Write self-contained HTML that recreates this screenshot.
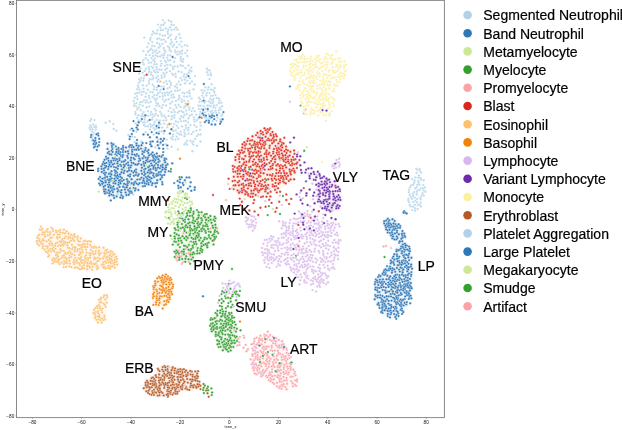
<!DOCTYPE html>
<html lang="en"><head><meta charset="utf-8"><title>t-SNE plot</title>
<style>
html,body{margin:0;padding:0;background:#fff;}
body{width:622px;height:430px;overflow:hidden;position:relative;font-family:"Liberation Sans",sans-serif;}
svg{position:absolute;left:0;top:0;display:block;}
.lab{font-family:"Liberation Sans",sans-serif;font-size:15px;fill:#000;stroke:#000;stroke-width:.22px;}
.leg{font-family:"Liberation Sans",sans-serif;font-size:14.8px;fill:#000;stroke:#000;stroke-width:.2px;}
.tick{font-family:"Liberation Sans",sans-serif;font-size:4.7px;fill:#111;}
</style></head><body>
<svg width="622" height="430" viewBox="0 0 622 430">
<rect x="0" y="0" width="622" height="430" fill="#fff"/>
<rect x="16.5" y="0.4" width="427.9" height="417.2" fill="none" stroke="#858585" stroke-width="0.95"/>
<g stroke="#444" stroke-width="0.4"><line x1="32.4" y1="417.6" x2="32.4" y2="418.8"/><line x1="15.3" y1="415.9" x2="16.5" y2="415.9"/><line x1="81.6" y1="417.6" x2="81.6" y2="418.8"/><line x1="15.3" y1="364.4" x2="16.5" y2="364.4"/><line x1="130.9" y1="417.6" x2="130.9" y2="418.8"/><line x1="15.3" y1="312.8" x2="16.5" y2="312.8"/><line x1="180.1" y1="417.6" x2="180.1" y2="418.8"/><line x1="15.3" y1="261.2" x2="16.5" y2="261.2"/><line x1="229.3" y1="417.6" x2="229.3" y2="418.8"/><line x1="15.3" y1="209.7" x2="16.5" y2="209.7"/><line x1="278.5" y1="417.6" x2="278.5" y2="418.8"/><line x1="15.3" y1="158.1" x2="16.5" y2="158.1"/><line x1="327.7" y1="417.6" x2="327.7" y2="418.8"/><line x1="15.3" y1="106.6" x2="16.5" y2="106.6"/><line x1="377.0" y1="417.6" x2="377.0" y2="418.8"/><line x1="15.3" y1="55.0" x2="16.5" y2="55.0"/><line x1="426.2" y1="417.6" x2="426.2" y2="418.8"/><line x1="15.3" y1="3.5" x2="16.5" y2="3.5"/></g>
<g class="tick"><text x="32.4" y="423.9" text-anchor="middle">−80</text><text x="14.3" y="417.6" text-anchor="end">−80</text><text x="81.6" y="423.9" text-anchor="middle">−60</text><text x="14.3" y="366.1" text-anchor="end">−60</text><text x="130.9" y="423.9" text-anchor="middle">−40</text><text x="14.3" y="314.5" text-anchor="end">−40</text><text x="180.1" y="423.9" text-anchor="middle">−20</text><text x="14.3" y="262.9" text-anchor="end">−20</text><text x="229.3" y="423.9" text-anchor="middle">0</text><text x="14.3" y="211.4" text-anchor="end">0</text><text x="278.5" y="423.9" text-anchor="middle">20</text><text x="14.3" y="159.8" text-anchor="end">20</text><text x="327.7" y="423.9" text-anchor="middle">40</text><text x="14.3" y="108.3" text-anchor="end">40</text><text x="377.0" y="423.9" text-anchor="middle">60</text><text x="14.3" y="56.7" text-anchor="end">60</text><text x="426.2" y="423.9" text-anchor="middle">80</text><text x="14.3" y="5.2" text-anchor="end">80</text><text x="230.5" y="428.4" text-anchor="middle" style="font-size:4px">tsne_x</text><text transform="translate(3.5,209.5) rotate(-90)" text-anchor="middle" style="font-size:4px">tsne_y</text></g>
<defs><filter id="bl" x="-5%" y="-5%" width="110%" height="110%"><feGaussianBlur stdDeviation="1.3"/></filter></defs>
<g filter="url(#bl)">
<polygon points="98.0,168.0 104.0,160.0 107.5,150.0 107.0,141.0 112.0,143.0 120.0,149.0 129.5,144.5 140.0,143.0 150.5,151.5 164.4,155.0 168.0,161.0 167.0,172.5 162.0,180.0 157.4,184.5 143.5,186.5 137.0,191.0 131.9,195.0 122.0,198.0 113.0,198.5 104.0,194.5 98.0,182.0" fill="#2e78b8" fill-opacity="0.08"/>
<polygon points="185.8,205.8 194.0,207.0 201.0,212.0 210.0,215.0 217.0,217.5 219.5,228.8 217.0,238.0 213.0,246.0 204.0,251.0 196.0,256.0 188.4,260.0 178.0,258.5 173.0,250.0 171.5,238.0 174.0,228.0 177.0,220.0 181.0,212.0" fill="#34a030" fill-opacity="0.06"/>
<polygon points="264.5,127.5 270.5,127.9 282.3,139.8 290.2,149.6 298.1,163.5 296.5,171.4 292.2,179.3 282.3,186.0 274.4,190.5 264.5,195.0 254.6,197.0 240.8,196.0 233.9,191.1 231.9,179.3 231.9,169.4 233.9,159.5 239.0,149.0 244.8,139.8 256.6,132.5" fill="#de3224" fill-opacity="0.08"/>
<polygon points="320.0,181.0 328.0,178.0 335.0,181.0 340.0,189.0 341.5,200.0 339.0,208.0 333.0,212.0 326.0,212.0 320.0,207.0 317.5,198.0 317.5,188.0" fill="#6c2cac" fill-opacity="0.07"/>
<polygon points="381.5,221.0 388.0,218.0 394.7,217.6 401.0,226.0 406.0,237.0 399.5,240.5 391.9,239.0 386.0,231.0" fill="#2e78b8" fill-opacity="0.1"/>
<polygon points="400.0,240.0 405.0,241.5 409.0,246.0 412.0,257.4 412.5,271.4 412.6,285.4 410.0,299.3 404.0,313.0 396.0,319.5 388.0,318.0 380.7,311.9 374.5,299.3 373.6,288.0 376.0,278.0 381.7,271.0 388.7,264.0 392.9,257.0 396.0,250.0 398.0,244.0" fill="#2e78b8" fill-opacity="0.08"/>
<polygon points="35.4,234.6 39.6,229.0 47.9,226.7 56.3,227.6 66.1,230.4 75.9,234.0 92.6,242.4 103.8,247.1 112.2,251.3 117.2,256.9 118.3,266.7 113.6,269.5 98.2,270.3 84.2,270.0 75.9,269.5 66.1,268.0 56.3,265.3 47.9,256.9 40.9,249.9 36.8,244.3" fill="#fcc070" fill-opacity="0.09"/>
<polygon points="104.0,293.0 108.0,296.0 106.0,308.0 105.0,320.0 100.0,324.0 94.0,320.0 93.0,310.0 98.0,302.0 101.0,296.0" fill="#fcc070" fill-opacity="0.075"/>
<polygon points="172.8,292.7 172.1,295.2 171.2,297.6 170.1,299.8 168.8,301.8 167.3,303.5 165.8,304.8 164.1,305.9 162.4,306.5 160.7,306.8 159.1,306.6 157.5,306.1 156.1,305.2 154.8,303.9 153.7,302.3 152.8,300.4 152.2,298.2 151.8,295.9 151.7,293.4 151.8,290.9 152.2,288.3 152.9,285.8 153.8,283.4 154.9,281.2 156.2,279.2 157.7,277.5 159.2,276.2 160.9,275.1 162.6,274.5 164.3,274.2 165.9,274.4 167.5,274.9 168.9,275.8 170.2,277.1 171.3,278.7 172.2,280.6 172.8,282.8 173.2,285.1 173.3,287.6 173.2,290.1" fill="#f28208" fill-opacity="0.1"/>
<polygon points="216.0,312.0 231.6,312.0 235.0,322.0 238.0,331.0 237.0,342.0 232.0,350.0 226.8,352.5 219.5,350.0 214.7,338.0 209.0,328.0 209.5,318.0" fill="#34a030" fill-opacity="0.08"/>
<polygon points="257.3,336.0 264.0,334.0 271.8,334.6 283.4,341.8 288.0,352.0 292.0,362.0 297.8,376.6 296.4,386.0 288.0,390.0 280.5,389.6 272.0,384.0 266.0,379.4 254.4,373.7 250.0,362.0 251.5,350.5 253.0,342.0" fill="#faa4aa" fill-opacity="0.09"/>
<polygon points="141.9,386.7 145.1,382.2 152.9,375.7 159.3,366.7 166.0,365.5 172.2,365.8 182.4,368.4 190.0,369.4 196.6,370.6 198.5,378.3 201.0,386.0 196.6,390.0 188.0,390.5 182.4,390.0 177.3,393.7 170.9,395.7 159.3,397.6 150.3,395.0 143.9,389.9" fill="#b65a26" fill-opacity="0.1"/>
</g>
<g class="pts" stroke="#fff" stroke-width="0.3">
<g fill="#b9d7eb"><circle cx="177.4" cy="29.7" r="1.2"/><circle cx="162.5" cy="93.4" r="1.2"/><circle cx="207.9" cy="69.9" r="1.2"/><circle cx="176.8" cy="84.3" r="1.2"/><circle cx="92.5" cy="138.9" r="1.2"/><circle cx="420.0" cy="205.0" r="1.2"/><circle cx="156.5" cy="67.3" r="1.2"/><circle cx="164.3" cy="49.9" r="1.2"/><circle cx="168.6" cy="99.3" r="1.2"/><circle cx="143.0" cy="122.5" r="1.2"/><circle cx="158.6" cy="47.8" r="1.2"/><circle cx="172.6" cy="139.5" r="1.2"/><circle cx="175.7" cy="76.7" r="1.2"/><circle cx="154.8" cy="108.9" r="1.2"/><circle cx="214.4" cy="92.2" r="1.2"/><circle cx="134.0" cy="105.7" r="1.2"/><circle cx="181.0" cy="121.1" r="1.2"/><circle cx="164.0" cy="115.7" r="1.2"/><circle cx="160.3" cy="27.8" r="1.2"/><circle cx="143.7" cy="91.7" r="1.2"/><circle cx="142.5" cy="62.3" r="1.2"/><circle cx="144.0" cy="100.1" r="1.2"/><circle cx="180.3" cy="37.9" r="1.2"/><circle cx="156.9" cy="64.1" r="1.2"/><circle cx="109.7" cy="121.2" r="1.2"/><circle cx="89.5" cy="127.9" r="1.2"/><circle cx="156.7" cy="69.6" r="1.2"/><circle cx="422.5" cy="193.3" r="1.2"/><circle cx="213.4" cy="90.3" r="1.2"/><circle cx="408.8" cy="192.1" r="1.2"/><circle cx="154.2" cy="95.2" r="1.2"/><circle cx="177.5" cy="90.7" r="1.2"/><circle cx="133.2" cy="194.5" r="1.2"/><circle cx="177.3" cy="54.6" r="1.2"/><circle cx="410.1" cy="187.3" r="1.2"/><circle cx="194.5" cy="121.6" r="1.2"/><circle cx="162.2" cy="127.5" r="1.2"/><circle cx="150.2" cy="124.3" r="1.2"/><circle cx="193.5" cy="89.3" r="1.2"/><circle cx="207.7" cy="110.8" r="1.2"/><circle cx="134.7" cy="103.7" r="1.2"/><circle cx="415.2" cy="210.5" r="1.2"/><circle cx="409.7" cy="204.7" r="1.2"/><circle cx="147.6" cy="74.5" r="1.2"/><circle cx="188.5" cy="127.7" r="1.2"/><circle cx="186.1" cy="128.0" r="1.2"/><circle cx="154.8" cy="58.8" r="1.2"/><circle cx="174.2" cy="61.8" r="1.2"/><circle cx="176.6" cy="107.5" r="1.2"/><circle cx="145.7" cy="132.2" r="1.2"/><circle cx="421.2" cy="179.9" r="1.2"/><circle cx="164.6" cy="76.9" r="1.2"/><circle cx="180.7" cy="131.6" r="1.2"/><circle cx="141.2" cy="115.9" r="1.2"/><circle cx="202.2" cy="95.6" r="1.2"/><circle cx="185.4" cy="134.6" r="1.2"/><circle cx="157.0" cy="42.9" r="1.2"/><circle cx="189.8" cy="96.0" r="1.2"/><circle cx="144.3" cy="75.7" r="1.2"/><circle cx="153.9" cy="89.3" r="1.2"/><circle cx="418.2" cy="180.9" r="1.2"/><circle cx="170.9" cy="124.0" r="1.2"/><circle cx="148.6" cy="43.5" r="1.2"/><circle cx="206.3" cy="95.5" r="1.2"/><circle cx="146.1" cy="55.0" r="1.2"/><circle cx="161.4" cy="39.7" r="1.2"/><circle cx="420.6" cy="178.3" r="1.2"/><circle cx="135.2" cy="93.8" r="1.2"/><circle cx="411.2" cy="185.3" r="1.2"/><circle cx="153.7" cy="134.6" r="1.2"/><circle cx="170.3" cy="107.9" r="1.2"/><circle cx="145.7" cy="102.5" r="1.2"/><circle cx="156.3" cy="128.2" r="1.2"/><circle cx="181.7" cy="72.1" r="1.2"/><circle cx="130.4" cy="129.9" r="1.2"/><circle cx="199.6" cy="101.9" r="1.2"/><circle cx="154.4" cy="64.2" r="1.2"/><circle cx="137.0" cy="117.8" r="1.2"/><circle cx="101.8" cy="185.6" r="1.2"/><circle cx="159.8" cy="34.2" r="1.2"/><circle cx="157.8" cy="72.2" r="1.2"/><circle cx="146.0" cy="68.7" r="1.2"/><circle cx="167.2" cy="57.8" r="1.2"/><circle cx="152.7" cy="96.9" r="1.2"/><circle cx="166.6" cy="72.4" r="1.2"/><circle cx="158.0" cy="93.3" r="1.2"/><circle cx="167.0" cy="84.0" r="1.2"/><circle cx="151.0" cy="74.6" r="1.2"/><circle cx="198.4" cy="134.5" r="1.2"/><circle cx="152.9" cy="31.5" r="1.2"/><circle cx="140.7" cy="110.3" r="1.2"/><circle cx="160.7" cy="89.6" r="1.2"/><circle cx="146.2" cy="93.2" r="1.2"/><circle cx="174.7" cy="66.4" r="1.2"/><circle cx="163.4" cy="57.9" r="1.2"/><circle cx="193.0" cy="108.3" r="1.2"/><circle cx="191.9" cy="114.7" r="1.2"/><circle cx="143.5" cy="88.6" r="1.2"/><circle cx="144.9" cy="122.4" r="1.2"/><circle cx="165.6" cy="41.8" r="1.2"/><circle cx="154.5" cy="46.1" r="1.2"/><circle cx="113.3" cy="124.1" r="1.2"/><circle cx="151.1" cy="112.0" r="1.2"/><circle cx="157.0" cy="98.4" r="1.2"/><circle cx="210.4" cy="111.7" r="1.2"/><circle cx="171.9" cy="73.6" r="1.2"/><circle cx="146.6" cy="85.8" r="1.2"/><circle cx="135.5" cy="114.3" r="1.2"/><circle cx="216.8" cy="105.1" r="1.2"/><circle cx="160.0" cy="92.0" r="1.2"/><circle cx="182.8" cy="65.9" r="1.2"/><circle cx="415.4" cy="200.6" r="1.2"/><circle cx="191.6" cy="111.1" r="1.2"/><circle cx="410.7" cy="206.2" r="1.2"/><circle cx="153.2" cy="60.2" r="1.2"/><circle cx="205.2" cy="87.4" r="1.2"/><circle cx="150.9" cy="126.8" r="1.2"/><circle cx="154.7" cy="129.8" r="1.2"/><circle cx="184.4" cy="93.3" r="1.2"/><circle cx="184.8" cy="45.1" r="1.2"/><circle cx="153.6" cy="128.1" r="1.2"/><circle cx="183.1" cy="117.3" r="1.2"/><circle cx="186.6" cy="114.0" r="1.2"/><circle cx="420.7" cy="188.5" r="1.2"/><circle cx="163.4" cy="72.9" r="1.2"/><circle cx="151.2" cy="72.4" r="1.2"/><circle cx="154.1" cy="86.7" r="1.2"/><circle cx="177.8" cy="112.5" r="1.2"/><circle cx="179.1" cy="95.8" r="1.2"/><circle cx="152.7" cy="92.4" r="1.2"/><circle cx="143.2" cy="80.5" r="1.2"/><circle cx="148.0" cy="126.3" r="1.2"/><circle cx="163.8" cy="48.0" r="1.2"/><circle cx="157.5" cy="30.4" r="1.2"/><circle cx="95.9" cy="125.8" r="1.2"/><circle cx="159.0" cy="38.4" r="1.2"/><circle cx="180.4" cy="84.7" r="1.2"/><circle cx="197.0" cy="136.1" r="1.2"/><circle cx="175.3" cy="105.1" r="1.2"/><circle cx="164.1" cy="53.5" r="1.2"/><circle cx="160.9" cy="61.1" r="1.2"/><circle cx="171.6" cy="146.7" r="1.2"/><circle cx="162.9" cy="105.0" r="1.2"/><circle cx="145.6" cy="96.7" r="1.2"/><circle cx="184.3" cy="130.1" r="1.2"/><circle cx="182.1" cy="126.4" r="1.2"/><circle cx="159.4" cy="69.6" r="1.2"/><circle cx="137.4" cy="98.9" r="1.2"/><circle cx="209.7" cy="70.5" r="1.2"/><circle cx="420.0" cy="171.0" r="1.2"/><circle cx="181.3" cy="41.6" r="1.2"/><circle cx="189.8" cy="83.5" r="1.2"/><circle cx="178.5" cy="71.5" r="1.2"/><circle cx="162.9" cy="20.1" r="1.2"/><circle cx="174.4" cy="115.3" r="1.2"/><circle cx="169.6" cy="36.1" r="1.2"/><circle cx="204.4" cy="117.3" r="1.2"/><circle cx="208.3" cy="119.0" r="1.2"/><circle cx="152.7" cy="117.4" r="1.2"/><circle cx="136.4" cy="131.7" r="1.2"/><circle cx="194.8" cy="84.5" r="1.2"/><circle cx="213.5" cy="99.0" r="1.2"/><circle cx="201.7" cy="90.3" r="1.2"/><circle cx="221.2" cy="102.7" r="1.2"/><circle cx="157.9" cy="115.7" r="1.2"/><circle cx="201.4" cy="109.0" r="1.2"/><circle cx="144.7" cy="119.5" r="1.2"/><circle cx="152.7" cy="114.4" r="1.2"/><circle cx="145.0" cy="117.4" r="1.2"/><circle cx="154.9" cy="61.8" r="1.2"/><circle cx="171.6" cy="97.4" r="1.2"/><circle cx="156.7" cy="33.5" r="1.2"/><circle cx="166.9" cy="68.3" r="1.2"/><circle cx="189.4" cy="90.8" r="1.2"/><circle cx="161.6" cy="75.8" r="1.2"/><circle cx="163.9" cy="82.6" r="1.2"/><circle cx="158.4" cy="79.5" r="1.2"/><circle cx="419.4" cy="190.1" r="1.2"/><circle cx="188.6" cy="133.7" r="1.2"/><circle cx="185.3" cy="106.3" r="1.2"/><circle cx="139.1" cy="92.8" r="1.2"/><circle cx="215.3" cy="107.6" r="1.2"/><circle cx="92.0" cy="131.5" r="1.2"/><circle cx="154.2" cy="33.3" r="1.2"/><circle cx="170.3" cy="64.9" r="1.2"/><circle cx="161.3" cy="86.4" r="1.2"/><circle cx="214.8" cy="87.9" r="1.2"/><circle cx="153.4" cy="78.2" r="1.2"/><circle cx="149.2" cy="106.6" r="1.2"/><circle cx="182.5" cy="92.6" r="1.2"/><circle cx="137.3" cy="109.3" r="1.2"/><circle cx="413.0" cy="206.7" r="1.2"/><circle cx="142.7" cy="72.6" r="1.2"/><circle cx="174.0" cy="124.0" r="1.2"/><circle cx="425.4" cy="191.7" r="1.2"/><circle cx="149.6" cy="50.3" r="1.2"/><circle cx="154.5" cy="98.7" r="1.2"/><circle cx="415.2" cy="188.3" r="1.2"/><circle cx="164.0" cy="55.5" r="1.2"/><circle cx="151.9" cy="79.5" r="1.2"/><circle cx="148.9" cy="71.7" r="1.2"/><circle cx="151.8" cy="66.5" r="1.2"/><circle cx="213.5" cy="107.3" r="1.2"/><circle cx="183.1" cy="59.3" r="1.2"/><circle cx="197.0" cy="145.7" r="1.2"/><circle cx="177.9" cy="51.6" r="1.2"/><circle cx="212.6" cy="121.0" r="1.2"/><circle cx="204.5" cy="90.6" r="1.2"/><circle cx="169.5" cy="80.9" r="1.2"/><circle cx="170.9" cy="51.3" r="1.2"/><circle cx="414.5" cy="180.5" r="1.2"/><circle cx="187.0" cy="144.5" r="1.2"/><circle cx="182.0" cy="80.1" r="1.2"/><circle cx="191.7" cy="133.9" r="1.2"/><circle cx="187.0" cy="96.6" r="1.2"/><circle cx="147.8" cy="89.7" r="1.2"/><circle cx="209.1" cy="105.7" r="1.2"/><circle cx="117.3" cy="194.2" r="1.2"/><circle cx="162.7" cy="96.2" r="1.2"/><circle cx="422.9" cy="188.2" r="1.2"/><circle cx="170.3" cy="103.5" r="1.2"/><circle cx="144.3" cy="37.6" r="1.2"/><circle cx="213.1" cy="101.5" r="1.2"/><circle cx="128.4" cy="134.9" r="1.2"/><circle cx="187.8" cy="105.2" r="1.2"/><circle cx="150.6" cy="38.0" r="1.2"/><circle cx="189.2" cy="109.6" r="1.2"/><circle cx="191.4" cy="71.2" r="1.2"/><circle cx="193.4" cy="141.1" r="1.2"/><circle cx="196.3" cy="130.6" r="1.2"/><circle cx="167.8" cy="33.7" r="1.2"/><circle cx="167.9" cy="46.5" r="1.2"/><circle cx="210.6" cy="73.5" r="1.2"/><circle cx="145.7" cy="58.3" r="1.2"/><circle cx="161.7" cy="78.0" r="1.2"/><circle cx="417.7" cy="189.9" r="1.2"/><circle cx="172.7" cy="46.5" r="1.2"/><circle cx="213.6" cy="112.8" r="1.2"/><circle cx="416.9" cy="186.9" r="1.2"/><circle cx="176.3" cy="36.9" r="1.2"/><circle cx="208.9" cy="101.5" r="1.2"/><circle cx="156.3" cy="77.8" r="1.2"/><circle cx="210.1" cy="118.5" r="1.2"/><circle cx="168.4" cy="29.6" r="1.2"/><circle cx="156.0" cy="110.6" r="1.2"/><circle cx="175.5" cy="38.9" r="1.2"/><circle cx="181.7" cy="46.6" r="1.2"/><circle cx="191.2" cy="67.7" r="1.2"/><circle cx="157.6" cy="56.4" r="1.2"/><circle cx="413.3" cy="184.8" r="1.2"/><circle cx="183.6" cy="76.5" r="1.2"/><circle cx="136.5" cy="103.1" r="1.2"/><circle cx="163.4" cy="120.6" r="1.2"/><circle cx="209.5" cy="93.1" r="1.2"/><circle cx="186.0" cy="120.7" r="1.2"/><circle cx="91.4" cy="126.9" r="1.2"/><circle cx="135.0" cy="136.9" r="1.2"/><circle cx="417.2" cy="184.6" r="1.2"/><circle cx="418.9" cy="182.8" r="1.2"/><circle cx="419.6" cy="168.9" r="1.2"/><circle cx="169.3" cy="47.8" r="1.2"/><circle cx="138.5" cy="115.3" r="1.2"/><circle cx="179.2" cy="54.1" r="1.2"/><circle cx="184.3" cy="100.6" r="1.2"/><circle cx="142.4" cy="101.9" r="1.2"/><circle cx="167.5" cy="88.4" r="1.2"/><circle cx="154.7" cy="121.8" r="1.2"/><circle cx="146.6" cy="107.2" r="1.2"/><circle cx="166.0" cy="62.3" r="1.2"/><circle cx="191.9" cy="81.5" r="1.2"/><circle cx="416.2" cy="168.7" r="1.2"/><circle cx="178.2" cy="127.9" r="1.2"/><circle cx="174.0" cy="44.7" r="1.2"/><circle cx="133.8" cy="100.9" r="1.2"/><circle cx="160.1" cy="56.5" r="1.2"/><circle cx="160.9" cy="30.1" r="1.2"/><circle cx="174.9" cy="86.5" r="1.2"/><circle cx="170.9" cy="34.6" r="1.2"/><circle cx="182.0" cy="53.6" r="1.2"/><circle cx="152.8" cy="50.2" r="1.2"/><circle cx="149.1" cy="83.6" r="1.2"/><circle cx="148.8" cy="67.2" r="1.2"/><circle cx="186.1" cy="110.6" r="1.2"/><circle cx="165.7" cy="28.4" r="1.2"/><circle cx="216.8" cy="98.0" r="1.2"/><circle cx="143.8" cy="78.4" r="1.2"/><circle cx="171.2" cy="91.5" r="1.2"/><circle cx="198.5" cy="105.8" r="1.2"/><circle cx="94.5" cy="120.1" r="1.2"/><circle cx="143.8" cy="64.2" r="1.2"/><circle cx="147.7" cy="121.3" r="1.2"/><circle cx="417.6" cy="209.0" r="1.2"/><circle cx="152.6" cy="125.5" r="1.2"/><circle cx="217.4" cy="117.5" r="1.2"/><circle cx="164.8" cy="22.7" r="1.2"/><circle cx="180.5" cy="77.9" r="1.2"/><circle cx="138.7" cy="120.3" r="1.2"/><circle cx="424.8" cy="187.5" r="1.2"/><circle cx="175.4" cy="73.7" r="1.2"/><circle cx="414.9" cy="208.1" r="1.2"/><circle cx="205.7" cy="108.8" r="1.2"/><circle cx="151.2" cy="62.6" r="1.2"/><circle cx="220.6" cy="109.6" r="1.2"/><circle cx="185.7" cy="77.4" r="1.2"/><circle cx="412.2" cy="210.1" r="1.2"/><circle cx="129.2" cy="149.5" r="1.2"/><circle cx="142.7" cy="105.7" r="1.2"/><circle cx="92.5" cy="136.4" r="1.2"/><circle cx="113.7" cy="128.9" r="1.2"/><circle cx="416.9" cy="191.7" r="1.2"/><circle cx="160.0" cy="120.5" r="1.2"/><circle cx="150.2" cy="39.9" r="1.2"/><circle cx="138.8" cy="107.6" r="1.2"/><circle cx="184.1" cy="96.5" r="1.2"/><circle cx="181.7" cy="99.6" r="1.2"/><circle cx="200.1" cy="99.3" r="1.2"/><circle cx="215.5" cy="110.7" r="1.2"/><circle cx="137.0" cy="96.1" r="1.2"/><circle cx="151.9" cy="34.8" r="1.2"/><circle cx="423.8" cy="180.2" r="1.2"/><circle cx="415.5" cy="177.5" r="1.2"/><circle cx="181.3" cy="134.8" r="1.2"/><circle cx="152.1" cy="45.8" r="1.2"/><circle cx="172.8" cy="67.0" r="1.2"/><circle cx="149.2" cy="98.2" r="1.2"/><circle cx="214.1" cy="105.4" r="1.2"/><circle cx="171.1" cy="39.8" r="1.2"/><circle cx="156.5" cy="105.5" r="1.2"/><circle cx="105.6" cy="122.7" r="1.2"/><circle cx="140.3" cy="81.0" r="1.2"/><circle cx="159.3" cy="43.9" r="1.2"/><circle cx="90.3" cy="120.9" r="1.2"/><circle cx="148.7" cy="174.1" r="1.2"/><circle cx="157.3" cy="81.5" r="1.2"/><circle cx="175.0" cy="50.4" r="1.2"/><circle cx="167.5" cy="148.6" r="1.2"/><circle cx="163.7" cy="133.4" r="1.2"/><circle cx="167.3" cy="65.0" r="1.2"/><circle cx="193.9" cy="117.4" r="1.2"/><circle cx="206.8" cy="92.9" r="1.2"/><circle cx="145.5" cy="126.3" r="1.2"/><circle cx="423.7" cy="190.4" r="1.2"/><circle cx="152.2" cy="42.0" r="1.2"/><circle cx="189.7" cy="93.2" r="1.2"/><circle cx="175.8" cy="130.3" r="1.2"/><circle cx="159.7" cy="144.4" r="1.2"/><circle cx="200.3" cy="122.5" r="1.2"/><circle cx="175.6" cy="52.4" r="1.2"/><circle cx="412.9" cy="193.8" r="1.2"/><circle cx="153.0" cy="67.9" r="1.2"/><circle cx="146.6" cy="100.5" r="1.2"/><circle cx="413.2" cy="201.9" r="1.2"/><circle cx="416.9" cy="202.2" r="1.2"/><circle cx="137.1" cy="93.0" r="1.2"/><circle cx="421.6" cy="195.6" r="1.2"/><circle cx="139.4" cy="89.6" r="1.2"/><circle cx="159.4" cy="131.6" r="1.2"/><circle cx="410.8" cy="197.0" r="1.2"/><circle cx="212.0" cy="110.7" r="1.2"/><circle cx="414.1" cy="192.1" r="1.2"/><circle cx="184.7" cy="79.6" r="1.2"/><circle cx="176.8" cy="47.3" r="1.2"/><circle cx="156.3" cy="102.8" r="1.2"/><circle cx="187.1" cy="80.6" r="1.2"/><circle cx="151.5" cy="58.0" r="1.2"/><circle cx="171.6" cy="24.8" r="1.2"/><circle cx="161.5" cy="131.3" r="1.2"/><circle cx="213.1" cy="95.6" r="1.2"/><circle cx="161.7" cy="55.2" r="1.2"/><circle cx="189.7" cy="78.0" r="1.2"/><circle cx="414.8" cy="197.6" r="1.2"/><circle cx="218.9" cy="102.9" r="1.2"/><circle cx="161.7" cy="107.8" r="1.2"/><circle cx="196.7" cy="120.5" r="1.2"/><circle cx="179.4" cy="134.2" r="1.2"/><circle cx="218.9" cy="98.4" r="1.2"/><circle cx="174.7" cy="111.9" r="1.2"/><circle cx="155.2" cy="147.5" r="1.2"/><circle cx="165.4" cy="51.5" r="1.2"/><circle cx="154.8" cy="51.5" r="1.2"/><circle cx="195.2" cy="138.8" r="1.2"/><circle cx="191.6" cy="98.6" r="1.2"/><circle cx="175.6" cy="139.6" r="1.2"/><circle cx="141.6" cy="91.7" r="1.2"/><circle cx="155.5" cy="72.2" r="1.2"/><circle cx="172.2" cy="101.6" r="1.2"/><circle cx="94.3" cy="126.8" r="1.2"/><circle cx="206.1" cy="117.7" r="1.2"/><circle cx="167.9" cy="55.1" r="1.2"/><circle cx="168.5" cy="111.0" r="1.2"/><circle cx="130.6" cy="184.7" r="1.2"/><circle cx="144.8" cy="71.0" r="1.2"/><circle cx="209.5" cy="78.9" r="1.2"/><circle cx="157.9" cy="24.6" r="1.2"/><circle cx="194.7" cy="111.3" r="1.2"/><circle cx="211.1" cy="89.5" r="1.2"/><circle cx="200.4" cy="105.8" r="1.2"/><circle cx="416.5" cy="172.9" r="1.2"/><circle cx="412.0" cy="198.7" r="1.2"/><circle cx="143.1" cy="116.3" r="1.2"/><circle cx="168.9" cy="20.5" r="1.2"/><circle cx="216.6" cy="120.8" r="1.2"/><circle cx="185.4" cy="68.0" r="1.2"/><circle cx="176.6" cy="41.9" r="1.2"/><circle cx="173.1" cy="134.4" r="1.2"/><circle cx="169.6" cy="49.8" r="1.2"/><circle cx="152.0" cy="119.5" r="1.2"/><circle cx="149.0" cy="95.7" r="1.2"/><circle cx="156.9" cy="95.1" r="1.2"/><circle cx="189.6" cy="70.2" r="1.2"/><circle cx="204.5" cy="102.8" r="1.2"/><circle cx="155.8" cy="100.3" r="1.2"/><circle cx="161.8" cy="116.1" r="1.2"/><circle cx="203.7" cy="97.6" r="1.2"/><circle cx="211.7" cy="84.3" r="1.2"/><circle cx="178.5" cy="138.9" r="1.2"/><circle cx="173.2" cy="75.1" r="1.2"/><circle cx="173.1" cy="127.1" r="1.2"/><circle cx="149.0" cy="62.7" r="1.2"/><circle cx="205.6" cy="101.1" r="1.2"/><circle cx="167.2" cy="127.4" r="1.2"/><circle cx="184.4" cy="115.1" r="1.2"/><circle cx="185.8" cy="125.3" r="1.2"/><circle cx="179.8" cy="90.0" r="1.2"/><circle cx="139.8" cy="104.6" r="1.2"/><circle cx="180.6" cy="65.3" r="1.2"/><circle cx="154.1" cy="124.2" r="1.2"/><circle cx="165.1" cy="69.8" r="1.2"/><circle cx="178.1" cy="121.9" r="1.2"/><circle cx="169.9" cy="71.1" r="1.2"/><circle cx="420.7" cy="199.3" r="1.2"/><circle cx="142.9" cy="85.2" r="1.2"/><circle cx="168.7" cy="115.9" r="1.2"/><circle cx="184.4" cy="132.8" r="1.2"/><circle cx="182.8" cy="61.7" r="1.2"/><circle cx="203.1" cy="111.7" r="1.2"/><circle cx="188.1" cy="122.4" r="1.2"/><circle cx="171.5" cy="94.9" r="1.2"/><circle cx="167.5" cy="125.1" r="1.2"/><circle cx="216.3" cy="113.0" r="1.2"/><circle cx="134.8" cy="97.8" r="1.2"/><circle cx="198.0" cy="118.8" r="1.2"/><circle cx="189.3" cy="107.4" r="1.2"/><circle cx="141.2" cy="78.0" r="1.2"/><circle cx="164.2" cy="123.6" r="1.2"/><circle cx="417.1" cy="198.9" r="1.2"/><circle cx="163.7" cy="39.6" r="1.2"/><circle cx="184.4" cy="144.5" r="1.2"/><circle cx="211.1" cy="75.3" r="1.2"/><circle cx="167.8" cy="31.7" r="1.2"/><circle cx="164.6" cy="74.5" r="1.2"/><circle cx="152.7" cy="75.9" r="1.2"/><circle cx="166.2" cy="120.2" r="1.2"/><circle cx="175.8" cy="121.3" r="1.2"/><circle cx="211.8" cy="113.3" r="1.2"/><circle cx="187.2" cy="50.5" r="1.2"/><circle cx="159.4" cy="106.0" r="1.2"/><circle cx="169.8" cy="87.3" r="1.2"/><circle cx="174.3" cy="117.7" r="1.2"/><circle cx="134.7" cy="142.0" r="1.2"/><circle cx="179.4" cy="97.8" r="1.2"/><circle cx="124.3" cy="155.1" r="1.2"/><circle cx="93.7" cy="132.4" r="1.2"/><circle cx="202.9" cy="92.9" r="1.2"/><circle cx="196.1" cy="114.6" r="1.2"/><circle cx="207.3" cy="105.5" r="1.2"/><circle cx="192.3" cy="142.8" r="1.2"/><circle cx="210.9" cy="106.1" r="1.2"/><circle cx="150.2" cy="91.9" r="1.2"/><circle cx="167.3" cy="92.4" r="1.2"/><circle cx="171.0" cy="84.9" r="1.2"/><circle cx="185.1" cy="83.3" r="1.2"/><circle cx="185.6" cy="103.5" r="1.2"/><circle cx="200.3" cy="111.7" r="1.2"/><circle cx="165.0" cy="93.0" r="1.2"/><circle cx="408.4" cy="200.5" r="1.2"/><circle cx="417.5" cy="170.0" r="1.2"/><circle cx="158.0" cy="76.1" r="1.2"/><circle cx="219.8" cy="107.7" r="1.2"/><circle cx="157.0" cy="87.4" r="1.2"/><circle cx="188.7" cy="72.8" r="1.2"/><circle cx="181.6" cy="111.3" r="1.2"/><circle cx="135.3" cy="112.0" r="1.2"/><circle cx="171.5" cy="30.0" r="1.2"/><circle cx="176.7" cy="136.8" r="1.2"/><circle cx="150.6" cy="114.8" r="1.2"/><circle cx="142.5" cy="113.9" r="1.2"/><circle cx="158.1" cy="139.5" r="1.2"/><circle cx="162.9" cy="99.1" r="1.2"/><circle cx="141.1" cy="141.4" r="1.2"/><circle cx="91.2" cy="119.0" r="1.2"/><circle cx="208.1" cy="74.9" r="1.2"/><circle cx="143.7" cy="112.0" r="1.2"/><circle cx="177.0" cy="87.7" r="1.2"/><circle cx="93.2" cy="124.4" r="1.2"/><circle cx="169.4" cy="92.8" r="1.2"/><circle cx="164.9" cy="35.6" r="1.2"/><circle cx="123.4" cy="185.1" r="1.2"/><circle cx="193.2" cy="131.9" r="1.2"/><circle cx="177.7" cy="66.5" r="1.2"/><circle cx="161.3" cy="25.0" r="1.2"/><circle cx="90.2" cy="125.5" r="1.2"/><circle cx="148.7" cy="102.6" r="1.2"/><circle cx="170.1" cy="27.3" r="1.2"/><circle cx="184.2" cy="74.1" r="1.2"/><circle cx="178.5" cy="99.5" r="1.2"/><circle cx="185.3" cy="53.1" r="1.2"/><circle cx="211.1" cy="95.9" r="1.2"/><circle cx="148.0" cy="111.1" r="1.2"/><circle cx="202.0" cy="101.4" r="1.2"/><circle cx="418.0" cy="205.0" r="1.2"/><circle cx="218.8" cy="110.4" r="1.2"/><circle cx="210.2" cy="98.9" r="1.2"/><circle cx="416.7" cy="194.3" r="1.2"/><circle cx="141.1" cy="121.0" r="1.2"/><circle cx="181.2" cy="115.9" r="1.2"/><circle cx="159.4" cy="51.7" r="1.2"/><circle cx="207.1" cy="72.2" r="1.2"/><circle cx="149.3" cy="69.2" r="1.2"/><circle cx="95.7" cy="129.8" r="1.2"/><circle cx="152.8" cy="84.8" r="1.2"/><circle cx="211.8" cy="100.1" r="1.2"/><circle cx="418.4" cy="177.8" r="1.2"/><circle cx="171.2" cy="21.7" r="1.2"/><circle cx="166.2" cy="81.1" r="1.2"/><circle cx="222.4" cy="114.4" r="1.2"/><circle cx="179.2" cy="111.1" r="1.2"/><circle cx="194.2" cy="119.6" r="1.2"/><circle cx="409.0" cy="189.8" r="1.2"/><circle cx="165.9" cy="105.5" r="1.2"/><circle cx="143.3" cy="51.1" r="1.2"/><circle cx="156.9" cy="120.0" r="1.2"/><circle cx="161.5" cy="69.8" r="1.2"/><circle cx="187.3" cy="56.0" r="1.2"/><circle cx="154.7" cy="115.5" r="1.2"/><circle cx="138.0" cy="85.5" r="1.2"/><circle cx="135.7" cy="123.4" r="1.2"/><circle cx="423.8" cy="195.5" r="1.2"/><circle cx="147.9" cy="60.1" r="1.2"/><circle cx="148.2" cy="116.1" r="1.2"/><circle cx="171.9" cy="116.3" r="1.2"/><circle cx="163.8" cy="86.8" r="1.2"/><circle cx="170.8" cy="83.0" r="1.2"/><circle cx="160.1" cy="111.8" r="1.2"/><circle cx="206.8" cy="68.5" r="1.2"/><circle cx="180.1" cy="118.7" r="1.2"/><circle cx="151.0" cy="48.7" r="1.2"/><circle cx="196.4" cy="126.9" r="1.2"/><circle cx="190.5" cy="125.1" r="1.2"/><circle cx="180.2" cy="51.9" r="1.2"/><circle cx="420.6" cy="202.8" r="1.2"/><circle cx="212.3" cy="103.2" r="1.2"/><circle cx="179.3" cy="44.6" r="1.2"/><circle cx="188.5" cy="65.5" r="1.2"/><circle cx="208.8" cy="114.2" r="1.2"/><circle cx="171.8" cy="42.2" r="1.2"/><circle cx="171.6" cy="112.3" r="1.2"/><circle cx="156.2" cy="50.1" r="1.2"/><circle cx="149.7" cy="78.9" r="1.2"/><circle cx="171.0" cy="137.9" r="1.2"/><circle cx="181.9" cy="101.9" r="1.2"/><circle cx="154.0" cy="70.8" r="1.2"/><circle cx="91.8" cy="140.4" r="1.2"/><circle cx="137.1" cy="89.1" r="1.2"/><circle cx="200.0" cy="129.7" r="1.2"/><circle cx="391.0" cy="248.0" r="1.2"/><circle cx="414.7" cy="204.8" r="1.2"/><circle cx="139.2" cy="79.3" r="1.2"/><circle cx="412.0" cy="179.0" r="1.2"/><circle cx="162.4" cy="43.9" r="1.2"/><circle cx="171.6" cy="119.3" r="1.2"/><circle cx="93.0" cy="134.4" r="1.2"/><circle cx="210.4" cy="102.8" r="1.2"/><circle cx="170.5" cy="44.0" r="1.2"/><circle cx="419.0" cy="175.5" r="1.2"/><circle cx="421.0" cy="206.5" r="1.2"/><circle cx="150.0" cy="129.4" r="1.2"/><circle cx="184.1" cy="107.8" r="1.2"/><circle cx="164.9" cy="65.8" r="1.2"/><circle cx="155.6" cy="55.5" r="1.2"/><circle cx="205.2" cy="112.4" r="1.2"/><circle cx="158.1" cy="103.8" r="1.2"/><circle cx="165.0" cy="95.4" r="1.2"/><circle cx="156.8" cy="90.0" r="1.2"/><circle cx="166.5" cy="139.6" r="1.2"/><circle cx="219.5" cy="100.5" r="1.2"/><circle cx="173.8" cy="25.1" r="1.2"/><circle cx="420.2" cy="197.6" r="1.2"/><circle cx="188.8" cy="103.6" r="1.2"/><circle cx="409.7" cy="194.8" r="1.2"/><circle cx="174.4" cy="29.6" r="1.2"/><circle cx="189.8" cy="115.7" r="1.2"/><circle cx="177.4" cy="133.0" r="1.2"/><circle cx="166.0" cy="100.0" r="1.2"/><circle cx="203.8" cy="106.2" r="1.2"/><circle cx="144.0" cy="124.9" r="1.2"/><circle cx="200.6" cy="134.4" r="1.2"/><circle cx="159.7" cy="96.6" r="1.2"/><circle cx="147.1" cy="47.1" r="1.2"/><circle cx="138.3" cy="87.5" r="1.2"/><circle cx="175.0" cy="58.1" r="1.2"/><circle cx="161.4" cy="113.8" r="1.2"/><circle cx="182.1" cy="50.7" r="1.2"/><circle cx="178.6" cy="105.0" r="1.2"/><circle cx="170.3" cy="55.4" r="1.2"/><circle cx="176.7" cy="125.6" r="1.2"/><circle cx="194.3" cy="125.1" r="1.2"/><circle cx="158.8" cy="124.9" r="1.2"/><circle cx="188.1" cy="130.3" r="1.2"/><circle cx="219.2" cy="113.1" r="1.2"/><circle cx="168.2" cy="60.3" r="1.2"/><circle cx="198.8" cy="108.9" r="1.2"/><circle cx="95.9" cy="127.4" r="1.2"/><circle cx="419.5" cy="184.9" r="1.2"/><circle cx="157.2" cy="39.0" r="1.2"/><circle cx="157.1" cy="53.3" r="1.2"/><circle cx="139.0" cy="82.7" r="1.2"/><circle cx="168.2" cy="37.9" r="1.2"/><circle cx="141.6" cy="94.8" r="1.2"/><circle cx="183.3" cy="112.3" r="1.2"/><circle cx="140.3" cy="102.1" r="1.2"/><circle cx="140.7" cy="68.5" r="1.2"/><circle cx="193.3" cy="144.6" r="1.2"/><circle cx="186.8" cy="74.8" r="1.2"/><circle cx="200.5" cy="141.5" r="1.2"/><circle cx="132.3" cy="136.6" r="1.2"/><circle cx="421.3" cy="172.6" r="1.2"/><circle cx="176.0" cy="100.9" r="1.2"/><circle cx="178.8" cy="81.8" r="1.2"/><circle cx="170.2" cy="60.2" r="1.2"/><circle cx="165.6" cy="144.2" r="1.2"/><circle cx="208.0" cy="89.7" r="1.2"/><circle cx="160.1" cy="46.3" r="1.2"/><circle cx="143.6" cy="149.2" r="1.2"/><circle cx="172.8" cy="136.6" r="1.2"/><circle cx="409.1" cy="202.1" r="1.2"/><circle cx="155.8" cy="113.6" r="1.2"/><circle cx="168.1" cy="94.8" r="1.2"/><circle cx="165.6" cy="117.5" r="1.2"/><circle cx="143.4" cy="60.1" r="1.2"/><circle cx="195.0" cy="76.1" r="1.2"/><circle cx="160.7" cy="124.1" r="1.2"/><circle cx="162.7" cy="35.6" r="1.2"/><circle cx="190.4" cy="140.7" r="1.2"/><circle cx="183.9" cy="120.9" r="1.2"/><circle cx="160.7" cy="65.8" r="1.2"/><circle cx="116.2" cy="130.7" r="1.2"/><circle cx="200.6" cy="125.6" r="1.2"/><circle cx="187.4" cy="92.4" r="1.2"/><circle cx="165.1" cy="60.7" r="1.2"/><circle cx="180.5" cy="58.8" r="1.2"/><circle cx="173.4" cy="94.6" r="1.2"/><circle cx="139.9" cy="70.5" r="1.2"/><circle cx="198.9" cy="97.7" r="1.2"/><circle cx="192.4" cy="151.3" r="1.2"/><circle cx="149.0" cy="81.3" r="1.2"/><circle cx="188.1" cy="101.1" r="1.2"/><circle cx="149.7" cy="55.1" r="1.2"/><circle cx="181.0" cy="60.7" r="1.2"/><circle cx="188.5" cy="118.2" r="1.2"/><circle cx="221.3" cy="115.8" r="1.2"/><circle cx="147.9" cy="51.7" r="1.2"/><circle cx="185.5" cy="143.0" r="1.2"/><circle cx="413.0" cy="195.7" r="1.2"/><circle cx="180.9" cy="56.7" r="1.2"/><circle cx="173.1" cy="68.9" r="1.2"/><circle cx="184.5" cy="136.3" r="1.2"/><circle cx="220.1" cy="119.6" r="1.2"/><circle cx="163.4" cy="24.8" r="1.2"/><circle cx="423.3" cy="184.9" r="1.2"/><circle cx="186.9" cy="141.0" r="1.2"/><circle cx="174.0" cy="97.3" r="1.2"/><circle cx="152.7" cy="53.1" r="1.2"/><circle cx="90.4" cy="129.5" r="1.2"/><circle cx="173.5" cy="109.6" r="1.2"/><circle cx="92.4" cy="129.3" r="1.2"/><circle cx="173.4" cy="130.9" r="1.2"/><circle cx="408.3" cy="198.8" r="1.2"/><circle cx="153.0" cy="56.0" r="1.2"/><circle cx="179.2" cy="34.3" r="1.2"/><circle cx="150.8" cy="101.8" r="1.2"/><circle cx="199.8" cy="114.8" r="1.2"/><circle cx="164.5" cy="101.5" r="1.2"/><circle cx="187.3" cy="45.7" r="1.2"/><circle cx="163.0" cy="29.9" r="1.2"/><circle cx="180.7" cy="106.9" r="1.2"/><circle cx="175.1" cy="90.8" r="1.2"/><circle cx="139.3" cy="73.5" r="1.2"/><circle cx="414.2" cy="182.8" r="1.2"/><circle cx="215.5" cy="95.1" r="1.2"/><circle cx="161.7" cy="63.6" r="1.2"/><circle cx="208.6" cy="87.3" r="1.2"/><circle cx="222.0" cy="106.3" r="1.2"/></g>
<g fill="#f28208"><circle cx="154.1" cy="292.4" r="1.2"/><circle cx="166.8" cy="301.8" r="1.2"/><circle cx="165.9" cy="274.4" r="1.2"/><circle cx="171.2" cy="279.5" r="1.2"/><circle cx="153.7" cy="289.0" r="1.2"/><circle cx="169.4" cy="295.8" r="1.2"/><circle cx="157.4" cy="293.8" r="1.2"/><circle cx="166.2" cy="284.4" r="1.2"/><circle cx="164.7" cy="291.0" r="1.2"/><circle cx="156.4" cy="289.6" r="1.2"/><circle cx="169.3" cy="124.0" r="1.2"/><circle cx="163.7" cy="280.9" r="1.2"/><circle cx="168.5" cy="286.9" r="1.2"/><circle cx="166.4" cy="295.9" r="1.2"/><circle cx="161.8" cy="296.4" r="1.2"/><circle cx="170.4" cy="277.7" r="1.2"/><circle cx="158.0" cy="281.6" r="1.2"/><circle cx="160.4" cy="285.6" r="1.2"/><circle cx="156.0" cy="304.4" r="1.2"/><circle cx="168.5" cy="302.0" r="1.2"/><circle cx="155.4" cy="283.5" r="1.2"/><circle cx="172.2" cy="288.3" r="1.2"/><circle cx="165.8" cy="292.8" r="1.2"/><circle cx="169.0" cy="278.6" r="1.2"/><circle cx="169.5" cy="299.2" r="1.2"/><circle cx="162.0" cy="282.2" r="1.2"/><circle cx="169.8" cy="280.2" r="1.2"/><circle cx="162.5" cy="279.3" r="1.2"/><circle cx="169.2" cy="293.2" r="1.2"/><circle cx="162.7" cy="308.5" r="1.2"/><circle cx="162.7" cy="275.4" r="1.2"/><circle cx="162.1" cy="292.8" r="1.2"/><circle cx="152.9" cy="298.0" r="1.2"/><circle cx="164.8" cy="289.0" r="1.2"/><circle cx="157.3" cy="278.3" r="1.2"/><circle cx="167.3" cy="279.5" r="1.2"/><circle cx="170.2" cy="289.7" r="1.2"/><circle cx="159.9" cy="296.1" r="1.2"/><circle cx="201.7" cy="117.8" r="1.2"/><circle cx="156.9" cy="291.1" r="1.2"/><circle cx="158.7" cy="305.1" r="1.2"/><circle cx="168.0" cy="294.1" r="1.2"/><circle cx="163.0" cy="287.5" r="1.2"/><circle cx="153.3" cy="286.1" r="1.2"/><circle cx="168.6" cy="289.7" r="1.2"/><circle cx="159.7" cy="289.0" r="1.2"/><circle cx="153.3" cy="304.9" r="1.2"/><circle cx="169.6" cy="284.6" r="1.2"/><circle cx="156.6" cy="296.2" r="1.2"/><circle cx="155.2" cy="285.5" r="1.2"/><circle cx="187.4" cy="104.2" r="1.2"/><circle cx="161.9" cy="277.5" r="1.2"/><circle cx="240.0" cy="321.5" r="1.2"/><circle cx="156.0" cy="302.5" r="1.2"/><circle cx="159.3" cy="292.9" r="1.2"/><circle cx="164.1" cy="305.0" r="1.2"/><circle cx="159.6" cy="302.8" r="1.2"/><circle cx="161.5" cy="280.6" r="1.2"/><circle cx="165.8" cy="281.4" r="1.2"/><circle cx="172.9" cy="284.6" r="1.2"/><circle cx="166.8" cy="291.0" r="1.2"/><circle cx="153.9" cy="287.5" r="1.2"/><circle cx="153.1" cy="294.2" r="1.2"/><circle cx="161.9" cy="286.3" r="1.2"/><circle cx="168.0" cy="276.1" r="1.2"/><circle cx="159.1" cy="299.9" r="1.2"/><circle cx="153.7" cy="296.3" r="1.2"/><circle cx="163.3" cy="284.0" r="1.2"/><circle cx="164.2" cy="301.1" r="1.2"/><circle cx="164.8" cy="278.8" r="1.2"/><circle cx="167.9" cy="297.6" r="1.2"/><circle cx="172.9" cy="286.7" r="1.2"/><circle cx="156.9" cy="300.6" r="1.2"/><circle cx="169.2" cy="291.5" r="1.2"/><circle cx="168.9" cy="282.6" r="1.2"/><circle cx="166.7" cy="278.1" r="1.2"/><circle cx="165.0" cy="276.8" r="1.2"/><circle cx="163.9" cy="282.4" r="1.2"/><circle cx="159.4" cy="298.2" r="1.2"/><circle cx="166.3" cy="288.0" r="1.2"/><circle cx="163.2" cy="289.3" r="1.2"/><circle cx="155.1" cy="281.2" r="1.2"/><circle cx="159.0" cy="276.8" r="1.2"/><circle cx="180.0" cy="158.8" r="1.2"/><circle cx="161.2" cy="290.0" r="1.2"/><circle cx="167.0" cy="300.2" r="1.2"/><circle cx="171.5" cy="282.8" r="1.2"/><circle cx="164.4" cy="295.8" r="1.2"/><circle cx="169.6" cy="297.4" r="1.2"/><circle cx="171.4" cy="292.0" r="1.2"/><circle cx="160.1" cy="278.0" r="1.2"/><circle cx="172.0" cy="294.3" r="1.2"/><circle cx="156.8" cy="298.4" r="1.2"/><circle cx="166.0" cy="304.3" r="1.2"/><circle cx="163.0" cy="290.8" r="1.2"/></g>
<g fill="#de3224"><circle cx="275.4" cy="211.7" r="1.2"/><circle cx="235.4" cy="160.0" r="1.2"/><circle cx="253.3" cy="177.2" r="1.2"/><circle cx="244.2" cy="151.8" r="1.2"/><circle cx="280.8" cy="176.0" r="1.2"/><circle cx="276.3" cy="169.8" r="1.2"/><circle cx="261.8" cy="184.4" r="1.2"/><circle cx="289.6" cy="169.5" r="1.2"/><circle cx="251.4" cy="193.4" r="1.2"/><circle cx="282.1" cy="142.9" r="1.2"/><circle cx="281.1" cy="173.1" r="1.2"/><circle cx="294.5" cy="153.7" r="1.2"/><circle cx="267.1" cy="140.1" r="1.2"/><circle cx="263.9" cy="160.0" r="1.2"/><circle cx="278.9" cy="152.1" r="1.2"/><circle cx="280.8" cy="165.1" r="1.2"/><circle cx="260.9" cy="148.7" r="1.2"/><circle cx="283.5" cy="179.6" r="1.2"/><circle cx="265.2" cy="178.9" r="1.2"/><circle cx="240.9" cy="168.1" r="1.2"/><circle cx="238.7" cy="169.3" r="1.2"/><circle cx="279.1" cy="156.9" r="1.2"/><circle cx="257.8" cy="164.3" r="1.2"/><circle cx="288.2" cy="159.8" r="1.2"/><circle cx="245.3" cy="194.2" r="1.2"/><circle cx="239.2" cy="154.4" r="1.2"/><circle cx="291.2" cy="198.9" r="1.2"/><circle cx="272.8" cy="184.8" r="1.2"/><circle cx="258.4" cy="192.1" r="1.2"/><circle cx="287.8" cy="150.5" r="1.2"/><circle cx="278.7" cy="179.1" r="1.2"/><circle cx="265.4" cy="144.1" r="1.2"/><circle cx="257.8" cy="144.7" r="1.2"/><circle cx="240.0" cy="191.3" r="1.2"/><circle cx="257.7" cy="147.0" r="1.2"/><circle cx="282.0" cy="153.4" r="1.2"/><circle cx="272.7" cy="174.1" r="1.2"/><circle cx="249.5" cy="156.4" r="1.2"/><circle cx="247.6" cy="174.6" r="1.2"/><circle cx="283.3" cy="177.9" r="1.2"/><circle cx="253.1" cy="173.4" r="1.2"/><circle cx="262.9" cy="196.5" r="1.2"/><circle cx="273.1" cy="163.9" r="1.2"/><circle cx="258.6" cy="176.9" r="1.2"/><circle cx="280.2" cy="168.3" r="1.2"/><circle cx="276.7" cy="148.2" r="1.2"/><circle cx="263.9" cy="142.7" r="1.2"/><circle cx="250.8" cy="151.6" r="1.2"/><circle cx="293.4" cy="168.6" r="1.2"/><circle cx="266.1" cy="152.3" r="1.2"/><circle cx="283.0" cy="181.5" r="1.2"/><circle cx="244.0" cy="208.6" r="1.2"/><circle cx="272.0" cy="175.8" r="1.2"/><circle cx="282.6" cy="168.4" r="1.2"/><circle cx="243.6" cy="187.6" r="1.2"/><circle cx="248.0" cy="172.3" r="1.2"/><circle cx="318.8" cy="211.2" r="1.2"/><circle cx="245.6" cy="171.1" r="1.2"/><circle cx="253.5" cy="144.9" r="1.2"/><circle cx="272.5" cy="158.7" r="1.2"/><circle cx="240.3" cy="152.7" r="1.2"/><circle cx="255.2" cy="184.6" r="1.2"/><circle cx="245.3" cy="148.4" r="1.2"/><circle cx="256.0" cy="135.1" r="1.2"/><circle cx="237.8" cy="176.7" r="1.2"/><circle cx="255.5" cy="146.1" r="1.2"/><circle cx="252.5" cy="136.2" r="1.2"/><circle cx="265.1" cy="141.7" r="1.2"/><circle cx="267.9" cy="193.2" r="1.2"/><circle cx="239.0" cy="192.8" r="1.2"/><circle cx="267.1" cy="159.5" r="1.2"/><circle cx="286.1" cy="177.1" r="1.2"/><circle cx="275.5" cy="182.9" r="1.2"/><circle cx="268.2" cy="185.0" r="1.2"/><circle cx="256.7" cy="188.8" r="1.2"/><circle cx="246.4" cy="161.8" r="1.2"/><circle cx="254.9" cy="186.5" r="1.2"/><circle cx="275.8" cy="134.3" r="1.2"/><circle cx="237.7" cy="170.7" r="1.2"/><circle cx="262.7" cy="132.1" r="1.2"/><circle cx="264.7" cy="153.9" r="1.2"/><circle cx="247.1" cy="178.9" r="1.2"/><circle cx="269.2" cy="199.7" r="1.2"/><circle cx="244.4" cy="162.4" r="1.2"/><circle cx="239.6" cy="173.6" r="1.2"/><circle cx="278.6" cy="172.7" r="1.2"/><circle cx="253.9" cy="190.2" r="1.2"/><circle cx="248.1" cy="148.9" r="1.2"/><circle cx="242.1" cy="192.2" r="1.2"/><circle cx="258.2" cy="215.0" r="1.2"/><circle cx="251.2" cy="185.9" r="1.2"/><circle cx="263.3" cy="167.6" r="1.2"/><circle cx="275.2" cy="159.3" r="1.2"/><circle cx="254.7" cy="152.1" r="1.2"/><circle cx="299.4" cy="160.0" r="1.2"/><circle cx="262.7" cy="169.1" r="1.2"/><circle cx="248.8" cy="183.6" r="1.2"/><circle cx="262.6" cy="164.6" r="1.2"/><circle cx="259.7" cy="183.4" r="1.2"/><circle cx="168.0" cy="200.0" r="1.2"/><circle cx="257.7" cy="190.5" r="1.2"/><circle cx="274.2" cy="140.2" r="1.2"/><circle cx="260.6" cy="130.9" r="1.2"/><circle cx="286.5" cy="178.9" r="1.2"/><circle cx="254.1" cy="159.4" r="1.2"/><circle cx="146.6" cy="74.7" r="1.2"/><circle cx="243.5" cy="176.5" r="1.2"/><circle cx="252.9" cy="152.7" r="1.2"/><circle cx="243.3" cy="164.2" r="1.2"/><circle cx="242.8" cy="178.9" r="1.2"/><circle cx="248.9" cy="185.5" r="1.2"/><circle cx="286.5" cy="152.9" r="1.2"/><circle cx="250.4" cy="196.7" r="1.2"/><circle cx="291.9" cy="165.3" r="1.2"/><circle cx="294.1" cy="150.5" r="1.2"/><circle cx="248.0" cy="138.6" r="1.2"/><circle cx="272.5" cy="132.0" r="1.2"/><circle cx="246.4" cy="173.5" r="1.2"/><circle cx="279.6" cy="149.0" r="1.2"/><circle cx="283.2" cy="159.4" r="1.2"/><circle cx="278.0" cy="188.3" r="1.2"/><circle cx="271.2" cy="140.2" r="1.2"/><circle cx="258.7" cy="171.0" r="1.2"/><circle cx="260.1" cy="151.9" r="1.2"/><circle cx="288.0" cy="156.7" r="1.2"/><circle cx="280.1" cy="141.3" r="1.2"/><circle cx="213.0" cy="195.0" r="1.2"/><circle cx="289.6" cy="155.5" r="1.2"/><circle cx="265.6" cy="206.8" r="1.2"/><circle cx="282.9" cy="156.9" r="1.2"/><circle cx="271.6" cy="202.9" r="1.2"/><circle cx="250.1" cy="148.4" r="1.2"/><circle cx="252.2" cy="169.8" r="1.2"/><circle cx="265.6" cy="136.8" r="1.2"/><circle cx="255.2" cy="149.5" r="1.2"/><circle cx="261.1" cy="170.8" r="1.2"/><circle cx="258.4" cy="152.9" r="1.2"/><circle cx="264.5" cy="163.1" r="1.2"/><circle cx="310.6" cy="217.8" r="1.2"/><circle cx="270.6" cy="191.8" r="1.2"/><circle cx="265.8" cy="130.2" r="1.2"/><circle cx="246.8" cy="192.3" r="1.2"/><circle cx="295.4" cy="159.2" r="1.2"/><circle cx="263.7" cy="186.3" r="1.2"/><circle cx="280.6" cy="146.1" r="1.2"/><circle cx="243.6" cy="171.0" r="1.2"/><circle cx="275.2" cy="156.0" r="1.2"/><circle cx="266.4" cy="187.2" r="1.2"/><circle cx="276.1" cy="179.7" r="1.2"/><circle cx="270.2" cy="128.2" r="1.2"/><circle cx="228.6" cy="178.7" r="1.2"/><circle cx="269.3" cy="152.8" r="1.2"/><circle cx="281.2" cy="158.3" r="1.2"/><circle cx="250.4" cy="183.2" r="1.2"/><circle cx="268.7" cy="169.4" r="1.2"/><circle cx="271.0" cy="155.7" r="1.2"/><circle cx="265.3" cy="191.2" r="1.2"/><circle cx="261.7" cy="161.6" r="1.2"/><circle cx="283.6" cy="143.5" r="1.2"/><circle cx="281.7" cy="144.9" r="1.2"/><circle cx="263.2" cy="134.6" r="1.2"/><circle cx="237.4" cy="154.4" r="1.2"/><circle cx="250.1" cy="140.6" r="1.2"/><circle cx="235.3" cy="171.7" r="1.2"/><circle cx="243.8" cy="185.9" r="1.2"/><circle cx="240.5" cy="170.9" r="1.2"/><circle cx="276.4" cy="165.4" r="1.2"/><circle cx="242.2" cy="158.7" r="1.2"/><circle cx="267.8" cy="188.2" r="1.2"/><circle cx="248.0" cy="180.2" r="1.2"/><circle cx="265.5" cy="185.4" r="1.2"/><circle cx="288.9" cy="163.1" r="1.2"/><circle cx="240.9" cy="176.6" r="1.2"/><circle cx="288.8" cy="180.9" r="1.2"/><circle cx="239.2" cy="181.0" r="1.2"/><circle cx="263.7" cy="158.0" r="1.2"/><circle cx="243.9" cy="190.0" r="1.2"/><circle cx="275.0" cy="162.0" r="1.2"/><circle cx="248.2" cy="195.5" r="1.2"/><circle cx="251.3" cy="190.8" r="1.2"/><circle cx="284.3" cy="137.8" r="1.2"/><circle cx="237.3" cy="167.9" r="1.2"/><circle cx="297.3" cy="162.5" r="1.2"/><circle cx="237.5" cy="173.8" r="1.2"/><circle cx="253.2" cy="193.6" r="1.2"/><circle cx="273.2" cy="153.4" r="1.2"/><circle cx="241.9" cy="201.8" r="1.2"/><circle cx="277.9" cy="164.3" r="1.2"/><circle cx="266.6" cy="156.7" r="1.2"/><circle cx="279.8" cy="182.6" r="1.2"/><circle cx="255.8" cy="144.4" r="1.2"/><circle cx="261.6" cy="166.0" r="1.2"/><circle cx="278.4" cy="143.4" r="1.2"/><circle cx="262.4" cy="188.6" r="1.2"/><circle cx="267.5" cy="129.1" r="1.2"/><circle cx="272.8" cy="138.4" r="1.2"/><circle cx="286.3" cy="200.0" r="1.2"/><circle cx="281.2" cy="150.3" r="1.2"/><circle cx="280.3" cy="139.5" r="1.2"/><circle cx="285.9" cy="158.0" r="1.2"/><circle cx="237.6" cy="190.4" r="1.2"/><circle cx="293.0" cy="156.9" r="1.2"/><circle cx="254.8" cy="164.3" r="1.2"/><circle cx="294.3" cy="164.1" r="1.2"/><circle cx="284.4" cy="182.6" r="1.2"/><circle cx="286.0" cy="162.3" r="1.2"/><circle cx="252.1" cy="140.2" r="1.2"/><circle cx="282.8" cy="166.3" r="1.2"/><circle cx="234.5" cy="166.7" r="1.2"/><circle cx="270.0" cy="175.0" r="1.2"/><circle cx="279.9" cy="180.4" r="1.2"/><circle cx="266.6" cy="150.5" r="1.2"/><circle cx="276.1" cy="186.1" r="1.2"/><circle cx="241.9" cy="190.4" r="1.2"/><circle cx="229.7" cy="188.9" r="1.2"/><circle cx="256.8" cy="166.2" r="1.2"/><circle cx="232.8" cy="165.9" r="1.2"/><circle cx="286.1" cy="146.4" r="1.2"/><circle cx="335.4" cy="185.8" r="1.2"/><circle cx="276.7" cy="207.9" r="1.2"/><circle cx="273.9" cy="156.9" r="1.2"/><circle cx="278.6" cy="176.1" r="1.2"/><circle cx="284.8" cy="175.2" r="1.2"/><circle cx="258.9" cy="175.1" r="1.2"/><circle cx="258.5" cy="151.3" r="1.2"/><circle cx="251.3" cy="176.1" r="1.2"/><circle cx="254.6" cy="211.4" r="1.2"/><circle cx="266.5" cy="164.3" r="1.2"/><circle cx="290.9" cy="174.5" r="1.2"/><circle cx="276.3" cy="173.3" r="1.2"/><circle cx="288.0" cy="175.7" r="1.2"/><circle cx="252.8" cy="161.6" r="1.2"/><circle cx="260.3" cy="176.1" r="1.2"/><circle cx="246.1" cy="185.0" r="1.2"/><circle cx="298.3" cy="224.9" r="1.2"/><circle cx="249.2" cy="167.3" r="1.2"/><circle cx="293.9" cy="159.8" r="1.2"/><circle cx="253.1" cy="164.9" r="1.2"/><circle cx="262.8" cy="144.5" r="1.2"/><circle cx="241.7" cy="150.3" r="1.2"/><circle cx="245.3" cy="156.0" r="1.2"/><circle cx="250.7" cy="166.8" r="1.2"/><circle cx="235.4" cy="157.1" r="1.2"/><circle cx="257.4" cy="181.4" r="1.2"/><circle cx="272.3" cy="180.4" r="1.2"/><circle cx="288.1" cy="161.5" r="1.2"/><circle cx="249.5" cy="175.9" r="1.2"/><circle cx="264.2" cy="145.6" r="1.2"/><circle cx="258.0" cy="155.3" r="1.2"/><circle cx="246.1" cy="144.1" r="1.2"/><circle cx="276.8" cy="152.8" r="1.2"/><circle cx="279.7" cy="158.8" r="1.2"/><circle cx="243.0" cy="183.8" r="1.2"/><circle cx="291.4" cy="161.2" r="1.2"/><circle cx="261.2" cy="159.7" r="1.2"/><circle cx="234.9" cy="180.6" r="1.2"/><circle cx="243.0" cy="152.8" r="1.2"/><circle cx="247.3" cy="141.0" r="1.2"/><circle cx="255.0" cy="147.8" r="1.2"/><circle cx="296.3" cy="163.8" r="1.2"/><circle cx="286.1" cy="149.5" r="1.2"/><circle cx="255.0" cy="174.0" r="1.2"/><circle cx="286.2" cy="167.5" r="1.2"/><circle cx="250.3" cy="158.0" r="1.2"/><circle cx="242.5" cy="144.2" r="1.2"/><circle cx="259.4" cy="156.8" r="1.2"/><circle cx="273.3" cy="151.6" r="1.2"/><circle cx="290.3" cy="165.1" r="1.2"/><circle cx="237.8" cy="182.3" r="1.2"/><circle cx="273.5" cy="134.9" r="1.2"/><circle cx="286.3" cy="194.4" r="1.2"/><circle cx="275.3" cy="176.1" r="1.2"/><circle cx="266.5" cy="196.7" r="1.2"/><circle cx="282.4" cy="176.3" r="1.2"/><circle cx="255.7" cy="162.7" r="1.2"/><circle cx="258.3" cy="137.2" r="1.2"/><circle cx="294.7" cy="172.6" r="1.2"/><circle cx="266.7" cy="133.3" r="1.2"/><circle cx="260.8" cy="189.3" r="1.2"/><circle cx="256.8" cy="178.6" r="1.2"/><circle cx="276.1" cy="140.0" r="1.2"/><circle cx="259.6" cy="161.4" r="1.2"/><circle cx="292.3" cy="163.4" r="1.2"/><circle cx="285.7" cy="183.4" r="1.2"/><circle cx="283.8" cy="170.9" r="1.2"/><circle cx="273.8" cy="141.8" r="1.2"/><circle cx="244.3" cy="142.3" r="1.2"/><circle cx="279.4" cy="166.1" r="1.2"/><circle cx="285.3" cy="159.6" r="1.2"/><circle cx="270.4" cy="196.4" r="1.2"/><circle cx="233.7" cy="185.4" r="1.2"/><circle cx="276.8" cy="192.4" r="1.2"/><circle cx="298.3" cy="246.0" r="1.2"/><circle cx="245.0" cy="145.4" r="1.2"/><circle cx="289.1" cy="203.9" r="1.2"/><circle cx="233.4" cy="171.6" r="1.2"/><circle cx="241.6" cy="184.5" r="1.2"/><circle cx="245.6" cy="191.2" r="1.2"/><circle cx="259.4" cy="166.7" r="1.2"/><circle cx="255.7" cy="195.0" r="1.2"/><circle cx="268.4" cy="138.6" r="1.2"/><circle cx="239.5" cy="162.1" r="1.2"/><circle cx="253.2" cy="155.7" r="1.2"/><circle cx="274.6" cy="178.4" r="1.2"/><circle cx="251.7" cy="146.0" r="1.2"/><circle cx="249.8" cy="179.6" r="1.2"/><circle cx="272.2" cy="143.3" r="1.2"/><circle cx="232.6" cy="181.1" r="1.2"/><circle cx="273.8" cy="137.0" r="1.2"/><circle cx="267.8" cy="131.9" r="1.2"/><circle cx="282.9" cy="155.3" r="1.2"/><circle cx="264.9" cy="182.1" r="1.2"/><circle cx="248.1" cy="194.0" r="1.2"/><circle cx="279.7" cy="170.7" r="1.2"/><circle cx="261.6" cy="146.7" r="1.2"/><circle cx="239.7" cy="198.6" r="1.2"/><circle cx="260.6" cy="181.1" r="1.2"/><circle cx="260.6" cy="172.9" r="1.2"/><circle cx="248.3" cy="150.8" r="1.2"/><circle cx="255.6" cy="169.8" r="1.2"/><circle cx="269.5" cy="148.1" r="1.2"/><circle cx="244.5" cy="169.2" r="1.2"/><circle cx="254.5" cy="143.5" r="1.2"/><circle cx="247.9" cy="188.4" r="1.2"/><circle cx="235.4" cy="185.2" r="1.2"/><circle cx="260.6" cy="144.0" r="1.2"/><circle cx="266.7" cy="154.3" r="1.2"/><circle cx="278.4" cy="148.0" r="1.2"/><circle cx="275.1" cy="189.8" r="1.2"/><circle cx="262.7" cy="180.0" r="1.2"/><circle cx="264.5" cy="128.3" r="1.2"/><circle cx="284.2" cy="172.9" r="1.2"/><circle cx="261.1" cy="133.6" r="1.2"/><circle cx="256.3" cy="152.5" r="1.2"/><circle cx="249.1" cy="161.8" r="1.2"/><circle cx="291.5" cy="159.6" r="1.2"/><circle cx="260.7" cy="138.7" r="1.2"/><circle cx="290.4" cy="173.0" r="1.2"/><circle cx="259.9" cy="137.4" r="1.2"/><circle cx="270.8" cy="169.1" r="1.2"/><circle cx="290.3" cy="151.8" r="1.2"/><circle cx="273.9" cy="148.9" r="1.2"/><circle cx="272.8" cy="186.4" r="1.2"/><circle cx="285.0" cy="165.2" r="1.2"/><circle cx="262.5" cy="140.4" r="1.2"/><circle cx="263.6" cy="173.3" r="1.2"/><circle cx="269.7" cy="145.8" r="1.2"/><circle cx="259.2" cy="148.1" r="1.2"/><circle cx="279.2" cy="201.7" r="1.2"/><circle cx="260.4" cy="140.4" r="1.2"/><circle cx="241.5" cy="165.9" r="1.2"/><circle cx="269.4" cy="163.0" r="1.2"/><circle cx="239.0" cy="166.3" r="1.2"/><circle cx="253.4" cy="203.1" r="1.2"/><circle cx="254.2" cy="200.0" r="1.2"/><circle cx="239.4" cy="156.7" r="1.2"/><circle cx="233.8" cy="176.7" r="1.2"/><circle cx="258.3" cy="185.4" r="1.2"/><circle cx="252.7" cy="196.7" r="1.2"/><circle cx="272.4" cy="165.4" r="1.2"/><circle cx="239.0" cy="185.2" r="1.2"/><circle cx="249.8" cy="144.0" r="1.2"/><circle cx="260.5" cy="168.9" r="1.2"/><circle cx="267.3" cy="174.7" r="1.2"/><circle cx="265.6" cy="189.3" r="1.2"/><circle cx="257.0" cy="171.0" r="1.2"/><circle cx="297.0" cy="167.9" r="1.2"/><circle cx="253.8" cy="181.0" r="1.2"/><circle cx="249.4" cy="210.5" r="1.2"/><circle cx="280.1" cy="191.8" r="1.2"/><circle cx="277.2" cy="150.2" r="1.2"/><circle cx="294.1" cy="179.3" r="1.2"/><circle cx="242.4" cy="147.5" r="1.2"/><circle cx="260.4" cy="207.7" r="1.2"/><circle cx="249.5" cy="160.1" r="1.2"/><circle cx="274.4" cy="186.3" r="1.2"/><circle cx="261.0" cy="155.6" r="1.2"/><circle cx="253.9" cy="182.8" r="1.2"/><circle cx="251.4" cy="180.1" r="1.2"/><circle cx="233.0" cy="169.1" r="1.2"/><circle cx="279.4" cy="154.4" r="1.2"/><circle cx="269.3" cy="140.2" r="1.2"/><circle cx="277.7" cy="154.6" r="1.2"/><circle cx="278.5" cy="183.7" r="1.2"/><circle cx="259.5" cy="190.6" r="1.2"/><circle cx="261.2" cy="186.1" r="1.2"/><circle cx="261.0" cy="197.1" r="1.2"/><circle cx="251.7" cy="156.3" r="1.2"/><circle cx="257.3" cy="142.7" r="1.2"/><circle cx="276.7" cy="136.3" r="1.2"/><circle cx="268.4" cy="154.1" r="1.2"/><circle cx="271.6" cy="178.8" r="1.2"/><circle cx="255.1" cy="188.9" r="1.2"/><circle cx="256.3" cy="156.7" r="1.2"/><circle cx="241.6" cy="188.7" r="1.2"/><circle cx="284.4" cy="151.2" r="1.2"/><circle cx="303.8" cy="188.1" r="1.2"/><circle cx="291.8" cy="170.5" r="1.2"/><circle cx="270.5" cy="133.9" r="1.2"/><circle cx="282.3" cy="147.5" r="1.2"/><circle cx="286.7" cy="173.2" r="1.2"/><circle cx="254.6" cy="141.6" r="1.2"/><circle cx="246.0" cy="165.3" r="1.2"/><circle cx="258.8" cy="159.4" r="1.2"/><circle cx="285.4" cy="155.2" r="1.2"/><circle cx="290.6" cy="179.4" r="1.2"/><circle cx="243.4" cy="174.7" r="1.2"/><circle cx="290.0" cy="171.4" r="1.2"/><circle cx="283.8" cy="161.0" r="1.2"/><circle cx="257.5" cy="132.7" r="1.2"/><circle cx="270.8" cy="135.4" r="1.2"/><circle cx="238.9" cy="150.8" r="1.2"/><circle cx="214.0" cy="240.0" r="1.2"/><circle cx="271.1" cy="161.0" r="1.2"/><circle cx="254.2" cy="170.6" r="1.2"/><circle cx="245.2" cy="167.7" r="1.2"/><circle cx="268.2" cy="179.3" r="1.2"/><circle cx="264.8" cy="169.6" r="1.2"/><circle cx="269.1" cy="129.8" r="1.2"/><circle cx="239.0" cy="159.1" r="1.2"/><circle cx="256.7" cy="172.8" r="1.2"/><circle cx="233.7" cy="189.1" r="1.2"/><circle cx="259.4" cy="142.5" r="1.2"/><circle cx="240.3" cy="205.0" r="1.2"/><circle cx="270.5" cy="166.6" r="1.2"/><circle cx="281.1" cy="177.9" r="1.2"/><circle cx="294.3" cy="170.9" r="1.2"/><circle cx="272.4" cy="168.2" r="1.2"/><circle cx="243.7" cy="159.3" r="1.2"/><circle cx="264.2" cy="148.2" r="1.2"/><circle cx="249.5" cy="152.4" r="1.2"/><circle cx="275.6" cy="145.9" r="1.2"/><circle cx="249.3" cy="154.0" r="1.2"/></g>
<g fill="#faa4aa"><circle cx="269.7" cy="372.2" r="1.2"/><circle cx="256.0" cy="352.3" r="1.2"/><circle cx="277.0" cy="382.8" r="1.2"/><circle cx="288.8" cy="372.5" r="1.2"/><circle cx="190.5" cy="256.5" r="1.2"/><circle cx="262.0" cy="338.9" r="1.2"/><circle cx="178.9" cy="243.5" r="1.2"/><circle cx="246.5" cy="351.3" r="1.2"/><circle cx="292.6" cy="376.6" r="1.2"/><circle cx="262.3" cy="340.7" r="1.2"/><circle cx="181.7" cy="263.8" r="1.2"/><circle cx="288.6" cy="353.7" r="1.2"/><circle cx="266.1" cy="375.9" r="1.2"/><circle cx="255.7" cy="358.5" r="1.2"/><circle cx="252.8" cy="355.9" r="1.2"/><circle cx="276.5" cy="358.7" r="1.2"/><circle cx="264.4" cy="334.8" r="1.2"/><circle cx="257.5" cy="355.1" r="1.2"/><circle cx="282.0" cy="381.6" r="1.2"/><circle cx="176.1" cy="258.4" r="1.2"/><circle cx="263.3" cy="369.9" r="1.2"/><circle cx="278.7" cy="377.8" r="1.2"/><circle cx="266.2" cy="335.2" r="1.2"/><circle cx="283.5" cy="344.1" r="1.2"/><circle cx="274.2" cy="383.9" r="1.2"/><circle cx="277.0" cy="386.3" r="1.2"/><circle cx="273.9" cy="340.3" r="1.2"/><circle cx="277.2" cy="376.9" r="1.2"/><circle cx="270.5" cy="358.7" r="1.2"/><circle cx="277.5" cy="366.9" r="1.2"/><circle cx="263.1" cy="358.4" r="1.2"/><circle cx="286.6" cy="389.2" r="1.2"/><circle cx="272.7" cy="336.7" r="1.2"/><circle cx="181.9" cy="253.4" r="1.2"/><circle cx="270.1" cy="335.0" r="1.2"/><circle cx="265.4" cy="346.9" r="1.2"/><circle cx="257.8" cy="359.6" r="1.2"/><circle cx="255.9" cy="356.6" r="1.2"/><circle cx="270.7" cy="350.1" r="1.2"/><circle cx="284.0" cy="367.2" r="1.2"/><circle cx="252.6" cy="348.6" r="1.2"/><circle cx="280.9" cy="370.0" r="1.2"/><circle cx="287.9" cy="368.8" r="1.2"/><circle cx="271.7" cy="379.6" r="1.2"/><circle cx="281.7" cy="384.8" r="1.2"/><circle cx="262.4" cy="371.2" r="1.2"/><circle cx="281.4" cy="347.3" r="1.2"/><circle cx="260.6" cy="357.0" r="1.2"/><circle cx="190.7" cy="252.5" r="1.2"/><circle cx="263.3" cy="352.0" r="1.2"/><circle cx="253.2" cy="350.4" r="1.2"/><circle cx="295.5" cy="375.4" r="1.2"/><circle cx="260.7" cy="339.9" r="1.2"/><circle cx="289.8" cy="363.2" r="1.2"/><circle cx="273.9" cy="379.2" r="1.2"/><circle cx="276.0" cy="362.4" r="1.2"/><circle cx="277.9" cy="369.6" r="1.2"/><circle cx="271.8" cy="345.8" r="1.2"/><circle cx="210.6" cy="228.5" r="1.2"/><circle cx="284.3" cy="346.5" r="1.2"/><circle cx="290.8" cy="376.8" r="1.2"/><circle cx="275.7" cy="341.3" r="1.2"/><circle cx="255.7" cy="363.6" r="1.2"/><circle cx="286.6" cy="352.9" r="1.2"/><circle cx="263.3" cy="362.6" r="1.2"/><circle cx="286.3" cy="371.1" r="1.2"/><circle cx="282.8" cy="386.1" r="1.2"/><circle cx="267.7" cy="331.7" r="1.2"/><circle cx="305.6" cy="109.6" r="1.2"/><circle cx="273.1" cy="343.1" r="1.2"/><circle cx="267.2" cy="355.7" r="1.2"/><circle cx="290.0" cy="366.4" r="1.2"/><circle cx="259.1" cy="365.3" r="1.2"/><circle cx="268.8" cy="357.2" r="1.2"/><circle cx="180.3" cy="252.4" r="1.2"/><circle cx="199.8" cy="217.2" r="1.2"/><circle cx="264.0" cy="349.4" r="1.2"/><circle cx="291.0" cy="364.6" r="1.2"/><circle cx="264.4" cy="354.8" r="1.2"/><circle cx="256.6" cy="365.4" r="1.2"/><circle cx="268.6" cy="380.1" r="1.2"/><circle cx="295.3" cy="380.4" r="1.2"/><circle cx="288.9" cy="355.4" r="1.2"/><circle cx="271.8" cy="340.7" r="1.2"/><circle cx="290.9" cy="368.2" r="1.2"/><circle cx="272.1" cy="369.4" r="1.2"/><circle cx="386.0" cy="246.0" r="1.2"/><circle cx="243.6" cy="347.8" r="1.2"/><circle cx="282.1" cy="341.2" r="1.2"/><circle cx="252.9" cy="362.6" r="1.2"/><circle cx="266.0" cy="348.8" r="1.2"/><circle cx="267.2" cy="354.1" r="1.2"/><circle cx="274.3" cy="359.9" r="1.2"/><circle cx="264.7" cy="337.1" r="1.2"/><circle cx="279.8" cy="381.7" r="1.2"/><circle cx="244.2" cy="337.7" r="1.2"/><circle cx="286.5" cy="378.0" r="1.2"/><circle cx="257.1" cy="368.9" r="1.2"/><circle cx="271.6" cy="347.5" r="1.2"/><circle cx="257.4" cy="370.6" r="1.2"/><circle cx="284.0" cy="359.5" r="1.2"/><circle cx="275.5" cy="343.8" r="1.2"/><circle cx="278.4" cy="365.5" r="1.2"/><circle cx="279.5" cy="347.7" r="1.2"/><circle cx="278.0" cy="354.4" r="1.2"/><circle cx="267.2" cy="368.4" r="1.2"/><circle cx="217.1" cy="228.5" r="1.2"/><circle cx="261.3" cy="376.2" r="1.2"/><circle cx="263.7" cy="346.4" r="1.2"/><circle cx="274.8" cy="350.4" r="1.2"/><circle cx="257.8" cy="367.4" r="1.2"/><circle cx="262.5" cy="347.9" r="1.2"/><circle cx="272.5" cy="350.9" r="1.2"/><circle cx="267.5" cy="361.7" r="1.2"/><circle cx="239.9" cy="336.9" r="1.2"/><circle cx="294.4" cy="373.6" r="1.2"/><circle cx="188.8" cy="261.9" r="1.2"/><circle cx="256.4" cy="374.4" r="1.2"/><circle cx="274.6" cy="367.0" r="1.2"/><circle cx="281.1" cy="378.7" r="1.2"/><circle cx="258.0" cy="357.7" r="1.2"/><circle cx="181.1" cy="256.3" r="1.2"/><circle cx="254.5" cy="338.7" r="1.2"/><circle cx="259.7" cy="359.5" r="1.2"/><circle cx="283.8" cy="356.5" r="1.2"/><circle cx="247.9" cy="349.3" r="1.2"/><circle cx="259.3" cy="368.9" r="1.2"/><circle cx="280.0" cy="353.8" r="1.2"/><circle cx="237.4" cy="345.5" r="1.2"/><circle cx="283.5" cy="376.9" r="1.2"/><circle cx="257.7" cy="343.1" r="1.2"/><circle cx="268.6" cy="346.6" r="1.2"/><circle cx="267.5" cy="377.4" r="1.2"/><circle cx="185.8" cy="249.0" r="1.2"/><circle cx="276.8" cy="355.9" r="1.2"/><circle cx="256.6" cy="337.6" r="1.2"/><circle cx="270.5" cy="381.3" r="1.2"/><circle cx="286.6" cy="380.4" r="1.2"/><circle cx="243.5" cy="335.6" r="1.2"/><circle cx="294.9" cy="371.6" r="1.2"/><circle cx="284.4" cy="364.9" r="1.2"/><circle cx="281.7" cy="363.2" r="1.2"/><circle cx="284.3" cy="373.7" r="1.2"/><circle cx="285.9" cy="356.1" r="1.2"/><circle cx="261.3" cy="366.4" r="1.2"/><circle cx="270.3" cy="378.1" r="1.2"/><circle cx="239.2" cy="342.3" r="1.2"/><circle cx="283.6" cy="384.3" r="1.2"/><circle cx="283.9" cy="369.1" r="1.2"/><circle cx="266.2" cy="360.5" r="1.2"/><circle cx="303.8" cy="113.4" r="1.2"/><circle cx="262.9" cy="375.0" r="1.2"/><circle cx="276.2" cy="338.0" r="1.2"/><circle cx="290.5" cy="370.0" r="1.2"/><circle cx="273.6" cy="356.4" r="1.2"/><circle cx="260.7" cy="350.8" r="1.2"/><circle cx="254.8" cy="346.6" r="1.2"/><circle cx="238.3" cy="338.9" r="1.2"/><circle cx="253.6" cy="343.6" r="1.2"/><circle cx="257.9" cy="344.8" r="1.2"/><circle cx="285.2" cy="387.1" r="1.2"/><circle cx="265.9" cy="353.1" r="1.2"/><circle cx="281.0" cy="373.3" r="1.2"/><circle cx="294.9" cy="384.6" r="1.2"/><circle cx="216.2" cy="317.2" r="1.2"/><circle cx="267.0" cy="358.9" r="1.2"/><circle cx="183.1" cy="262.0" r="1.2"/><circle cx="283.5" cy="371.9" r="1.2"/><circle cx="251.8" cy="364.3" r="1.2"/><circle cx="293.4" cy="369.6" r="1.2"/><circle cx="280.1" cy="375.8" r="1.2"/><circle cx="284.1" cy="380.5" r="1.2"/><circle cx="277.8" cy="346.9" r="1.2"/><circle cx="265.0" cy="342.3" r="1.2"/><circle cx="289.5" cy="358.1" r="1.2"/><circle cx="280.0" cy="386.4" r="1.2"/><circle cx="271.9" cy="372.2" r="1.2"/><circle cx="254.2" cy="364.4" r="1.2"/><circle cx="252.7" cy="367.9" r="1.2"/><circle cx="278.8" cy="339.9" r="1.2"/><circle cx="255.0" cy="353.7" r="1.2"/><circle cx="254.7" cy="373.5" r="1.2"/><circle cx="266.8" cy="339.3" r="1.2"/><circle cx="293.0" cy="386.2" r="1.2"/><circle cx="252.4" cy="354.2" r="1.2"/><circle cx="279.1" cy="371.0" r="1.2"/><circle cx="282.8" cy="354.6" r="1.2"/><circle cx="259.0" cy="340.4" r="1.2"/><circle cx="253.8" cy="370.3" r="1.2"/><circle cx="257.7" cy="352.2" r="1.2"/><circle cx="176.1" cy="255.2" r="1.2"/><circle cx="291.1" cy="381.1" r="1.2"/><circle cx="179.0" cy="255.7" r="1.2"/><circle cx="281.5" cy="357.1" r="1.2"/><circle cx="261.2" cy="363.6" r="1.2"/><circle cx="269.6" cy="373.9" r="1.2"/><circle cx="266.2" cy="370.3" r="1.2"/><circle cx="277.8" cy="359.9" r="1.2"/><circle cx="287.9" cy="374.4" r="1.2"/><circle cx="297.1" cy="381.4" r="1.2"/><circle cx="239.6" cy="345.1" r="1.2"/><circle cx="272.8" cy="382.7" r="1.2"/><circle cx="285.1" cy="358.1" r="1.2"/><circle cx="273.4" cy="365.7" r="1.2"/><circle cx="261.7" cy="352.3" r="1.2"/><circle cx="254.0" cy="360.3" r="1.2"/><circle cx="177.4" cy="260.5" r="1.2"/><circle cx="267.0" cy="346.4" r="1.2"/><circle cx="383.5" cy="246.5" r="1.2"/><circle cx="263.0" cy="353.7" r="1.2"/><circle cx="278.5" cy="352.7" r="1.2"/><circle cx="251.6" cy="344.3" r="1.2"/><circle cx="259.1" cy="342.1" r="1.2"/><circle cx="277.9" cy="350.7" r="1.2"/><circle cx="177.4" cy="256.7" r="1.2"/><circle cx="178.7" cy="250.4" r="1.2"/><circle cx="279.6" cy="379.8" r="1.2"/><circle cx="273.3" cy="364.1" r="1.2"/><circle cx="186.3" cy="253.6" r="1.2"/><circle cx="287.1" cy="383.8" r="1.2"/><circle cx="281.7" cy="344.7" r="1.2"/><circle cx="286.2" cy="373.1" r="1.2"/><circle cx="261.5" cy="344.2" r="1.2"/><circle cx="269.1" cy="363.7" r="1.2"/><circle cx="271.5" cy="366.4" r="1.2"/><circle cx="278.1" cy="375.1" r="1.2"/><circle cx="286.4" cy="348.2" r="1.2"/><circle cx="269.6" cy="361.0" r="1.2"/><circle cx="260.4" cy="335.7" r="1.2"/><circle cx="270.8" cy="375.0" r="1.2"/><circle cx="234.0" cy="330.1" r="1.2"/><circle cx="254.2" cy="341.4" r="1.2"/><circle cx="254.7" cy="367.8" r="1.2"/><circle cx="256.2" cy="347.9" r="1.2"/><circle cx="280.7" cy="365.8" r="1.2"/><circle cx="287.4" cy="359.1" r="1.2"/><circle cx="268.6" cy="337.0" r="1.2"/><circle cx="292.6" cy="383.2" r="1.2"/><circle cx="283.5" cy="349.0" r="1.2"/><circle cx="296.1" cy="385.9" r="1.2"/><circle cx="286.1" cy="361.0" r="1.2"/><circle cx="286.6" cy="363.4" r="1.2"/><circle cx="276.5" cy="345.6" r="1.2"/><circle cx="250.6" cy="359.4" r="1.2"/><circle cx="183.5" cy="233.2" r="1.2"/><circle cx="264.9" cy="371.7" r="1.2"/><circle cx="273.0" cy="362.2" r="1.2"/><circle cx="279.1" cy="388.0" r="1.2"/><circle cx="281.9" cy="359.8" r="1.2"/><circle cx="265.8" cy="365.9" r="1.2"/><circle cx="270.0" cy="339.9" r="1.2"/><circle cx="287.1" cy="366.5" r="1.2"/><circle cx="287.0" cy="350.1" r="1.2"/><circle cx="179.7" cy="221.9" r="1.2"/><circle cx="188.7" cy="253.0" r="1.2"/><circle cx="261.1" cy="373.6" r="1.2"/><circle cx="297.1" cy="379.4" r="1.2"/><circle cx="256.3" cy="344.6" r="1.2"/><circle cx="281.5" cy="388.7" r="1.2"/><circle cx="266.2" cy="364.3" r="1.2"/><circle cx="272.3" cy="376.3" r="1.2"/><circle cx="268.8" cy="366.7" r="1.2"/><circle cx="245.6" cy="344.9" r="1.2"/><circle cx="275.0" cy="375.6" r="1.2"/><circle cx="264.7" cy="363.4" r="1.2"/><circle cx="277.2" cy="372.0" r="1.2"/><circle cx="268.7" cy="375.4" r="1.2"/><circle cx="263.9" cy="373.1" r="1.2"/><circle cx="259.7" cy="372.1" r="1.2"/><circle cx="279.2" cy="345.5" r="1.2"/><circle cx="279.5" cy="367.3" r="1.2"/><circle cx="259.5" cy="338.5" r="1.2"/></g>
<g fill="#b65a26"><circle cx="194.1" cy="385.0" r="1.2"/><circle cx="182.1" cy="373.6" r="1.2"/><circle cx="195.4" cy="379.2" r="1.2"/><circle cx="191.8" cy="371.6" r="1.2"/><circle cx="155.7" cy="375.2" r="1.2"/><circle cx="181.0" cy="388.2" r="1.2"/><circle cx="146.5" cy="387.2" r="1.2"/><circle cx="157.4" cy="389.0" r="1.2"/><circle cx="164.4" cy="376.5" r="1.2"/><circle cx="164.5" cy="385.7" r="1.2"/><circle cx="154.0" cy="389.8" r="1.2"/><circle cx="174.5" cy="379.8" r="1.2"/><circle cx="159.8" cy="383.7" r="1.2"/><circle cx="193.9" cy="380.0" r="1.2"/><circle cx="180.8" cy="380.3" r="1.2"/><circle cx="206.1" cy="390.5" r="1.2"/><circle cx="152.3" cy="383.5" r="1.2"/><circle cx="161.0" cy="384.8" r="1.2"/><circle cx="173.8" cy="393.0" r="1.2"/><circle cx="166.6" cy="394.7" r="1.2"/><circle cx="151.7" cy="387.2" r="1.2"/><circle cx="155.1" cy="385.6" r="1.2"/><circle cx="192.7" cy="374.7" r="1.2"/><circle cx="149.6" cy="389.0" r="1.2"/><circle cx="178.5" cy="381.4" r="1.2"/><circle cx="155.3" cy="380.8" r="1.2"/><circle cx="153.0" cy="385.3" r="1.2"/><circle cx="148.5" cy="383.5" r="1.2"/><circle cx="151.5" cy="378.0" r="1.2"/><circle cx="172.7" cy="367.2" r="1.2"/><circle cx="200.4" cy="385.8" r="1.2"/><circle cx="169.7" cy="381.1" r="1.2"/><circle cx="148.0" cy="386.8" r="1.2"/><circle cx="147.7" cy="385.1" r="1.2"/><circle cx="167.7" cy="373.4" r="1.2"/><circle cx="198.4" cy="386.5" r="1.2"/><circle cx="185.1" cy="371.9" r="1.2"/><circle cx="164.5" cy="378.0" r="1.2"/><circle cx="168.0" cy="366.4" r="1.2"/><circle cx="175.5" cy="391.5" r="1.2"/><circle cx="171.8" cy="379.5" r="1.2"/><circle cx="164.0" cy="380.0" r="1.2"/><circle cx="196.8" cy="375.5" r="1.2"/><circle cx="155.8" cy="387.6" r="1.2"/><circle cx="174.5" cy="370.6" r="1.2"/><circle cx="149.4" cy="387.3" r="1.2"/><circle cx="167.7" cy="385.3" r="1.2"/><circle cx="186.0" cy="370.5" r="1.2"/><circle cx="164.4" cy="366.0" r="1.2"/><circle cx="186.2" cy="374.8" r="1.2"/><circle cx="152.3" cy="391.1" r="1.2"/><circle cx="154.0" cy="394.9" r="1.2"/><circle cx="182.1" cy="377.0" r="1.2"/><circle cx="166.0" cy="375.0" r="1.2"/><circle cx="175.6" cy="393.8" r="1.2"/><circle cx="159.8" cy="390.2" r="1.2"/><circle cx="167.9" cy="396.7" r="1.2"/><circle cx="145.6" cy="382.7" r="1.2"/><circle cx="175.0" cy="368.4" r="1.2"/><circle cx="192.7" cy="376.5" r="1.2"/><circle cx="143.8" cy="388.3" r="1.2"/><circle cx="187.5" cy="389.5" r="1.2"/><circle cx="156.1" cy="384.0" r="1.2"/><circle cx="183.7" cy="380.1" r="1.2"/><circle cx="159.4" cy="395.3" r="1.2"/><circle cx="151.5" cy="394.8" r="1.2"/><circle cx="176.5" cy="386.9" r="1.2"/><circle cx="155.1" cy="383.0" r="1.2"/><circle cx="187.9" cy="372.8" r="1.2"/><circle cx="158.7" cy="387.3" r="1.2"/><circle cx="162.6" cy="375.8" r="1.2"/><circle cx="153.8" cy="381.6" r="1.2"/><circle cx="191.9" cy="381.2" r="1.2"/><circle cx="162.5" cy="392.9" r="1.2"/><circle cx="208.7" cy="396.8" r="1.2"/><circle cx="167.8" cy="389.6" r="1.2"/><circle cx="182.2" cy="369.8" r="1.2"/><circle cx="177.9" cy="379.4" r="1.2"/><circle cx="167.2" cy="391.1" r="1.2"/><circle cx="176.1" cy="388.5" r="1.2"/><circle cx="165.6" cy="382.9" r="1.2"/><circle cx="183.3" cy="383.4" r="1.2"/><circle cx="172.9" cy="387.4" r="1.2"/><circle cx="179.1" cy="374.6" r="1.2"/><circle cx="176.8" cy="371.8" r="1.2"/><circle cx="145.7" cy="385.3" r="1.2"/><circle cx="186.2" cy="387.0" r="1.2"/><circle cx="159.8" cy="388.5" r="1.2"/><circle cx="198.1" cy="371.2" r="1.2"/><circle cx="187.8" cy="382.6" r="1.2"/><circle cx="172.2" cy="369.1" r="1.2"/><circle cx="192.2" cy="379.4" r="1.2"/><circle cx="170.3" cy="393.7" r="1.2"/><circle cx="182.5" cy="372.1" r="1.2"/><circle cx="167.9" cy="371.4" r="1.2"/><circle cx="200.5" cy="389.1" r="1.2"/><circle cx="149.5" cy="394.1" r="1.2"/><circle cx="165.4" cy="367.3" r="1.2"/><circle cx="154.3" cy="384.3" r="1.2"/><circle cx="162.4" cy="382.3" r="1.2"/><circle cx="174.6" cy="373.1" r="1.2"/><circle cx="156.3" cy="377.0" r="1.2"/><circle cx="175.2" cy="389.7" r="1.2"/><circle cx="148.6" cy="390.7" r="1.2"/><circle cx="150.4" cy="383.9" r="1.2"/><circle cx="171.4" cy="370.4" r="1.2"/><circle cx="183.4" cy="375.7" r="1.2"/><circle cx="173.9" cy="384.8" r="1.2"/><circle cx="203.5" cy="383.9" r="1.2"/><circle cx="152.1" cy="380.9" r="1.2"/><circle cx="190.2" cy="379.4" r="1.2"/><circle cx="170.2" cy="377.5" r="1.2"/><circle cx="197.2" cy="373.6" r="1.2"/><circle cx="172.5" cy="394.6" r="1.2"/><circle cx="153.0" cy="377.4" r="1.2"/><circle cx="172.2" cy="381.0" r="1.2"/><circle cx="169.4" cy="388.0" r="1.2"/><circle cx="169.2" cy="382.5" r="1.2"/><circle cx="160.8" cy="377.9" r="1.2"/><circle cx="167.6" cy="383.1" r="1.2"/><circle cx="162.7" cy="367.1" r="1.2"/><circle cx="177.1" cy="373.3" r="1.2"/><circle cx="147.0" cy="380.7" r="1.2"/><circle cx="177.2" cy="393.7" r="1.2"/><circle cx="178.1" cy="387.6" r="1.2"/><circle cx="182.4" cy="386.8" r="1.2"/><circle cx="161.2" cy="391.9" r="1.2"/><circle cx="182.1" cy="389.2" r="1.2"/><circle cx="177.5" cy="385.7" r="1.2"/><circle cx="168.0" cy="387.3" r="1.2"/><circle cx="154.9" cy="392.1" r="1.2"/><circle cx="187.7" cy="375.1" r="1.2"/><circle cx="158.2" cy="390.9" r="1.2"/><circle cx="169.8" cy="374.9" r="1.2"/><circle cx="168.9" cy="378.1" r="1.2"/><circle cx="159.6" cy="385.6" r="1.2"/><circle cx="168.1" cy="395.2" r="1.2"/><circle cx="170.3" cy="392.2" r="1.2"/><circle cx="179.5" cy="382.5" r="1.2"/><circle cx="182.3" cy="385.2" r="1.2"/><circle cx="195.6" cy="380.6" r="1.2"/><circle cx="194.9" cy="376.9" r="1.2"/><circle cx="162.5" cy="379.6" r="1.2"/><circle cx="152.8" cy="392.9" r="1.2"/><circle cx="197.1" cy="378.3" r="1.2"/><circle cx="207.5" cy="393.2" r="1.2"/><circle cx="195.3" cy="371.4" r="1.2"/><circle cx="190.3" cy="370.9" r="1.2"/><circle cx="190.6" cy="374.4" r="1.2"/><circle cx="159.1" cy="382.0" r="1.2"/><circle cx="195.9" cy="386.4" r="1.2"/><circle cx="163.5" cy="383.7" r="1.2"/><circle cx="179.1" cy="390.8" r="1.2"/><circle cx="180.6" cy="386.8" r="1.2"/><circle cx="186.4" cy="376.2" r="1.2"/><circle cx="162.2" cy="369.6" r="1.2"/><circle cx="164.2" cy="388.0" r="1.2"/><circle cx="184.5" cy="381.7" r="1.2"/><circle cx="157.6" cy="395.6" r="1.2"/><circle cx="158.6" cy="370.0" r="1.2"/><circle cx="160.5" cy="379.9" r="1.2"/><circle cx="197.6" cy="381.1" r="1.2"/><circle cx="199.2" cy="384.5" r="1.2"/><circle cx="197.9" cy="376.4" r="1.2"/><circle cx="178.0" cy="369.8" r="1.2"/><circle cx="187.2" cy="379.0" r="1.2"/><circle cx="165.5" cy="384.3" r="1.2"/><circle cx="164.2" cy="373.8" r="1.2"/><circle cx="176.3" cy="384.1" r="1.2"/><circle cx="197.6" cy="384.2" r="1.2"/><circle cx="178.8" cy="377.0" r="1.2"/><circle cx="167.5" cy="369.3" r="1.2"/><circle cx="172.6" cy="377.8" r="1.2"/><circle cx="180.1" cy="371.4" r="1.2"/><circle cx="199.4" cy="381.6" r="1.2"/><circle cx="157.9" cy="368.8" r="1.2"/><circle cx="177.4" cy="391.8" r="1.2"/><circle cx="173.9" cy="376.5" r="1.2"/><circle cx="168.9" cy="391.6" r="1.2"/><circle cx="180.2" cy="369.1" r="1.2"/><circle cx="178.7" cy="384.8" r="1.2"/><circle cx="183.9" cy="369.1" r="1.2"/><circle cx="146.3" cy="391.2" r="1.2"/><circle cx="163.7" cy="395.4" r="1.2"/><circle cx="167.2" cy="376.0" r="1.2"/><circle cx="180.4" cy="377.1" r="1.2"/><circle cx="167.8" cy="393.7" r="1.2"/><circle cx="174.6" cy="387.6" r="1.2"/><circle cx="180.9" cy="374.6" r="1.2"/><circle cx="172.2" cy="388.8" r="1.2"/><circle cx="182.8" cy="379.1" r="1.2"/><circle cx="163.4" cy="371.4" r="1.2"/><circle cx="190.8" cy="383.5" r="1.2"/><circle cx="171.8" cy="375.5" r="1.2"/><circle cx="159.6" cy="371.1" r="1.2"/><circle cx="165.6" cy="370.0" r="1.2"/><circle cx="170.9" cy="390.6" r="1.2"/><circle cx="158.8" cy="377.6" r="1.2"/><circle cx="185.5" cy="388.6" r="1.2"/><circle cx="172.4" cy="384.5" r="1.2"/><circle cx="156.2" cy="392.7" r="1.2"/><circle cx="170.8" cy="385.4" r="1.2"/><circle cx="159.1" cy="374.5" r="1.2"/><circle cx="171.0" cy="373.0" r="1.2"/><circle cx="147.7" cy="382.2" r="1.2"/><circle cx="169.0" cy="372.6" r="1.2"/><circle cx="154.2" cy="378.9" r="1.2"/><circle cx="190.4" cy="387.0" r="1.2"/><circle cx="193.3" cy="387.4" r="1.2"/><circle cx="159.4" cy="392.6" r="1.2"/><circle cx="192.6" cy="385.7" r="1.2"/><circle cx="173.0" cy="382.3" r="1.2"/><circle cx="177.4" cy="377.1" r="1.2"/><circle cx="178.3" cy="372.1" r="1.2"/><circle cx="196.5" cy="387.8" r="1.2"/><circle cx="189.3" cy="389.9" r="1.2"/><circle cx="159.0" cy="380.4" r="1.2"/><circle cx="156.4" cy="386.1" r="1.2"/><circle cx="191.0" cy="385.5" r="1.2"/><circle cx="150.7" cy="380.7" r="1.2"/><circle cx="148.0" cy="392.9" r="1.2"/></g>
<g fill="#2e78b8"><circle cx="156.6" cy="168.9" r="1.2"/><circle cx="403.6" cy="305.4" r="1.2"/><circle cx="142.6" cy="143.0" r="1.2"/><circle cx="130.2" cy="174.5" r="1.2"/><circle cx="379.1" cy="305.2" r="1.2"/><circle cx="127.9" cy="158.0" r="1.2"/><circle cx="117.0" cy="172.8" r="1.2"/><circle cx="131.9" cy="147.3" r="1.2"/><circle cx="130.0" cy="192.7" r="1.2"/><circle cx="184.9" cy="180.2" r="1.2"/><circle cx="107.9" cy="179.4" r="1.2"/><circle cx="158.2" cy="173.7" r="1.2"/><circle cx="154.4" cy="165.4" r="1.2"/><circle cx="118.8" cy="150.1" r="1.2"/><circle cx="153.5" cy="173.5" r="1.2"/><circle cx="98.1" cy="171.0" r="1.2"/><circle cx="211.7" cy="124.4" r="1.2"/><circle cx="114.3" cy="163.6" r="1.2"/><circle cx="392.5" cy="258.1" r="1.2"/><circle cx="153.4" cy="157.2" r="1.2"/><circle cx="384.3" cy="270.3" r="1.2"/><circle cx="104.0" cy="178.2" r="1.2"/><circle cx="182.7" cy="191.5" r="1.2"/><circle cx="107.0" cy="192.8" r="1.2"/><circle cx="157.8" cy="156.5" r="1.2"/><circle cx="111.6" cy="150.7" r="1.2"/><circle cx="389.2" cy="220.3" r="1.2"/><circle cx="151.5" cy="146.3" r="1.2"/><circle cx="411.0" cy="276.1" r="1.2"/><circle cx="115.8" cy="180.5" r="1.2"/><circle cx="393.0" cy="280.7" r="1.2"/><circle cx="116.7" cy="149.5" r="1.2"/><circle cx="109.8" cy="191.4" r="1.2"/><circle cx="401.0" cy="306.3" r="1.2"/><circle cx="409.4" cy="296.7" r="1.2"/><circle cx="131.8" cy="192.7" r="1.2"/><circle cx="404.6" cy="302.7" r="1.2"/><circle cx="400.3" cy="294.9" r="1.2"/><circle cx="128.8" cy="168.0" r="1.2"/><circle cx="129.2" cy="146.7" r="1.2"/><circle cx="403.5" cy="248.8" r="1.2"/><circle cx="128.4" cy="153.6" r="1.2"/><circle cx="108.6" cy="166.7" r="1.2"/><circle cx="394.8" cy="285.3" r="1.2"/><circle cx="158.7" cy="85.9" r="1.2"/><circle cx="144.3" cy="169.7" r="1.2"/><circle cx="393.4" cy="256.6" r="1.2"/><circle cx="165.1" cy="162.2" r="1.2"/><circle cx="394.8" cy="299.9" r="1.2"/><circle cx="396.3" cy="296.2" r="1.2"/><circle cx="101.7" cy="168.9" r="1.2"/><circle cx="375.2" cy="294.9" r="1.2"/><circle cx="109.4" cy="193.3" r="1.2"/><circle cx="395.0" cy="288.1" r="1.2"/><circle cx="396.3" cy="239.4" r="1.2"/><circle cx="153.4" cy="168.7" r="1.2"/><circle cx="105.6" cy="192.0" r="1.2"/><circle cx="399.7" cy="250.0" r="1.2"/><circle cx="395.2" cy="271.8" r="1.2"/><circle cx="119.5" cy="158.5" r="1.2"/><circle cx="405.0" cy="289.0" r="1.2"/><circle cx="405.3" cy="212.7" r="1.2"/><circle cx="203.9" cy="84.0" r="1.2"/><circle cx="137.7" cy="129.4" r="1.2"/><circle cx="137.0" cy="140.0" r="1.2"/><circle cx="118.2" cy="190.1" r="1.2"/><circle cx="111.0" cy="180.5" r="1.2"/><circle cx="404.1" cy="211.2" r="1.2"/><circle cx="125.1" cy="187.6" r="1.2"/><circle cx="100.0" cy="177.0" r="1.2"/><circle cx="150.3" cy="171.5" r="1.2"/><circle cx="402.6" cy="271.1" r="1.2"/><circle cx="387.1" cy="291.8" r="1.2"/><circle cx="399.6" cy="290.4" r="1.2"/><circle cx="112.9" cy="192.1" r="1.2"/><circle cx="115.7" cy="146.5" r="1.2"/><circle cx="111.9" cy="190.2" r="1.2"/><circle cx="212.2" cy="115.3" r="1.2"/><circle cx="156.6" cy="174.2" r="1.2"/><circle cx="203.2" cy="109.7" r="1.2"/><circle cx="411.2" cy="274.6" r="1.2"/><circle cx="384.5" cy="297.4" r="1.2"/><circle cx="392.3" cy="238.3" r="1.2"/><circle cx="396.4" cy="315.0" r="1.2"/><circle cx="387.7" cy="232.5" r="1.2"/><circle cx="396.9" cy="232.4" r="1.2"/><circle cx="125.2" cy="160.3" r="1.2"/><circle cx="284.0" cy="347.0" r="1.2"/><circle cx="143.9" cy="156.1" r="1.2"/><circle cx="390.3" cy="280.5" r="1.2"/><circle cx="382.4" cy="310.5" r="1.2"/><circle cx="398.1" cy="303.5" r="1.2"/><circle cx="406.3" cy="304.4" r="1.2"/><circle cx="148.9" cy="170.2" r="1.2"/><circle cx="159.0" cy="122.8" r="1.2"/><circle cx="160.3" cy="174.7" r="1.2"/><circle cx="401.9" cy="285.9" r="1.2"/><circle cx="387.7" cy="316.1" r="1.2"/><circle cx="221.0" cy="121.8" r="1.2"/><circle cx="389.9" cy="317.4" r="1.2"/><circle cx="160.6" cy="142.5" r="1.2"/><circle cx="136.6" cy="183.5" r="1.2"/><circle cx="390.9" cy="296.5" r="1.2"/><circle cx="388.6" cy="296.4" r="1.2"/><circle cx="385.4" cy="272.4" r="1.2"/><circle cx="136.5" cy="143.5" r="1.2"/><circle cx="402.1" cy="274.7" r="1.2"/><circle cx="379.5" cy="282.0" r="1.2"/><circle cx="138.8" cy="145.9" r="1.2"/><circle cx="111.5" cy="171.2" r="1.2"/><circle cx="405.6" cy="260.8" r="1.2"/><circle cx="128.2" cy="175.5" r="1.2"/><circle cx="125.6" cy="192.4" r="1.2"/><circle cx="162.4" cy="169.8" r="1.2"/><circle cx="117.5" cy="178.3" r="1.2"/><circle cx="391.5" cy="300.6" r="1.2"/><circle cx="389.2" cy="291.4" r="1.2"/><circle cx="94.0" cy="147.6" r="1.2"/><circle cx="384.3" cy="306.3" r="1.2"/><circle cx="409.6" cy="288.0" r="1.2"/><circle cx="111.0" cy="166.4" r="1.2"/><circle cx="155.9" cy="186.7" r="1.2"/><circle cx="144.1" cy="181.7" r="1.2"/><circle cx="142.4" cy="153.9" r="1.2"/><circle cx="402.5" cy="281.7" r="1.2"/><circle cx="144.3" cy="172.1" r="1.2"/><circle cx="134.6" cy="159.3" r="1.2"/><circle cx="110.8" cy="186.1" r="1.2"/><circle cx="408.3" cy="292.5" r="1.2"/><circle cx="133.9" cy="175.7" r="1.2"/><circle cx="115.6" cy="154.2" r="1.2"/><circle cx="135.2" cy="181.8" r="1.2"/><circle cx="123.1" cy="186.7" r="1.2"/><circle cx="398.6" cy="258.0" r="1.2"/><circle cx="394.9" cy="308.8" r="1.2"/><circle cx="404.9" cy="243.6" r="1.2"/><circle cx="141.5" cy="145.2" r="1.2"/><circle cx="105.5" cy="180.8" r="1.2"/><circle cx="135.0" cy="190.4" r="1.2"/><circle cx="110.4" cy="176.5" r="1.2"/><circle cx="163.9" cy="138.7" r="1.2"/><circle cx="137.6" cy="125.3" r="1.2"/><circle cx="411.2" cy="264.5" r="1.2"/><circle cx="153.2" cy="175.4" r="1.2"/><circle cx="136.6" cy="145.4" r="1.2"/><circle cx="138.5" cy="163.7" r="1.2"/><circle cx="106.1" cy="156.8" r="1.2"/><circle cx="408.7" cy="282.5" r="1.2"/><circle cx="399.1" cy="269.6" r="1.2"/><circle cx="129.2" cy="182.0" r="1.2"/><circle cx="127.7" cy="181.3" r="1.2"/><circle cx="396.6" cy="281.1" r="1.2"/><circle cx="375.2" cy="282.0" r="1.2"/><circle cx="382.7" cy="290.0" r="1.2"/><circle cx="399.0" cy="261.0" r="1.2"/><circle cx="394.5" cy="259.5" r="1.2"/><circle cx="150.6" cy="141.7" r="1.2"/><circle cx="129.6" cy="139.1" r="1.2"/><circle cx="133.4" cy="172.6" r="1.2"/><circle cx="379.9" cy="279.6" r="1.2"/><circle cx="159.9" cy="168.1" r="1.2"/><circle cx="386.6" cy="296.2" r="1.2"/><circle cx="120.6" cy="152.1" r="1.2"/><circle cx="163.0" cy="144.9" r="1.2"/><circle cx="103.4" cy="182.7" r="1.2"/><circle cx="99.2" cy="142.1" r="1.2"/><circle cx="132.0" cy="128.6" r="1.2"/><circle cx="189.2" cy="177.5" r="1.2"/><circle cx="409.8" cy="285.2" r="1.2"/><circle cx="118.5" cy="176.4" r="1.2"/><circle cx="390.6" cy="294.1" r="1.2"/><circle cx="389.3" cy="277.6" r="1.2"/><circle cx="396.6" cy="249.6" r="1.2"/><circle cx="394.8" cy="301.4" r="1.2"/><circle cx="399.3" cy="256.6" r="1.2"/><circle cx="411.4" cy="257.8" r="1.2"/><circle cx="120.3" cy="191.1" r="1.2"/><circle cx="150.8" cy="160.6" r="1.2"/><circle cx="400.0" cy="264.5" r="1.2"/><circle cx="206.0" cy="220.0" r="1.2"/><circle cx="115.4" cy="172.8" r="1.2"/><circle cx="396.6" cy="308.1" r="1.2"/><circle cx="145.6" cy="157.6" r="1.2"/><circle cx="389.2" cy="227.5" r="1.2"/><circle cx="149.9" cy="137.2" r="1.2"/><circle cx="407.8" cy="277.7" r="1.2"/><circle cx="157.4" cy="141.7" r="1.2"/><circle cx="118.4" cy="148.0" r="1.2"/><circle cx="150.7" cy="181.8" r="1.2"/><circle cx="112.7" cy="151.9" r="1.2"/><circle cx="395.8" cy="302.6" r="1.2"/><circle cx="178.3" cy="185.7" r="1.2"/><circle cx="132.0" cy="154.2" r="1.2"/><circle cx="120.4" cy="197.5" r="1.2"/><circle cx="104.0" cy="170.6" r="1.2"/><circle cx="397.5" cy="238.0" r="1.2"/><circle cx="131.9" cy="134.0" r="1.2"/><circle cx="132.1" cy="149.9" r="1.2"/><circle cx="381.3" cy="302.1" r="1.2"/><circle cx="405.2" cy="237.0" r="1.2"/><circle cx="121.1" cy="192.6" r="1.2"/><circle cx="111.9" cy="187.9" r="1.2"/><circle cx="211.7" cy="117.2" r="1.2"/><circle cx="399.2" cy="280.1" r="1.2"/><circle cx="400.6" cy="309.9" r="1.2"/><circle cx="306.0" cy="181.2" r="1.2"/><circle cx="388.7" cy="300.9" r="1.2"/><circle cx="123.7" cy="167.5" r="1.2"/><circle cx="398.6" cy="285.8" r="1.2"/><circle cx="399.7" cy="301.1" r="1.2"/><circle cx="404.9" cy="254.8" r="1.2"/><circle cx="400.7" cy="299.5" r="1.2"/><circle cx="164.4" cy="168.7" r="1.2"/><circle cx="105.8" cy="182.3" r="1.2"/><circle cx="146.3" cy="143.1" r="1.2"/><circle cx="397.7" cy="279.8" r="1.2"/><circle cx="105.0" cy="165.5" r="1.2"/><circle cx="390.6" cy="227.2" r="1.2"/><circle cx="385.4" cy="305.2" r="1.2"/><circle cx="141.4" cy="164.7" r="1.2"/><circle cx="121.9" cy="169.4" r="1.2"/><circle cx="144.7" cy="183.3" r="1.2"/><circle cx="114.0" cy="167.1" r="1.2"/><circle cx="129.8" cy="176.5" r="1.2"/><circle cx="388.4" cy="222.3" r="1.2"/><circle cx="395.2" cy="279.0" r="1.2"/><circle cx="396.5" cy="251.4" r="1.2"/><circle cx="381.3" cy="298.5" r="1.2"/><circle cx="388.9" cy="279.1" r="1.2"/><circle cx="142.6" cy="151.4" r="1.2"/><circle cx="114.8" cy="170.3" r="1.2"/><circle cx="117.2" cy="188.5" r="1.2"/><circle cx="114.4" cy="178.8" r="1.2"/><circle cx="407.6" cy="283.5" r="1.2"/><circle cx="392.5" cy="219.2" r="1.2"/><circle cx="156.5" cy="126.0" r="1.2"/><circle cx="145.7" cy="148.0" r="1.2"/><circle cx="401.6" cy="304.8" r="1.2"/><circle cx="107.9" cy="184.6" r="1.2"/><circle cx="113.8" cy="160.3" r="1.2"/><circle cx="407.3" cy="271.3" r="1.2"/><circle cx="163.7" cy="89.1" r="1.2"/><circle cx="385.9" cy="283.9" r="1.2"/><circle cx="387.8" cy="314.0" r="1.2"/><circle cx="120.4" cy="176.8" r="1.2"/><circle cx="397.2" cy="302.0" r="1.2"/><circle cx="146.5" cy="183.8" r="1.2"/><circle cx="127.7" cy="183.3" r="1.2"/><circle cx="401.9" cy="268.0" r="1.2"/><circle cx="397.9" cy="265.3" r="1.2"/><circle cx="107.5" cy="148.9" r="1.2"/><circle cx="117.4" cy="163.6" r="1.2"/><circle cx="391.4" cy="282.5" r="1.2"/><circle cx="133.6" cy="147.1" r="1.2"/><circle cx="110.3" cy="173.4" r="1.2"/><circle cx="220.1" cy="123.8" r="1.2"/><circle cx="154.0" cy="159.0" r="1.2"/><circle cx="135.9" cy="175.1" r="1.2"/><circle cx="111.4" cy="154.5" r="1.2"/><circle cx="407.0" cy="245.6" r="1.2"/><circle cx="131.1" cy="165.5" r="1.2"/><circle cx="109.1" cy="182.6" r="1.2"/><circle cx="396.0" cy="277.4" r="1.2"/><circle cx="404.6" cy="281.4" r="1.2"/><circle cx="143.0" cy="186.3" r="1.2"/><circle cx="98.8" cy="145.2" r="1.2"/><circle cx="378.1" cy="277.0" r="1.2"/><circle cx="403.1" cy="263.8" r="1.2"/><circle cx="400.5" cy="285.2" r="1.2"/><circle cx="95.3" cy="144.3" r="1.2"/><circle cx="109.6" cy="154.2" r="1.2"/><circle cx="408.5" cy="250.4" r="1.2"/><circle cx="394.4" cy="239.4" r="1.2"/><circle cx="131.9" cy="145.3" r="1.2"/><circle cx="126.4" cy="195.0" r="1.2"/><circle cx="148.3" cy="153.0" r="1.2"/><circle cx="165.9" cy="167.5" r="1.2"/><circle cx="138.3" cy="190.0" r="1.2"/><circle cx="150.3" cy="144.2" r="1.2"/><circle cx="130.8" cy="160.3" r="1.2"/><circle cx="388.9" cy="268.8" r="1.2"/><circle cx="174.2" cy="183.1" r="1.2"/><circle cx="180.8" cy="187.3" r="1.2"/><circle cx="407.3" cy="266.6" r="1.2"/><circle cx="126.9" cy="179.3" r="1.2"/><circle cx="217.0" cy="115.1" r="1.2"/><circle cx="156.1" cy="163.5" r="1.2"/><circle cx="163.2" cy="148.8" r="1.2"/><circle cx="131.6" cy="179.2" r="1.2"/><circle cx="162.2" cy="175.5" r="1.2"/><circle cx="389.6" cy="304.9" r="1.2"/><circle cx="154.2" cy="154.9" r="1.2"/><circle cx="146.0" cy="177.0" r="1.2"/><circle cx="160.9" cy="171.8" r="1.2"/><circle cx="105.3" cy="177.2" r="1.2"/><circle cx="97.5" cy="146.6" r="1.2"/><circle cx="142.0" cy="167.7" r="1.2"/><circle cx="111.7" cy="178.5" r="1.2"/><circle cx="109.1" cy="180.7" r="1.2"/><circle cx="130.1" cy="145.3" r="1.2"/><circle cx="160.9" cy="165.7" r="1.2"/><circle cx="406.6" cy="291.2" r="1.2"/><circle cx="145.3" cy="115.3" r="1.2"/><circle cx="401.7" cy="279.6" r="1.2"/><circle cx="123.8" cy="173.0" r="1.2"/><circle cx="106.8" cy="158.7" r="1.2"/><circle cx="382.9" cy="302.7" r="1.2"/><circle cx="111.5" cy="143.2" r="1.2"/><circle cx="385.4" cy="301.2" r="1.2"/><circle cx="98.3" cy="135.6" r="1.2"/><circle cx="154.3" cy="161.7" r="1.2"/><circle cx="93.3" cy="140.4" r="1.2"/><circle cx="400.3" cy="225.9" r="1.2"/><circle cx="120.9" cy="155.8" r="1.2"/><circle cx="191.3" cy="190.7" r="1.2"/><circle cx="104.0" cy="189.2" r="1.2"/><circle cx="182.3" cy="218.6" r="1.2"/><circle cx="145.5" cy="168.6" r="1.2"/><circle cx="149.2" cy="155.3" r="1.2"/><circle cx="389.5" cy="229.7" r="1.2"/><circle cx="402.1" cy="313.9" r="1.2"/><circle cx="390.5" cy="314.2" r="1.2"/><circle cx="123.8" cy="164.6" r="1.2"/><circle cx="404.2" cy="284.5" r="1.2"/><circle cx="394.3" cy="254.2" r="1.2"/><circle cx="388.9" cy="311.3" r="1.2"/><circle cx="404.5" cy="235.7" r="1.2"/><circle cx="94.6" cy="141.9" r="1.2"/><circle cx="95.3" cy="140.4" r="1.2"/><circle cx="408.9" cy="273.5" r="1.2"/><circle cx="395.5" cy="224.1" r="1.2"/><circle cx="159.6" cy="161.1" r="1.2"/><circle cx="116.1" cy="167.4" r="1.2"/><circle cx="411.3" cy="272.1" r="1.2"/><circle cx="108.2" cy="158.1" r="1.2"/><circle cx="171.4" cy="129.2" r="1.2"/><circle cx="384.2" cy="274.9" r="1.2"/><circle cx="162.7" cy="164.8" r="1.2"/><circle cx="409.1" cy="260.1" r="1.2"/><circle cx="121.4" cy="195.1" r="1.2"/><circle cx="374.9" cy="284.2" r="1.2"/><circle cx="390.0" cy="266.7" r="1.2"/><circle cx="152.0" cy="185.1" r="1.2"/><circle cx="119.3" cy="160.2" r="1.2"/><circle cx="385.4" cy="274.1" r="1.2"/><circle cx="409.9" cy="279.0" r="1.2"/><circle cx="133.5" cy="121.1" r="1.2"/><circle cx="131.7" cy="162.6" r="1.2"/><circle cx="136.2" cy="172.5" r="1.2"/><circle cx="120.0" cy="174.3" r="1.2"/><circle cx="393.5" cy="223.5" r="1.2"/><circle cx="135.9" cy="155.8" r="1.2"/><circle cx="150.0" cy="173.2" r="1.2"/><circle cx="390.0" cy="232.9" r="1.2"/><circle cx="115.8" cy="160.1" r="1.2"/><circle cx="141.9" cy="119.0" r="1.2"/><circle cx="123.7" cy="179.9" r="1.2"/><circle cx="403.3" cy="288.6" r="1.2"/><circle cx="375.7" cy="287.4" r="1.2"/><circle cx="136.0" cy="169.5" r="1.2"/><circle cx="102.3" cy="183.8" r="1.2"/><circle cx="96.8" cy="150.0" r="1.2"/><circle cx="172.6" cy="57.0" r="1.2"/><circle cx="139.9" cy="179.3" r="1.2"/><circle cx="151.6" cy="172.6" r="1.2"/><circle cx="397.6" cy="289.3" r="1.2"/><circle cx="116.2" cy="176.7" r="1.2"/><circle cx="392.6" cy="293.4" r="1.2"/><circle cx="110.2" cy="187.8" r="1.2"/><circle cx="203.7" cy="114.9" r="1.2"/><circle cx="406.3" cy="280.8" r="1.2"/><circle cx="156.8" cy="157.7" r="1.2"/><circle cx="406.4" cy="254.8" r="1.2"/><circle cx="161.9" cy="177.2" r="1.2"/><circle cx="401.8" cy="253.3" r="1.2"/><circle cx="397.9" cy="227.8" r="1.2"/><circle cx="147.6" cy="172.5" r="1.2"/><circle cx="147.4" cy="161.6" r="1.2"/><circle cx="406.1" cy="284.3" r="1.2"/><circle cx="134.5" cy="149.6" r="1.2"/><circle cx="390.2" cy="276.2" r="1.2"/><circle cx="156.8" cy="153.5" r="1.2"/><circle cx="404.2" cy="251.8" r="1.2"/><circle cx="142.2" cy="182.8" r="1.2"/><circle cx="396.2" cy="318.7" r="1.2"/><circle cx="274.0" cy="338.0" r="1.2"/><circle cx="130.0" cy="136.6" r="1.2"/><circle cx="148.0" cy="157.4" r="1.2"/><circle cx="395.3" cy="316.9" r="1.2"/><circle cx="383.7" cy="286.9" r="1.2"/><circle cx="403.3" cy="255.4" r="1.2"/><circle cx="401.1" cy="302.9" r="1.2"/><circle cx="398.1" cy="250.3" r="1.2"/><circle cx="131.9" cy="183.3" r="1.2"/><circle cx="120.6" cy="180.0" r="1.2"/><circle cx="123.1" cy="147.7" r="1.2"/><circle cx="400.8" cy="248.6" r="1.2"/><circle cx="410.2" cy="303.2" r="1.2"/><circle cx="111.4" cy="194.6" r="1.2"/><circle cx="394.9" cy="226.5" r="1.2"/><circle cx="144.2" cy="175.2" r="1.2"/><circle cx="125.8" cy="184.4" r="1.2"/><circle cx="157.2" cy="180.2" r="1.2"/><circle cx="377.9" cy="287.7" r="1.2"/><circle cx="390.8" cy="263.2" r="1.2"/><circle cx="392.4" cy="230.1" r="1.2"/><circle cx="90.9" cy="137.1" r="1.2"/><circle cx="382.3" cy="308.7" r="1.2"/><circle cx="158.7" cy="133.6" r="1.2"/><circle cx="388.4" cy="282.5" r="1.2"/><circle cx="155.5" cy="156.6" r="1.2"/><circle cx="387.7" cy="226.4" r="1.2"/><circle cx="190.1" cy="186.4" r="1.2"/><circle cx="394.9" cy="233.4" r="1.2"/><circle cx="151.2" cy="163.6" r="1.2"/><circle cx="108.7" cy="190.2" r="1.2"/><circle cx="109.4" cy="184.9" r="1.2"/><circle cx="105.1" cy="185.8" r="1.2"/><circle cx="124.9" cy="189.6" r="1.2"/><circle cx="158.4" cy="162.1" r="1.2"/><circle cx="403.6" cy="260.5" r="1.2"/><circle cx="397.0" cy="230.8" r="1.2"/><circle cx="404.0" cy="257.1" r="1.2"/><circle cx="119.8" cy="154.1" r="1.2"/><circle cx="386.1" cy="220.5" r="1.2"/><circle cx="115.9" cy="171.3" r="1.2"/><circle cx="401.0" cy="289.5" r="1.2"/><circle cx="138.9" cy="161.1" r="1.2"/><circle cx="121.2" cy="166.1" r="1.2"/><circle cx="164.4" cy="130.9" r="1.2"/><circle cx="398.6" cy="224.3" r="1.2"/><circle cx="385.5" cy="269.3" r="1.2"/><circle cx="162.8" cy="140.9" r="1.2"/><circle cx="152.9" cy="160.5" r="1.2"/><circle cx="137.1" cy="164.8" r="1.2"/><circle cx="145.1" cy="173.9" r="1.2"/><circle cx="402.8" cy="244.5" r="1.2"/><circle cx="377.7" cy="297.6" r="1.2"/><circle cx="402.2" cy="235.8" r="1.2"/><circle cx="145.0" cy="186.0" r="1.2"/><circle cx="395.8" cy="291.7" r="1.2"/><circle cx="124.5" cy="170.7" r="1.2"/><circle cx="126.2" cy="163.9" r="1.2"/><circle cx="393.6" cy="228.0" r="1.2"/><circle cx="133.5" cy="187.9" r="1.2"/><circle cx="385.9" cy="287.6" r="1.2"/><circle cx="187.9" cy="188.6" r="1.2"/><circle cx="112.8" cy="164.5" r="1.2"/><circle cx="400.1" cy="278.2" r="1.2"/><circle cx="404.2" cy="233.5" r="1.2"/><circle cx="411.0" cy="286.7" r="1.2"/><circle cx="404.7" cy="299.1" r="1.2"/><circle cx="399.8" cy="271.6" r="1.2"/><circle cx="392.1" cy="270.8" r="1.2"/><circle cx="149.7" cy="177.3" r="1.2"/><circle cx="107.2" cy="176.7" r="1.2"/><circle cx="398.5" cy="316.0" r="1.2"/><circle cx="99.2" cy="183.4" r="1.2"/><circle cx="108.6" cy="160.7" r="1.2"/><circle cx="143.7" cy="178.7" r="1.2"/><circle cx="399.2" cy="277.0" r="1.2"/><circle cx="103.7" cy="186.8" r="1.2"/><circle cx="118.2" cy="165.9" r="1.2"/><circle cx="405.6" cy="275.2" r="1.2"/><circle cx="148.3" cy="183.0" r="1.2"/><circle cx="133.5" cy="163.2" r="1.2"/><circle cx="162.8" cy="155.1" r="1.2"/><circle cx="104.1" cy="168.5" r="1.2"/><circle cx="123.1" cy="150.0" r="1.2"/><circle cx="208.9" cy="120.9" r="1.2"/><circle cx="374.7" cy="299.3" r="1.2"/><circle cx="138.8" cy="174.2" r="1.2"/><circle cx="98.2" cy="168.8" r="1.2"/><circle cx="405.7" cy="277.2" r="1.2"/><circle cx="143.4" cy="180.4" r="1.2"/><circle cx="121.4" cy="148.9" r="1.2"/><circle cx="392.4" cy="268.2" r="1.2"/><circle cx="147.9" cy="134.7" r="1.2"/><circle cx="168.8" cy="171.1" r="1.2"/><circle cx="140.9" cy="148.6" r="1.2"/><circle cx="136.5" cy="127.6" r="1.2"/><circle cx="386.0" cy="227.5" r="1.2"/><circle cx="388.9" cy="270.3" r="1.2"/><circle cx="128.7" cy="194.7" r="1.2"/><circle cx="388.2" cy="285.2" r="1.2"/><circle cx="158.4" cy="159.2" r="1.2"/><circle cx="395.8" cy="283.6" r="1.2"/><circle cx="397.3" cy="290.9" r="1.2"/><circle cx="378.0" cy="292.1" r="1.2"/><circle cx="182.7" cy="183.0" r="1.2"/><circle cx="382.5" cy="295.9" r="1.2"/><circle cx="123.0" cy="196.6" r="1.2"/><circle cx="396.9" cy="268.0" r="1.2"/><circle cx="113.4" cy="183.0" r="1.2"/><circle cx="112.6" cy="148.7" r="1.2"/><circle cx="404.9" cy="266.9" r="1.2"/><circle cx="101.4" cy="166.4" r="1.2"/><circle cx="137.9" cy="175.8" r="1.2"/><circle cx="402.2" cy="241.3" r="1.2"/><circle cx="402.1" cy="251.2" r="1.2"/><circle cx="149.5" cy="166.0" r="1.2"/><circle cx="289.9" cy="86.4" r="1.2"/><circle cx="126.8" cy="187.3" r="1.2"/><circle cx="114.1" cy="189.2" r="1.2"/><circle cx="379.5" cy="287.9" r="1.2"/><circle cx="408.1" cy="287.2" r="1.2"/><circle cx="148.6" cy="184.5" r="1.2"/><circle cx="98.0" cy="133.4" r="1.2"/><circle cx="397.6" cy="299.4" r="1.2"/><circle cx="118.4" cy="151.6" r="1.2"/><circle cx="398.9" cy="234.3" r="1.2"/><circle cx="405.1" cy="249.7" r="1.2"/><circle cx="393.4" cy="307.1" r="1.2"/><circle cx="151.5" cy="178.2" r="1.2"/><circle cx="403.2" cy="290.5" r="1.2"/><circle cx="386.9" cy="224.0" r="1.2"/><circle cx="188.4" cy="76.1" r="1.2"/><circle cx="127.4" cy="185.2" r="1.2"/><circle cx="408.8" cy="295.3" r="1.2"/><circle cx="130.0" cy="188.2" r="1.2"/><circle cx="136.9" cy="154.1" r="1.2"/><circle cx="94.9" cy="146.4" r="1.2"/><circle cx="401.9" cy="261.0" r="1.2"/><circle cx="407.2" cy="268.2" r="1.2"/><circle cx="114.9" cy="158.2" r="1.2"/><circle cx="117.8" cy="168.8" r="1.2"/><circle cx="403.4" cy="269.4" r="1.2"/><circle cx="159.1" cy="148.3" r="1.2"/><circle cx="152.6" cy="155.7" r="1.2"/><circle cx="105.5" cy="189.5" r="1.2"/><circle cx="400.9" cy="287.1" r="1.2"/><circle cx="391.7" cy="286.8" r="1.2"/><circle cx="203.0" cy="296.3" r="1.2"/><circle cx="177.6" cy="181.0" r="1.2"/><circle cx="178.6" cy="188.1" r="1.2"/><circle cx="110.8" cy="200.4" r="1.2"/><circle cx="394.2" cy="314.0" r="1.2"/><circle cx="199.7" cy="117.3" r="1.2"/><circle cx="402.7" cy="272.6" r="1.2"/><circle cx="207.8" cy="109.0" r="1.2"/><circle cx="205.9" cy="115.7" r="1.2"/><circle cx="105.0" cy="193.6" r="1.2"/><circle cx="259.5" cy="345.6" r="1.2"/><circle cx="95.4" cy="138.0" r="1.2"/><circle cx="179.8" cy="182.3" r="1.2"/><circle cx="397.8" cy="287.5" r="1.2"/><circle cx="152.7" cy="141.4" r="1.2"/><circle cx="113.4" cy="195.4" r="1.2"/><circle cx="395.8" cy="286.7" r="1.2"/><circle cx="127.3" cy="156.0" r="1.2"/><circle cx="166.2" cy="158.9" r="1.2"/><circle cx="118.8" cy="182.5" r="1.2"/><circle cx="409.7" cy="248.7" r="1.2"/><circle cx="142.0" cy="173.8" r="1.2"/><circle cx="391.9" cy="272.7" r="1.2"/><circle cx="400.0" cy="227.7" r="1.2"/><circle cx="164.7" cy="158.4" r="1.2"/><circle cx="385.3" cy="225.5" r="1.2"/><circle cx="104.6" cy="159.8" r="1.2"/><circle cx="112.1" cy="145.2" r="1.2"/><circle cx="379.6" cy="307.9" r="1.2"/><circle cx="403.7" cy="275.8" r="1.2"/><circle cx="122.8" cy="155.0" r="1.2"/><circle cx="143.6" cy="161.9" r="1.2"/><circle cx="134.5" cy="154.7" r="1.2"/><circle cx="379.1" cy="275.1" r="1.2"/><circle cx="140.2" cy="160.1" r="1.2"/><circle cx="108.9" cy="151.7" r="1.2"/><circle cx="128.0" cy="162.5" r="1.2"/><circle cx="412.1" cy="268.7" r="1.2"/><circle cx="164.2" cy="174.9" r="1.2"/><circle cx="158.1" cy="167.4" r="1.2"/><circle cx="105.8" cy="172.6" r="1.2"/><circle cx="396.9" cy="254.4" r="1.2"/><circle cx="408.4" cy="263.8" r="1.2"/><circle cx="133.4" cy="130.8" r="1.2"/><circle cx="390.7" cy="308.3" r="1.2"/><circle cx="96.6" cy="134.3" r="1.2"/><circle cx="139.4" cy="158.5" r="1.2"/><circle cx="401.9" cy="233.7" r="1.2"/><circle cx="215.2" cy="124.5" r="1.2"/><circle cx="143.5" cy="134.5" r="1.2"/><circle cx="121.9" cy="177.9" r="1.2"/><circle cx="148.2" cy="167.2" r="1.2"/><circle cx="144.0" cy="163.7" r="1.2"/><circle cx="396.4" cy="304.1" r="1.2"/><circle cx="172.2" cy="163.3" r="1.2"/><circle cx="135.5" cy="188.5" r="1.2"/><circle cx="163.2" cy="152.1" r="1.2"/><circle cx="121.8" cy="161.7" r="1.2"/><circle cx="389.5" cy="284.2" r="1.2"/><circle cx="394.3" cy="229.8" r="1.2"/><circle cx="410.7" cy="295.6" r="1.2"/><circle cx="156.4" cy="175.8" r="1.2"/><circle cx="407.2" cy="249.5" r="1.2"/><circle cx="129.2" cy="191.2" r="1.2"/><circle cx="385.2" cy="290.5" r="1.2"/><circle cx="141.3" cy="170.8" r="1.2"/><circle cx="109.9" cy="179.2" r="1.2"/><circle cx="120.3" cy="181.8" r="1.2"/><circle cx="126.0" cy="147.5" r="1.2"/><circle cx="410.9" cy="266.5" r="1.2"/><circle cx="386.5" cy="279.2" r="1.2"/><circle cx="383.7" cy="272.2" r="1.2"/><circle cx="125.6" cy="151.7" r="1.2"/><circle cx="165.1" cy="172.0" r="1.2"/><circle cx="99.2" cy="138.8" r="1.2"/><circle cx="380.3" cy="295.1" r="1.2"/><circle cx="391.1" cy="305.0" r="1.2"/><circle cx="149.7" cy="180.0" r="1.2"/><circle cx="382.5" cy="312.9" r="1.2"/><circle cx="117.6" cy="161.7" r="1.2"/><circle cx="107.6" cy="143.5" r="1.2"/><circle cx="107.8" cy="153.0" r="1.2"/><circle cx="397.1" cy="274.6" r="1.2"/><circle cx="141.5" cy="177.6" r="1.2"/><circle cx="390.5" cy="268.7" r="1.2"/><circle cx="186.6" cy="177.4" r="1.2"/><circle cx="387.6" cy="310.8" r="1.2"/><circle cx="206.2" cy="120.6" r="1.2"/><circle cx="145.3" cy="162.9" r="1.2"/><circle cx="394.5" cy="294.3" r="1.2"/><circle cx="115.4" cy="183.5" r="1.2"/><circle cx="378.3" cy="284.9" r="1.2"/><circle cx="397.9" cy="298.0" r="1.2"/><circle cx="119.1" cy="180.5" r="1.2"/><circle cx="399.6" cy="262.7" r="1.2"/><circle cx="394.1" cy="269.3" r="1.2"/><circle cx="138.3" cy="184.4" r="1.2"/><circle cx="138.6" cy="156.0" r="1.2"/><circle cx="134.1" cy="183.0" r="1.2"/><circle cx="161.4" cy="156.7" r="1.2"/><circle cx="399.2" cy="242.8" r="1.2"/><circle cx="404.7" cy="292.5" r="1.2"/><circle cx="122.7" cy="198.0" r="1.2"/><circle cx="406.5" cy="293.3" r="1.2"/><circle cx="396.4" cy="310.7" r="1.2"/><circle cx="155.4" cy="168.0" r="1.2"/><circle cx="408.4" cy="257.2" r="1.2"/><circle cx="157.9" cy="175.2" r="1.2"/><circle cx="393.1" cy="236.5" r="1.2"/><circle cx="109.6" cy="162.8" r="1.2"/><circle cx="148.2" cy="180.0" r="1.2"/><circle cx="407.9" cy="274.9" r="1.2"/><circle cx="108.4" cy="187.0" r="1.2"/><circle cx="391.0" cy="235.4" r="1.2"/><circle cx="394.7" cy="221.0" r="1.2"/><circle cx="385.9" cy="308.5" r="1.2"/><circle cx="402.7" cy="237.8" r="1.2"/><circle cx="392.8" cy="278.2" r="1.2"/><circle cx="147.2" cy="178.7" r="1.2"/><circle cx="393.2" cy="261.7" r="1.2"/><circle cx="396.4" cy="298.0" r="1.2"/><circle cx="113.4" cy="186.4" r="1.2"/><circle cx="155.4" cy="183.3" r="1.2"/><circle cx="391.0" cy="284.7" r="1.2"/><circle cx="208.9" cy="122.8" r="1.2"/><circle cx="408.1" cy="255.2" r="1.2"/><circle cx="98.7" cy="178.9" r="1.2"/><circle cx="407.4" cy="285.2" r="1.2"/><circle cx="379.5" cy="292.1" r="1.2"/><circle cx="149.3" cy="161.4" r="1.2"/><circle cx="397.5" cy="261.3" r="1.2"/><circle cx="170.7" cy="171.6" r="1.2"/><circle cx="156.0" cy="170.3" r="1.2"/><circle cx="382.5" cy="304.8" r="1.2"/><circle cx="167.5" cy="164.2" r="1.2"/><circle cx="121.6" cy="190.1" r="1.2"/><circle cx="169.9" cy="133.5" r="1.2"/><circle cx="375.9" cy="296.2" r="1.2"/><circle cx="377.8" cy="295.4" r="1.2"/><circle cx="209.8" cy="116.3" r="1.2"/><circle cx="407.2" cy="262.1" r="1.2"/><circle cx="167.3" cy="145.4" r="1.2"/><circle cx="147.6" cy="159.0" r="1.2"/><circle cx="398.5" cy="295.4" r="1.2"/><circle cx="408.3" cy="269.5" r="1.2"/><circle cx="119.6" cy="186.9" r="1.2"/><circle cx="134.6" cy="170.9" r="1.2"/><circle cx="399.8" cy="304.9" r="1.2"/><circle cx="399.8" cy="241.3" r="1.2"/><circle cx="401.7" cy="308.4" r="1.2"/><circle cx="131.5" cy="171.1" r="1.2"/><circle cx="214.1" cy="116.1" r="1.2"/><circle cx="392.5" cy="234.4" r="1.2"/><circle cx="409.0" cy="293.8" r="1.2"/><circle cx="394.2" cy="264.7" r="1.2"/><circle cx="160.8" cy="139.0" r="1.2"/><circle cx="404.9" cy="263.2" r="1.2"/><circle cx="408.8" cy="298.9" r="1.2"/><circle cx="104.1" cy="173.3" r="1.2"/><circle cx="410.9" cy="283.0" r="1.2"/><circle cx="194.6" cy="189.8" r="1.2"/><circle cx="399.5" cy="275.1" r="1.2"/><circle cx="381.9" cy="281.7" r="1.2"/><circle cx="154.1" cy="177.1" r="1.2"/><circle cx="390.3" cy="223.5" r="1.2"/><circle cx="127.9" cy="151.3" r="1.2"/><circle cx="399.9" cy="283.0" r="1.2"/><circle cx="132.2" cy="151.7" r="1.2"/><circle cx="147.2" cy="151.1" r="1.2"/><circle cx="388.8" cy="223.7" r="1.2"/><circle cx="156.6" cy="132.9" r="1.2"/><circle cx="130.4" cy="167.4" r="1.2"/><circle cx="387.0" cy="299.3" r="1.2"/><circle cx="136.2" cy="149.8" r="1.2"/><circle cx="105.4" cy="167.6" r="1.2"/><circle cx="402.0" cy="262.7" r="1.2"/><circle cx="380.0" cy="297.6" r="1.2"/><circle cx="398.2" cy="313.2" r="1.2"/><circle cx="408.9" cy="267.2" r="1.2"/><circle cx="157.0" cy="182.9" r="1.2"/><circle cx="160.5" cy="179.3" r="1.2"/><circle cx="405.3" cy="258.3" r="1.2"/><circle cx="405.6" cy="286.3" r="1.2"/><circle cx="113.4" cy="144.3" r="1.2"/><circle cx="159.5" cy="156.1" r="1.2"/><circle cx="162.2" cy="182.1" r="1.2"/><circle cx="123.8" cy="161.5" r="1.2"/><circle cx="380.5" cy="276.2" r="1.2"/><circle cx="152.5" cy="183.2" r="1.2"/><circle cx="405.6" cy="247.0" r="1.2"/><circle cx="377.4" cy="282.2" r="1.2"/><circle cx="392.8" cy="291.3" r="1.2"/><circle cx="103.5" cy="161.9" r="1.2"/><circle cx="124.7" cy="165.9" r="1.2"/><circle cx="375.9" cy="279.4" r="1.2"/><circle cx="404.3" cy="279.1" r="1.2"/><circle cx="156.8" cy="137.3" r="1.2"/><circle cx="152.5" cy="152.4" r="1.2"/><circle cx="405.2" cy="296.4" r="1.2"/><circle cx="390.6" cy="310.6" r="1.2"/><circle cx="391.8" cy="226.3" r="1.2"/><circle cx="148.2" cy="176.2" r="1.2"/><circle cx="401.3" cy="238.8" r="1.2"/><circle cx="402.1" cy="310.5" r="1.2"/><circle cx="117.7" cy="191.6" r="1.2"/><circle cx="388.7" cy="308.5" r="1.2"/><circle cx="166.0" cy="165.4" r="1.2"/><circle cx="100.7" cy="180.6" r="1.2"/><circle cx="155.3" cy="160.0" r="1.2"/><circle cx="137.9" cy="148.0" r="1.2"/><circle cx="135.3" cy="164.5" r="1.2"/><circle cx="403.5" cy="212.8" r="1.2"/><circle cx="112.1" cy="147.0" r="1.2"/><circle cx="393.0" cy="287.5" r="1.2"/><circle cx="387.7" cy="230.1" r="1.2"/><circle cx="102.0" cy="181.5" r="1.2"/><circle cx="133.7" cy="184.8" r="1.2"/><circle cx="124.1" cy="183.7" r="1.2"/><circle cx="397.0" cy="225.9" r="1.2"/><circle cx="190.7" cy="182.2" r="1.2"/><circle cx="407.8" cy="280.4" r="1.2"/><circle cx="397.0" cy="256.1" r="1.2"/><circle cx="386.9" cy="270.4" r="1.2"/><circle cx="381.2" cy="287.3" r="1.2"/><circle cx="152.1" cy="165.5" r="1.2"/><circle cx="149.7" cy="119.9" r="1.2"/><circle cx="391.4" cy="306.8" r="1.2"/><circle cx="384.4" cy="303.8" r="1.2"/><circle cx="116.7" cy="155.6" r="1.2"/><circle cx="108.9" cy="173.8" r="1.2"/><circle cx="223.4" cy="112.1" r="1.2"/><circle cx="118.3" cy="153.3" r="1.2"/><circle cx="117.4" cy="175.3" r="1.2"/><circle cx="401.7" cy="294.3" r="1.2"/><circle cx="381.9" cy="299.8" r="1.2"/><circle cx="397.3" cy="292.7" r="1.2"/><circle cx="148.5" cy="150.0" r="1.2"/><circle cx="404.2" cy="286.9" r="1.2"/><circle cx="128.1" cy="190.0" r="1.2"/><circle cx="116.3" cy="151.9" r="1.2"/><circle cx="96.3" cy="143.0" r="1.2"/><circle cx="127.4" cy="171.5" r="1.2"/><circle cx="121.5" cy="172.2" r="1.2"/><circle cx="394.3" cy="298.5" r="1.2"/><circle cx="162.7" cy="167.3" r="1.2"/><circle cx="384.2" cy="281.9" r="1.2"/><circle cx="194.8" cy="187.3" r="1.2"/><circle cx="393.1" cy="297.6" r="1.2"/><circle cx="106.3" cy="166.2" r="1.2"/><circle cx="164.5" cy="160.2" r="1.2"/><circle cx="114.0" cy="181.5" r="1.2"/><circle cx="401.3" cy="246.5" r="1.2"/><circle cx="144.1" cy="152.0" r="1.2"/><circle cx="111.4" cy="174.5" r="1.2"/><circle cx="409.1" cy="246.6" r="1.2"/><circle cx="120.5" cy="183.4" r="1.2"/><circle cx="402.4" cy="231.0" r="1.2"/><circle cx="390.8" cy="260.5" r="1.2"/><circle cx="116.6" cy="196.4" r="1.2"/><circle cx="402.0" cy="300.7" r="1.2"/><circle cx="385.7" cy="292.7" r="1.2"/><circle cx="137.3" cy="179.6" r="1.2"/><circle cx="377.1" cy="280.5" r="1.2"/><circle cx="129.1" cy="170.2" r="1.2"/><circle cx="214.2" cy="119.1" r="1.2"/><circle cx="101.8" cy="172.0" r="1.2"/><circle cx="393.5" cy="310.9" r="1.2"/><circle cx="382.5" cy="274.0" r="1.2"/><circle cx="387.0" cy="266.1" r="1.2"/><circle cx="183.4" cy="185.0" r="1.2"/><circle cx="158.0" cy="164.9" r="1.2"/><circle cx="131.1" cy="157.7" r="1.2"/><circle cx="381.1" cy="312.0" r="1.2"/><circle cx="384.7" cy="310.3" r="1.2"/><circle cx="123.0" cy="152.1" r="1.2"/><circle cx="391.2" cy="224.7" r="1.2"/><circle cx="157.8" cy="145.3" r="1.2"/><circle cx="411.3" cy="298.2" r="1.2"/><circle cx="388.4" cy="303.6" r="1.2"/><circle cx="391.2" cy="312.8" r="1.2"/><circle cx="393.5" cy="263.1" r="1.2"/><circle cx="405.6" cy="245.3" r="1.2"/><circle cx="409.9" cy="290.5" r="1.2"/><circle cx="118.4" cy="184.7" r="1.2"/><circle cx="106.5" cy="162.9" r="1.2"/><circle cx="406.9" cy="302.1" r="1.2"/><circle cx="388.9" cy="225.4" r="1.2"/><circle cx="144.3" cy="165.8" r="1.2"/><circle cx="382.8" cy="283.7" r="1.2"/><circle cx="395.6" cy="228.5" r="1.2"/><circle cx="105.0" cy="174.8" r="1.2"/><circle cx="383.5" cy="300.7" r="1.2"/><circle cx="146.9" cy="180.9" r="1.2"/><circle cx="377.1" cy="290.2" r="1.2"/><circle cx="403.0" cy="247.1" r="1.2"/><circle cx="123.1" cy="145.9" r="1.2"/><circle cx="202.5" cy="113.4" r="1.2"/><circle cx="406.3" cy="265.5" r="1.2"/><circle cx="128.4" cy="165.3" r="1.2"/><circle cx="407.0" cy="295.1" r="1.2"/><circle cx="108.2" cy="169.1" r="1.2"/><circle cx="162.4" cy="184.3" r="1.2"/><circle cx="158.9" cy="172.1" r="1.2"/><circle cx="403.1" cy="299.7" r="1.2"/><circle cx="138.7" cy="122.3" r="1.2"/><circle cx="409.9" cy="251.3" r="1.2"/><circle cx="384.2" cy="223.4" r="1.2"/><circle cx="395.6" cy="306.6" r="1.2"/><circle cx="395.5" cy="275.0" r="1.2"/><circle cx="112.8" cy="158.1" r="1.2"/><circle cx="151.7" cy="132.1" r="1.2"/><circle cx="102.5" cy="178.6" r="1.2"/><circle cx="208.0" cy="222.0" r="1.2"/><circle cx="386.2" cy="306.8" r="1.2"/><circle cx="409.0" cy="253.8" r="1.2"/><circle cx="400.5" cy="267.5" r="1.2"/><circle cx="403.3" cy="312.0" r="1.2"/><circle cx="391.7" cy="262.0" r="1.2"/><circle cx="203.6" cy="100.6" r="1.2"/><circle cx="109.3" cy="195.6" r="1.2"/><circle cx="393.2" cy="226.4" r="1.2"/><circle cx="222.6" cy="119.3" r="1.2"/><circle cx="146.2" cy="160.4" r="1.2"/><circle cx="382.9" cy="279.2" r="1.2"/><circle cx="100.1" cy="185.0" r="1.2"/><circle cx="104.2" cy="191.5" r="1.2"/><circle cx="384.2" cy="221.2" r="1.2"/><circle cx="131.1" cy="191.4" r="1.2"/><circle cx="397.0" cy="258.7" r="1.2"/><circle cx="386.1" cy="229.4" r="1.2"/><circle cx="396.7" cy="236.4" r="1.2"/><circle cx="111.2" cy="162.6" r="1.2"/><circle cx="139.6" cy="183.1" r="1.2"/><circle cx="387.8" cy="218.7" r="1.2"/><circle cx="180.0" cy="179.3" r="1.2"/><circle cx="133.5" cy="158.1" r="1.2"/><circle cx="138.6" cy="149.7" r="1.2"/><circle cx="181.7" cy="177.3" r="1.2"/><circle cx="122.5" cy="157.0" r="1.2"/><circle cx="391.3" cy="289.4" r="1.2"/><circle cx="387.2" cy="275.8" r="1.2"/><circle cx="142.7" cy="158.2" r="1.2"/><circle cx="120.3" cy="164.6" r="1.2"/><circle cx="380.8" cy="283.0" r="1.2"/><circle cx="411.7" cy="288.3" r="1.2"/><circle cx="93.6" cy="144.0" r="1.2"/><circle cx="381.9" cy="285.3" r="1.2"/><circle cx="122.0" cy="181.1" r="1.2"/><circle cx="388.7" cy="286.9" r="1.2"/><circle cx="151.2" cy="154.1" r="1.2"/><circle cx="394.2" cy="276.3" r="1.2"/><circle cx="397.6" cy="311.7" r="1.2"/><circle cx="165.6" cy="169.6" r="1.2"/><circle cx="111.2" cy="161.0" r="1.2"/><circle cx="117.0" cy="159.1" r="1.2"/><circle cx="377.6" cy="304.2" r="1.2"/><circle cx="102.7" cy="164.3" r="1.2"/><circle cx="204.9" cy="122.1" r="1.2"/><circle cx="158.9" cy="127.6" r="1.2"/><circle cx="382.2" cy="307.2" r="1.2"/><circle cx="145.2" cy="150.1" r="1.2"/><circle cx="394.8" cy="281.5" r="1.2"/><circle cx="114.1" cy="198.0" r="1.2"/><circle cx="406.7" cy="213.5" r="1.2"/><circle cx="378.5" cy="302.9" r="1.2"/><circle cx="400.8" cy="293.0" r="1.2"/><circle cx="375.3" cy="289.5" r="1.2"/><circle cx="91.2" cy="134.9" r="1.2"/><circle cx="393.1" cy="283.9" r="1.2"/><circle cx="391.9" cy="232.2" r="1.2"/><circle cx="153.5" cy="166.9" r="1.2"/><circle cx="114.9" cy="175.2" r="1.2"/><circle cx="401.6" cy="264.8" r="1.2"/><circle cx="150.4" cy="169.3" r="1.2"/><circle cx="104.8" cy="163.4" r="1.2"/><circle cx="109.5" cy="164.7" r="1.2"/></g>
<g fill="#34a030"><circle cx="226.6" cy="292.0" r="1.2"/><circle cx="291.5" cy="362.4" r="1.2"/><circle cx="211.1" cy="318.1" r="1.2"/><circle cx="190.9" cy="210.1" r="1.2"/><circle cx="232.8" cy="342.9" r="1.2"/><circle cx="215.7" cy="227.6" r="1.2"/><circle cx="223.5" cy="301.3" r="1.2"/><circle cx="179.9" cy="247.1" r="1.2"/><circle cx="221.6" cy="303.1" r="1.2"/><circle cx="178.0" cy="244.8" r="1.2"/><circle cx="195.7" cy="237.2" r="1.2"/><circle cx="202.7" cy="228.0" r="1.2"/><circle cx="215.5" cy="218.3" r="1.2"/><circle cx="182.5" cy="236.3" r="1.2"/><circle cx="212.1" cy="327.4" r="1.2"/><circle cx="191.6" cy="237.7" r="1.2"/><circle cx="217.5" cy="344.3" r="1.2"/><circle cx="268.9" cy="206.1" r="1.2"/><circle cx="203.1" cy="389.9" r="1.2"/><circle cx="185.4" cy="226.8" r="1.2"/><circle cx="210.6" cy="219.7" r="1.2"/><circle cx="198.2" cy="222.1" r="1.2"/><circle cx="200.5" cy="250.5" r="1.2"/><circle cx="228.2" cy="343.4" r="1.2"/><circle cx="225.2" cy="334.6" r="1.2"/><circle cx="227.3" cy="339.7" r="1.2"/><circle cx="235.5" cy="337.6" r="1.2"/><circle cx="193.5" cy="242.0" r="1.2"/><circle cx="190.0" cy="231.8" r="1.2"/><circle cx="219.9" cy="305.9" r="1.2"/><circle cx="227.8" cy="329.4" r="1.2"/><circle cx="215.5" cy="312.9" r="1.2"/><circle cx="193.0" cy="257.4" r="1.2"/><circle cx="187.5" cy="227.3" r="1.2"/><circle cx="212.6" cy="240.7" r="1.2"/><circle cx="218.7" cy="347.1" r="1.2"/><circle cx="201.8" cy="231.1" r="1.2"/><circle cx="209.0" cy="231.6" r="1.2"/><circle cx="267.7" cy="215.1" r="1.2"/><circle cx="207.1" cy="388.5" r="1.2"/><circle cx="179.5" cy="177.1" r="1.2"/><circle cx="216.7" cy="323.7" r="1.2"/><circle cx="231.7" cy="340.8" r="1.2"/><circle cx="225.3" cy="321.3" r="1.2"/><circle cx="178.3" cy="238.4" r="1.2"/><circle cx="220.5" cy="346.7" r="1.2"/><circle cx="180.2" cy="238.1" r="1.2"/><circle cx="223.2" cy="344.9" r="1.2"/><circle cx="215.7" cy="331.9" r="1.2"/><circle cx="227.3" cy="345.0" r="1.2"/><circle cx="231.4" cy="312.9" r="1.2"/><circle cx="188.5" cy="259.3" r="1.2"/><circle cx="177.7" cy="222.6" r="1.2"/><circle cx="211.4" cy="388.4" r="1.2"/><circle cx="215.4" cy="328.2" r="1.2"/><circle cx="202.0" cy="252.0" r="1.2"/><circle cx="220.9" cy="323.7" r="1.2"/><circle cx="176.0" cy="253.2" r="1.2"/><circle cx="215.8" cy="336.0" r="1.2"/><circle cx="225.2" cy="330.8" r="1.2"/><circle cx="239.9" cy="290.9" r="1.2"/><circle cx="178.4" cy="230.3" r="1.2"/><circle cx="176.4" cy="250.4" r="1.2"/><circle cx="215.0" cy="230.3" r="1.2"/><circle cx="237.7" cy="294.6" r="1.2"/><circle cx="222.1" cy="309.1" r="1.2"/><circle cx="213.6" cy="219.8" r="1.2"/><circle cx="198.7" cy="215.2" r="1.2"/><circle cx="228.2" cy="334.5" r="1.2"/><circle cx="221.5" cy="294.1" r="1.2"/><circle cx="214.9" cy="238.7" r="1.2"/><circle cx="216.9" cy="314.0" r="1.2"/><circle cx="190.3" cy="250.3" r="1.2"/><circle cx="212.1" cy="392.5" r="1.2"/><circle cx="189.6" cy="222.5" r="1.2"/><circle cx="214.7" cy="325.1" r="1.2"/><circle cx="221.4" cy="337.5" r="1.2"/><circle cx="232.0" cy="315.9" r="1.2"/><circle cx="185.6" cy="246.0" r="1.2"/><circle cx="196.4" cy="230.0" r="1.2"/><circle cx="220.1" cy="312.9" r="1.2"/><circle cx="218.9" cy="332.2" r="1.2"/><circle cx="222.2" cy="320.8" r="1.2"/><circle cx="220.7" cy="330.8" r="1.2"/><circle cx="174.6" cy="236.4" r="1.2"/><circle cx="206.2" cy="219.8" r="1.2"/><circle cx="236.9" cy="328.8" r="1.2"/><circle cx="234.3" cy="340.4" r="1.2"/><circle cx="230.7" cy="350.4" r="1.2"/><circle cx="214.6" cy="216.7" r="1.2"/><circle cx="212.4" cy="235.4" r="1.2"/><circle cx="184.0" cy="245.7" r="1.2"/><circle cx="188.0" cy="223.4" r="1.2"/><circle cx="222.2" cy="342.5" r="1.2"/><circle cx="220.0" cy="336.7" r="1.2"/><circle cx="230.2" cy="321.1" r="1.2"/><circle cx="193.2" cy="220.1" r="1.2"/><circle cx="228.4" cy="341.3" r="1.2"/><circle cx="175.7" cy="229.8" r="1.2"/><circle cx="218.7" cy="333.7" r="1.2"/><circle cx="194.5" cy="253.6" r="1.2"/><circle cx="174.9" cy="238.5" r="1.2"/><circle cx="221.9" cy="306.6" r="1.2"/><circle cx="237.0" cy="341.0" r="1.2"/><circle cx="176.0" cy="241.9" r="1.2"/><circle cx="230.4" cy="288.8" r="1.2"/><circle cx="193.3" cy="217.8" r="1.2"/><circle cx="203.9" cy="393.0" r="1.2"/><circle cx="211.7" cy="395.1" r="1.2"/><circle cx="179.3" cy="259.7" r="1.2"/><circle cx="193.3" cy="238.9" r="1.2"/><circle cx="183.8" cy="249.4" r="1.2"/><circle cx="184.4" cy="229.1" r="1.2"/><circle cx="201.3" cy="243.3" r="1.2"/><circle cx="204.8" cy="385.5" r="1.2"/><circle cx="224.9" cy="316.0" r="1.2"/><circle cx="208.4" cy="217.7" r="1.2"/><circle cx="179.2" cy="213.5" r="1.2"/><circle cx="172.8" cy="244.6" r="1.2"/><circle cx="190.1" cy="233.5" r="1.2"/><circle cx="219.0" cy="341.3" r="1.2"/><circle cx="184.9" cy="219.8" r="1.2"/><circle cx="192.4" cy="254.2" r="1.2"/><circle cx="203.1" cy="225.7" r="1.2"/><circle cx="204.3" cy="239.2" r="1.2"/><circle cx="229.4" cy="336.7" r="1.2"/><circle cx="221.2" cy="327.0" r="1.2"/><circle cx="207.9" cy="386.8" r="1.2"/><circle cx="187.0" cy="199.1" r="1.2"/><circle cx="210.4" cy="216.0" r="1.2"/><circle cx="231.5" cy="328.1" r="1.2"/><circle cx="197.2" cy="250.7" r="1.2"/><circle cx="202.8" cy="241.2" r="1.2"/><circle cx="217.2" cy="340.3" r="1.2"/><circle cx="200.9" cy="248.5" r="1.2"/><circle cx="199.3" cy="231.3" r="1.2"/><circle cx="265.2" cy="339.1" r="1.2"/><circle cx="229.7" cy="314.5" r="1.2"/><circle cx="234.7" cy="292.3" r="1.2"/><circle cx="197.7" cy="233.1" r="1.2"/><circle cx="198.8" cy="234.3" r="1.2"/><circle cx="231.4" cy="332.6" r="1.2"/><circle cx="188.5" cy="219.3" r="1.2"/><circle cx="226.2" cy="325.3" r="1.2"/><circle cx="226.0" cy="346.8" r="1.2"/><circle cx="194.0" cy="230.1" r="1.2"/><circle cx="222.4" cy="328.4" r="1.2"/><circle cx="204.9" cy="237.6" r="1.2"/><circle cx="207.4" cy="226.2" r="1.2"/><circle cx="252.2" cy="147.6" r="1.2"/><circle cx="205.3" cy="226.0" r="1.2"/><circle cx="215.9" cy="334.5" r="1.2"/><circle cx="218.2" cy="233.1" r="1.2"/><circle cx="193.9" cy="261.1" r="1.2"/><circle cx="174.7" cy="256.9" r="1.2"/><circle cx="224.1" cy="341.2" r="1.2"/><circle cx="192.9" cy="247.7" r="1.2"/><circle cx="197.7" cy="248.0" r="1.2"/><circle cx="234.3" cy="327.6" r="1.2"/><circle cx="191.3" cy="228.9" r="1.2"/><circle cx="168.9" cy="218.0" r="1.2"/><circle cx="193.6" cy="211.8" r="1.2"/><circle cx="224.0" cy="323.6" r="1.2"/><circle cx="206.9" cy="238.8" r="1.2"/><circle cx="179.3" cy="257.6" r="1.2"/><circle cx="189.6" cy="235.2" r="1.2"/><circle cx="205.8" cy="222.7" r="1.2"/><circle cx="280.0" cy="214.0" r="1.2"/><circle cx="193.4" cy="233.9" r="1.2"/><circle cx="384.5" cy="257.0" r="1.2"/><circle cx="182.2" cy="259.0" r="1.2"/><circle cx="217.1" cy="328.9" r="1.2"/><circle cx="225.3" cy="338.9" r="1.2"/><circle cx="225.1" cy="313.9" r="1.2"/><circle cx="208.5" cy="220.9" r="1.2"/><circle cx="187.8" cy="238.0" r="1.2"/><circle cx="228.8" cy="320.3" r="1.2"/><circle cx="195.2" cy="232.2" r="1.2"/><circle cx="216.9" cy="320.9" r="1.2"/><circle cx="234.0" cy="317.5" r="1.2"/><circle cx="193.4" cy="213.7" r="1.2"/><circle cx="221.9" cy="332.8" r="1.2"/><circle cx="210.1" cy="325.7" r="1.2"/><circle cx="176.7" cy="234.2" r="1.2"/><circle cx="192.3" cy="215.8" r="1.2"/><circle cx="224.1" cy="292.6" r="1.2"/><circle cx="240.5" cy="330.3" r="1.2"/><circle cx="228.7" cy="284.0" r="1.2"/><circle cx="222.8" cy="350.3" r="1.2"/><circle cx="188.4" cy="211.0" r="1.2"/><circle cx="214.9" cy="221.1" r="1.2"/><circle cx="217.0" cy="231.6" r="1.2"/><circle cx="220.4" cy="310.4" r="1.2"/><circle cx="185.3" cy="261.7" r="1.2"/><circle cx="210.6" cy="319.7" r="1.2"/><circle cx="215.3" cy="224.7" r="1.2"/><circle cx="182.4" cy="213.2" r="1.2"/><circle cx="222.7" cy="334.1" r="1.2"/><circle cx="201.2" cy="222.7" r="1.2"/><circle cx="190.0" cy="227.9" r="1.2"/><circle cx="207.0" cy="245.5" r="1.2"/><circle cx="199.2" cy="240.2" r="1.2"/><circle cx="202.3" cy="249.9" r="1.2"/><circle cx="198.3" cy="225.4" r="1.2"/><circle cx="225.7" cy="326.9" r="1.2"/><circle cx="229.1" cy="312.9" r="1.2"/><circle cx="190.8" cy="241.6" r="1.2"/><circle cx="229.8" cy="327.5" r="1.2"/><circle cx="202.1" cy="220.2" r="1.2"/><circle cx="190.0" cy="212.3" r="1.2"/><circle cx="200.7" cy="238.0" r="1.2"/><circle cx="222.5" cy="315.5" r="1.2"/><circle cx="229.8" cy="345.4" r="1.2"/><circle cx="186.3" cy="236.5" r="1.2"/><circle cx="191.3" cy="248.9" r="1.2"/><circle cx="181.9" cy="242.8" r="1.2"/><circle cx="228.3" cy="303.1" r="1.2"/><circle cx="195.4" cy="238.9" r="1.2"/><circle cx="230.7" cy="319.6" r="1.2"/><circle cx="225.9" cy="308.1" r="1.2"/><circle cx="186.3" cy="240.1" r="1.2"/><circle cx="230.5" cy="298.3" r="1.2"/><circle cx="190.3" cy="254.6" r="1.2"/><circle cx="225.4" cy="317.6" r="1.2"/><circle cx="232.2" cy="321.1" r="1.2"/><circle cx="230.9" cy="324.7" r="1.2"/><circle cx="239.1" cy="295.8" r="1.2"/><circle cx="213.9" cy="234.3" r="1.2"/><circle cx="219.2" cy="321.1" r="1.2"/><circle cx="236.7" cy="336.6" r="1.2"/><circle cx="177.5" cy="224.8" r="1.2"/><circle cx="198.6" cy="236.0" r="1.2"/><circle cx="183.4" cy="220.6" r="1.2"/><circle cx="227.5" cy="316.0" r="1.2"/><circle cx="219.2" cy="343.8" r="1.2"/><circle cx="268.0" cy="352.0" r="1.2"/><circle cx="211.8" cy="331.3" r="1.2"/><circle cx="188.9" cy="245.0" r="1.2"/><circle cx="223.0" cy="311.5" r="1.2"/><circle cx="192.6" cy="245.8" r="1.2"/><circle cx="178.6" cy="240.7" r="1.2"/><circle cx="187.2" cy="247.1" r="1.2"/><circle cx="190.8" cy="208.2" r="1.2"/><circle cx="180.1" cy="218.0" r="1.2"/><circle cx="194.9" cy="228.2" r="1.2"/><circle cx="227.9" cy="306.3" r="1.2"/><circle cx="186.0" cy="225.3" r="1.2"/><circle cx="186.6" cy="232.6" r="1.2"/><circle cx="199.5" cy="253.3" r="1.2"/><circle cx="199.1" cy="227.1" r="1.2"/><circle cx="193.4" cy="252.4" r="1.2"/><circle cx="181.9" cy="251.4" r="1.2"/><circle cx="207.2" cy="243.5" r="1.2"/><circle cx="225.1" cy="296.1" r="1.2"/><circle cx="222.3" cy="291.3" r="1.2"/><circle cx="232.0" cy="317.7" r="1.2"/><circle cx="233.3" cy="347.0" r="1.2"/><circle cx="193.8" cy="223.4" r="1.2"/><circle cx="217.4" cy="310.8" r="1.2"/><circle cx="279.6" cy="363.3" r="1.2"/><circle cx="224.0" cy="347.2" r="1.2"/><circle cx="201.5" cy="212.2" r="1.2"/><circle cx="222.6" cy="313.6" r="1.2"/><circle cx="205.4" cy="244.2" r="1.2"/><circle cx="216.0" cy="236.7" r="1.2"/><circle cx="178.7" cy="253.5" r="1.2"/><circle cx="188.6" cy="249.7" r="1.2"/><circle cx="220.5" cy="319.7" r="1.2"/><circle cx="183.9" cy="254.3" r="1.2"/><circle cx="228.3" cy="322.8" r="1.2"/><circle cx="203.7" cy="387.7" r="1.2"/><circle cx="199.9" cy="224.3" r="1.2"/><circle cx="222.7" cy="330.3" r="1.2"/><circle cx="221.3" cy="339.2" r="1.2"/><circle cx="272.6" cy="354.8" r="1.2"/><circle cx="174.5" cy="251.6" r="1.2"/><circle cx="212.6" cy="225.7" r="1.2"/><circle cx="249.4" cy="169.2" r="1.2"/><circle cx="228.5" cy="324.5" r="1.2"/><circle cx="209.1" cy="237.1" r="1.2"/><circle cx="207.3" cy="247.3" r="1.2"/><circle cx="296.0" cy="256.0" r="1.2"/><circle cx="223.8" cy="327.9" r="1.2"/><circle cx="221.7" cy="299.0" r="1.2"/><circle cx="198.3" cy="217.8" r="1.2"/><circle cx="174.8" cy="228.3" r="1.2"/><circle cx="201.3" cy="218.2" r="1.2"/><circle cx="230.9" cy="347.0" r="1.2"/><circle cx="232.5" cy="304.9" r="1.2"/><circle cx="205.0" cy="217.2" r="1.2"/><circle cx="185.4" cy="258.8" r="1.2"/><circle cx="197.5" cy="237.4" r="1.2"/><circle cx="219.2" cy="300.3" r="1.2"/><circle cx="225.6" cy="348.9" r="1.2"/><circle cx="217.3" cy="315.5" r="1.2"/><circle cx="187.2" cy="215.5" r="1.2"/><circle cx="235.8" cy="294.1" r="1.2"/><circle cx="203.7" cy="215.9" r="1.2"/><circle cx="180.9" cy="228.2" r="1.2"/><circle cx="232.2" cy="296.3" r="1.2"/><circle cx="211.5" cy="222.7" r="1.2"/><circle cx="194.3" cy="243.9" r="1.2"/><circle cx="232.6" cy="294.6" r="1.2"/><circle cx="203.9" cy="229.2" r="1.2"/><circle cx="192.3" cy="230.2" r="1.2"/><circle cx="213.7" cy="328.1" r="1.2"/><circle cx="236.1" cy="300.2" r="1.2"/><circle cx="211.2" cy="323.7" r="1.2"/><circle cx="197.0" cy="210.1" r="1.2"/><circle cx="229.0" cy="347.9" r="1.2"/><circle cx="232.6" cy="322.9" r="1.2"/><circle cx="185.0" cy="222.1" r="1.2"/><circle cx="218.1" cy="335.2" r="1.2"/><circle cx="197.3" cy="223.6" r="1.2"/><circle cx="211.1" cy="329.1" r="1.2"/><circle cx="226.5" cy="343.1" r="1.2"/><circle cx="174.5" cy="241.5" r="1.2"/><circle cx="206.8" cy="214.0" r="1.2"/><circle cx="231.1" cy="307.2" r="1.2"/><circle cx="197.4" cy="253.4" r="1.2"/><circle cx="185.2" cy="197.9" r="1.2"/><circle cx="226.4" cy="323.5" r="1.2"/><circle cx="219.8" cy="327.8" r="1.2"/><circle cx="208.9" cy="235.1" r="1.2"/><circle cx="235.9" cy="331.6" r="1.2"/><circle cx="215.6" cy="321.7" r="1.2"/><circle cx="171.0" cy="169.0" r="1.2"/><circle cx="206.7" cy="224.3" r="1.2"/><circle cx="214.6" cy="318.3" r="1.2"/><circle cx="224.9" cy="344.3" r="1.2"/><circle cx="212.8" cy="323.3" r="1.2"/><circle cx="208.1" cy="229.0" r="1.2"/><circle cx="197.1" cy="227.8" r="1.2"/><circle cx="213.1" cy="227.8" r="1.2"/><circle cx="304.2" cy="150.8" r="1.2"/><circle cx="210.5" cy="238.5" r="1.2"/><circle cx="186.1" cy="217.1" r="1.2"/><circle cx="266.3" cy="180.1" r="1.2"/><circle cx="189.8" cy="215.9" r="1.2"/><circle cx="178.3" cy="211.4" r="1.2"/><circle cx="213.6" cy="244.4" r="1.2"/><circle cx="229.9" cy="335.2" r="1.2"/><circle cx="203.6" cy="245.0" r="1.2"/><circle cx="225.8" cy="311.5" r="1.2"/><circle cx="234.9" cy="343.0" r="1.2"/><circle cx="195.1" cy="221.2" r="1.2"/><circle cx="228.7" cy="317.8" r="1.2"/><circle cx="228.0" cy="297.7" r="1.2"/><circle cx="230.2" cy="330.7" r="1.2"/><circle cx="235.6" cy="324.6" r="1.2"/><circle cx="178.8" cy="235.4" r="1.2"/><circle cx="205.4" cy="231.0" r="1.2"/><circle cx="260.0" cy="362.0" r="1.2"/><circle cx="178.1" cy="227.0" r="1.2"/><circle cx="184.4" cy="238.3" r="1.2"/><circle cx="216.9" cy="327.0" r="1.2"/><circle cx="214.7" cy="232.0" r="1.2"/><circle cx="213.5" cy="329.8" r="1.2"/><circle cx="221.2" cy="316.5" r="1.2"/><circle cx="205.0" cy="214.3" r="1.2"/><circle cx="234.5" cy="335.9" r="1.2"/><circle cx="196.4" cy="244.1" r="1.2"/><circle cx="214.3" cy="237.0" r="1.2"/><circle cx="194.5" cy="226.2" r="1.2"/><circle cx="229.8" cy="340.0" r="1.2"/><circle cx="226.9" cy="349.8" r="1.2"/><circle cx="198.7" cy="212.3" r="1.2"/><circle cx="201.2" cy="229.1" r="1.2"/><circle cx="182.0" cy="224.0" r="1.2"/><circle cx="231.2" cy="343.5" r="1.2"/><circle cx="177.6" cy="251.9" r="1.2"/><circle cx="182.9" cy="227.5" r="1.2"/><circle cx="213.1" cy="326.3" r="1.2"/><circle cx="232.5" cy="335.2" r="1.2"/><circle cx="195.7" cy="241.8" r="1.2"/><circle cx="212.6" cy="319.2" r="1.2"/><circle cx="262.9" cy="355.9" r="1.2"/><circle cx="183.8" cy="251.7" r="1.2"/><circle cx="190.0" cy="225.7" r="1.2"/><circle cx="191.4" cy="259.4" r="1.2"/><circle cx="234.4" cy="321.9" r="1.2"/><circle cx="201.5" cy="246.2" r="1.2"/><circle cx="228.3" cy="351.6" r="1.2"/><circle cx="190.2" cy="230.1" r="1.2"/><circle cx="186.2" cy="256.2" r="1.2"/><circle cx="226.8" cy="319.3" r="1.2"/><circle cx="170.5" cy="235.8" r="1.2"/><circle cx="205.8" cy="232.8" r="1.2"/><circle cx="196.5" cy="235.7" r="1.2"/><circle cx="208.7" cy="242.6" r="1.2"/><circle cx="174.6" cy="232.9" r="1.2"/><circle cx="197.0" cy="219.3" r="1.2"/><circle cx="283.0" cy="196.0" r="1.2"/><circle cx="192.3" cy="222.5" r="1.2"/><circle cx="236.4" cy="291.5" r="1.2"/><circle cx="300.7" cy="105.7" r="1.2"/><circle cx="230.7" cy="301.5" r="1.2"/><circle cx="181.2" cy="240.7" r="1.2"/><circle cx="187.0" cy="213.2" r="1.2"/><circle cx="184.6" cy="230.9" r="1.2"/><circle cx="275.8" cy="371.2" r="1.2"/><circle cx="190.1" cy="263.8" r="1.2"/><circle cx="231.8" cy="326.0" r="1.2"/><circle cx="225.8" cy="298.1" r="1.2"/><circle cx="232.0" cy="269.0" r="1.2"/><circle cx="210.6" cy="232.0" r="1.2"/><circle cx="208.1" cy="390.2" r="1.2"/><circle cx="223.1" cy="325.5" r="1.2"/><circle cx="230.5" cy="338.1" r="1.2"/></g>
<g fill="#fcc070"><circle cx="80.3" cy="254.3" r="1.2"/><circle cx="111.0" cy="263.4" r="1.2"/><circle cx="106.7" cy="302.6" r="1.2"/><circle cx="70.8" cy="253.0" r="1.2"/><circle cx="63.5" cy="245.8" r="1.2"/><circle cx="81.2" cy="247.7" r="1.2"/><circle cx="68.6" cy="233.5" r="1.2"/><circle cx="105.4" cy="299.4" r="1.2"/><circle cx="99.1" cy="299.7" r="1.2"/><circle cx="47.6" cy="235.5" r="1.2"/><circle cx="97.8" cy="257.7" r="1.2"/><circle cx="97.5" cy="308.0" r="1.2"/><circle cx="57.2" cy="242.6" r="1.2"/><circle cx="99.1" cy="247.2" r="1.2"/><circle cx="75.0" cy="262.3" r="1.2"/><circle cx="104.2" cy="295.3" r="1.2"/><circle cx="96.6" cy="267.5" r="1.2"/><circle cx="90.9" cy="241.8" r="1.2"/><circle cx="101.3" cy="302.2" r="1.2"/><circle cx="109.0" cy="260.0" r="1.2"/><circle cx="84.4" cy="263.0" r="1.2"/><circle cx="68.3" cy="238.5" r="1.2"/><circle cx="106.4" cy="262.8" r="1.2"/><circle cx="47.2" cy="247.9" r="1.2"/><circle cx="83.7" cy="241.5" r="1.2"/><circle cx="47.8" cy="252.8" r="1.2"/><circle cx="112.3" cy="266.3" r="1.2"/><circle cx="59.6" cy="241.5" r="1.2"/><circle cx="73.4" cy="235.7" r="1.2"/><circle cx="56.5" cy="253.5" r="1.2"/><circle cx="92.3" cy="269.8" r="1.2"/><circle cx="79.6" cy="245.2" r="1.2"/><circle cx="99.0" cy="319.2" r="1.2"/><circle cx="82.5" cy="252.3" r="1.2"/><circle cx="90.0" cy="267.8" r="1.2"/><circle cx="75.3" cy="257.8" r="1.2"/><circle cx="80.7" cy="238.5" r="1.2"/><circle cx="76.7" cy="260.5" r="1.2"/><circle cx="78.1" cy="241.0" r="1.2"/><circle cx="103.4" cy="262.3" r="1.2"/><circle cx="85.0" cy="256.9" r="1.2"/><circle cx="110.7" cy="254.0" r="1.2"/><circle cx="103.6" cy="297.3" r="1.2"/><circle cx="160.4" cy="81.4" r="1.2"/><circle cx="108.6" cy="265.7" r="1.2"/><circle cx="78.1" cy="244.6" r="1.2"/><circle cx="98.6" cy="253.1" r="1.2"/><circle cx="57.5" cy="238.6" r="1.2"/><circle cx="46.0" cy="246.1" r="1.2"/><circle cx="64.5" cy="238.3" r="1.2"/><circle cx="47.9" cy="232.1" r="1.2"/><circle cx="99.3" cy="315.1" r="1.2"/><circle cx="77.3" cy="238.8" r="1.2"/><circle cx="107.1" cy="249.6" r="1.2"/><circle cx="98.1" cy="311.0" r="1.2"/><circle cx="59.6" cy="264.1" r="1.2"/><circle cx="42.9" cy="239.3" r="1.2"/><circle cx="50.7" cy="241.4" r="1.2"/><circle cx="39.3" cy="234.7" r="1.2"/><circle cx="79.8" cy="241.5" r="1.2"/><circle cx="52.0" cy="237.4" r="1.2"/><circle cx="49.5" cy="243.5" r="1.2"/><circle cx="53.0" cy="258.4" r="1.2"/><circle cx="82.7" cy="244.2" r="1.2"/><circle cx="41.8" cy="230.1" r="1.2"/><circle cx="59.6" cy="234.6" r="1.2"/><circle cx="87.1" cy="246.9" r="1.2"/><circle cx="57.8" cy="255.2" r="1.2"/><circle cx="106.2" cy="257.7" r="1.2"/><circle cx="65.8" cy="236.6" r="1.2"/><circle cx="93.6" cy="254.2" r="1.2"/><circle cx="42.3" cy="228.6" r="1.2"/><circle cx="114.7" cy="267.5" r="1.2"/><circle cx="96.4" cy="319.8" r="1.2"/><circle cx="97.0" cy="269.1" r="1.2"/><circle cx="46.1" cy="251.8" r="1.2"/><circle cx="57.1" cy="258.2" r="1.2"/><circle cx="115.0" cy="257.6" r="1.2"/><circle cx="39.3" cy="238.7" r="1.2"/><circle cx="100.5" cy="320.1" r="1.2"/><circle cx="109.7" cy="257.9" r="1.2"/><circle cx="66.8" cy="253.7" r="1.2"/><circle cx="101.1" cy="310.0" r="1.2"/><circle cx="62.1" cy="256.1" r="1.2"/><circle cx="79.0" cy="255.0" r="1.2"/><circle cx="55.2" cy="245.7" r="1.2"/><circle cx="86.0" cy="249.6" r="1.2"/><circle cx="103.6" cy="247.8" r="1.2"/><circle cx="102.1" cy="318.5" r="1.2"/><circle cx="67.1" cy="263.2" r="1.2"/><circle cx="78.8" cy="258.3" r="1.2"/><circle cx="59.8" cy="259.1" r="1.2"/><circle cx="89.3" cy="240.9" r="1.2"/><circle cx="105.0" cy="319.4" r="1.2"/><circle cx="69.1" cy="257.9" r="1.2"/><circle cx="63.9" cy="229.8" r="1.2"/><circle cx="104.2" cy="252.9" r="1.2"/><circle cx="69.6" cy="251.4" r="1.2"/><circle cx="71.0" cy="234.8" r="1.2"/><circle cx="86.7" cy="252.8" r="1.2"/><circle cx="93.7" cy="247.8" r="1.2"/><circle cx="74.0" cy="260.0" r="1.2"/><circle cx="54.3" cy="251.5" r="1.2"/><circle cx="50.2" cy="245.1" r="1.2"/><circle cx="114.5" cy="253.9" r="1.2"/><circle cx="41.7" cy="241.3" r="1.2"/><circle cx="103.7" cy="303.6" r="1.2"/><circle cx="52.7" cy="244.9" r="1.2"/><circle cx="64.4" cy="254.0" r="1.2"/><circle cx="104.3" cy="315.5" r="1.2"/><circle cx="44.6" cy="234.4" r="1.2"/><circle cx="84.8" cy="244.3" r="1.2"/><circle cx="97.9" cy="322.4" r="1.2"/><circle cx="54.7" cy="258.5" r="1.2"/><circle cx="64.9" cy="243.6" r="1.2"/><circle cx="108.7" cy="262.5" r="1.2"/><circle cx="59.3" cy="245.0" r="1.2"/><circle cx="77.8" cy="249.2" r="1.2"/><circle cx="78.5" cy="268.3" r="1.2"/><circle cx="81.1" cy="257.3" r="1.2"/><circle cx="37.8" cy="236.1" r="1.2"/><circle cx="74.4" cy="234.1" r="1.2"/><circle cx="95.3" cy="308.3" r="1.2"/><circle cx="65.6" cy="242.2" r="1.2"/><circle cx="91.7" cy="247.0" r="1.2"/><circle cx="105.2" cy="254.3" r="1.2"/><circle cx="64.2" cy="257.5" r="1.2"/><circle cx="88.1" cy="258.3" r="1.2"/><circle cx="51.6" cy="227.6" r="1.2"/><circle cx="95.7" cy="251.0" r="1.2"/><circle cx="59.6" cy="237.2" r="1.2"/><circle cx="103.0" cy="266.7" r="1.2"/><circle cx="228.0" cy="184.0" r="1.2"/><circle cx="63.2" cy="243.9" r="1.2"/><circle cx="107.2" cy="297.3" r="1.2"/><circle cx="106.6" cy="295.2" r="1.2"/><circle cx="82.1" cy="262.9" r="1.2"/><circle cx="94.2" cy="259.2" r="1.2"/><circle cx="85.4" cy="261.4" r="1.2"/><circle cx="69.5" cy="260.7" r="1.2"/><circle cx="38.9" cy="245.2" r="1.2"/><circle cx="40.4" cy="242.1" r="1.2"/><circle cx="109.6" cy="255.2" r="1.2"/><circle cx="77.7" cy="236.5" r="1.2"/><circle cx="56.3" cy="232.3" r="1.2"/><circle cx="54.7" cy="260.0" r="1.2"/><circle cx="61.0" cy="242.6" r="1.2"/><circle cx="98.1" cy="313.3" r="1.2"/><circle cx="102.1" cy="312.2" r="1.2"/><circle cx="50.9" cy="251.5" r="1.2"/><circle cx="70.9" cy="240.4" r="1.2"/><circle cx="37.4" cy="238.1" r="1.2"/><circle cx="49.4" cy="235.1" r="1.2"/><circle cx="61.7" cy="240.9" r="1.2"/><circle cx="67.8" cy="242.9" r="1.2"/><circle cx="112.2" cy="260.9" r="1.2"/><circle cx="40.8" cy="226.6" r="1.2"/><circle cx="76.8" cy="267.4" r="1.2"/><circle cx="110.6" cy="261.8" r="1.2"/><circle cx="49.1" cy="255.1" r="1.2"/><circle cx="82.9" cy="246.8" r="1.2"/><circle cx="57.9" cy="252.3" r="1.2"/><circle cx="63.9" cy="250.9" r="1.2"/><circle cx="47.7" cy="246.4" r="1.2"/><circle cx="57.9" cy="234.6" r="1.2"/><circle cx="95.6" cy="263.2" r="1.2"/><circle cx="97.0" cy="306.2" r="1.2"/><circle cx="94.4" cy="257.4" r="1.2"/><circle cx="36.8" cy="241.2" r="1.2"/><circle cx="92.6" cy="251.5" r="1.2"/><circle cx="113.4" cy="263.3" r="1.2"/><circle cx="87.5" cy="264.9" r="1.2"/><circle cx="62.4" cy="239.0" r="1.2"/><circle cx="42.6" cy="248.1" r="1.2"/><circle cx="42.4" cy="234.4" r="1.2"/><circle cx="56.1" cy="261.5" r="1.2"/><circle cx="60.4" cy="229.8" r="1.2"/><circle cx="68.4" cy="252.8" r="1.2"/><circle cx="81.9" cy="267.0" r="1.2"/><circle cx="66.5" cy="261.2" r="1.2"/><circle cx="112.4" cy="252.1" r="1.2"/><circle cx="66.9" cy="259.2" r="1.2"/><circle cx="52.1" cy="260.1" r="1.2"/><circle cx="89.3" cy="253.1" r="1.2"/><circle cx="108.8" cy="252.0" r="1.2"/><circle cx="53.9" cy="234.7" r="1.2"/><circle cx="69.7" cy="255.7" r="1.2"/><circle cx="50.3" cy="248.9" r="1.2"/><circle cx="111.6" cy="256.6" r="1.2"/><circle cx="80.2" cy="269.3" r="1.2"/><circle cx="94.6" cy="246.6" r="1.2"/><circle cx="89.7" cy="263.3" r="1.2"/><circle cx="73.5" cy="262.3" r="1.2"/><circle cx="44.6" cy="249.5" r="1.2"/><circle cx="55.5" cy="248.6" r="1.2"/><circle cx="96.3" cy="247.7" r="1.2"/><circle cx="39.9" cy="229.6" r="1.2"/><circle cx="84.1" cy="259.7" r="1.2"/><circle cx="82.2" cy="249.8" r="1.2"/><circle cx="60.7" cy="246.0" r="1.2"/><circle cx="87.4" cy="263.0" r="1.2"/><circle cx="84.1" cy="268.3" r="1.2"/><circle cx="105.3" cy="266.9" r="1.2"/><circle cx="105.2" cy="261.5" r="1.2"/><circle cx="73.2" cy="247.2" r="1.2"/><circle cx="44.0" cy="240.6" r="1.2"/><circle cx="82.0" cy="260.3" r="1.2"/><circle cx="61.6" cy="262.5" r="1.2"/><circle cx="41.3" cy="243.9" r="1.2"/><circle cx="63.8" cy="241.5" r="1.2"/><circle cx="99.9" cy="306.7" r="1.2"/><circle cx="92.6" cy="266.8" r="1.2"/><circle cx="107.5" cy="259.7" r="1.2"/><circle cx="53.1" cy="231.1" r="1.2"/><circle cx="75.1" cy="249.2" r="1.2"/><circle cx="74.6" cy="251.4" r="1.2"/><circle cx="58.0" cy="256.8" r="1.2"/><circle cx="107.4" cy="256.6" r="1.2"/><circle cx="61.5" cy="250.8" r="1.2"/><circle cx="50.2" cy="233.7" r="1.2"/><circle cx="90.2" cy="257.8" r="1.2"/><circle cx="62.9" cy="232.7" r="1.2"/><circle cx="97.4" cy="261.2" r="1.2"/><circle cx="86.3" cy="258.4" r="1.2"/><circle cx="63.7" cy="267.1" r="1.2"/><circle cx="86.0" cy="255.4" r="1.2"/><circle cx="70.0" cy="263.6" r="1.2"/><circle cx="111.3" cy="259.3" r="1.2"/><circle cx="71.4" cy="267.1" r="1.2"/><circle cx="57.0" cy="237.0" r="1.2"/><circle cx="93.1" cy="263.6" r="1.2"/><circle cx="58.1" cy="246.1" r="1.2"/><circle cx="53.9" cy="261.8" r="1.2"/><circle cx="99.3" cy="255.0" r="1.2"/><circle cx="117.2" cy="264.5" r="1.2"/><circle cx="100.7" cy="253.3" r="1.2"/><circle cx="48.5" cy="250.3" r="1.2"/><circle cx="101.1" cy="297.8" r="1.2"/><circle cx="104.8" cy="304.7" r="1.2"/><circle cx="75.2" cy="247.3" r="1.2"/><circle cx="79.7" cy="249.1" r="1.2"/><circle cx="90.1" cy="255.3" r="1.2"/><circle cx="95.6" cy="316.2" r="1.2"/><circle cx="56.0" cy="255.2" r="1.2"/><circle cx="52.6" cy="263.4" r="1.2"/><circle cx="72.6" cy="238.0" r="1.2"/><circle cx="65.7" cy="257.7" r="1.2"/><circle cx="113.2" cy="254.8" r="1.2"/><circle cx="48.7" cy="239.9" r="1.2"/><circle cx="87.5" cy="243.9" r="1.2"/><circle cx="89.1" cy="266.3" r="1.2"/><circle cx="98.9" cy="305.1" r="1.2"/><circle cx="64.1" cy="260.9" r="1.2"/><circle cx="60.4" cy="249.2" r="1.2"/><circle cx="59.8" cy="252.6" r="1.2"/><circle cx="76.9" cy="262.5" r="1.2"/><circle cx="74.7" cy="267.7" r="1.2"/><circle cx="53.2" cy="250.3" r="1.2"/><circle cx="90.2" cy="244.9" r="1.2"/><circle cx="100.7" cy="299.2" r="1.2"/><circle cx="67.1" cy="245.3" r="1.2"/><circle cx="83.9" cy="265.3" r="1.2"/><circle cx="95.8" cy="311.9" r="1.2"/><circle cx="99.9" cy="308.2" r="1.2"/><circle cx="63.8" cy="264.0" r="1.2"/><circle cx="69.4" cy="266.4" r="1.2"/><circle cx="61.6" cy="258.1" r="1.2"/><circle cx="72.1" cy="249.3" r="1.2"/><circle cx="88.0" cy="260.5" r="1.2"/><circle cx="102.6" cy="308.6" r="1.2"/><circle cx="105.8" cy="268.5" r="1.2"/><circle cx="104.4" cy="317.1" r="1.2"/><circle cx="74.4" cy="254.9" r="1.2"/><circle cx="71.4" cy="257.1" r="1.2"/><circle cx="114.5" cy="264.6" r="1.2"/><circle cx="116.4" cy="256.6" r="1.2"/><circle cx="114.7" cy="262.2" r="1.2"/><circle cx="37.3" cy="243.6" r="1.2"/><circle cx="67.9" cy="247.7" r="1.2"/><circle cx="64.9" cy="233.2" r="1.2"/><circle cx="62.0" cy="244.9" r="1.2"/><circle cx="105.6" cy="250.2" r="1.2"/><circle cx="66.1" cy="267.0" r="1.2"/><circle cx="85.1" cy="240.8" r="1.2"/><circle cx="99.6" cy="317.3" r="1.2"/><circle cx="50.1" cy="232.1" r="1.2"/><circle cx="91.0" cy="253.5" r="1.2"/><circle cx="63.8" cy="255.6" r="1.2"/><circle cx="45.0" cy="236.8" r="1.2"/><circle cx="87.1" cy="266.4" r="1.2"/><circle cx="100.2" cy="258.7" r="1.2"/><circle cx="46.6" cy="241.4" r="1.2"/><circle cx="85.0" cy="247.0" r="1.2"/><circle cx="44.7" cy="232.3" r="1.2"/><circle cx="77.4" cy="251.1" r="1.2"/><circle cx="97.1" cy="265.7" r="1.2"/><circle cx="114.7" cy="259.9" r="1.2"/><circle cx="58.5" cy="262.4" r="1.2"/><circle cx="94.9" cy="314.1" r="1.2"/><circle cx="98.9" cy="260.6" r="1.2"/><circle cx="52.0" cy="243.4" r="1.2"/><circle cx="117.0" cy="259.0" r="1.2"/><circle cx="53.2" cy="247.4" r="1.2"/><circle cx="73.2" cy="239.4" r="1.2"/><circle cx="93.4" cy="313.0" r="1.2"/><circle cx="91.6" cy="264.0" r="1.2"/><circle cx="106.9" cy="252.5" r="1.2"/><circle cx="75.0" cy="236.8" r="1.2"/><circle cx="101.7" cy="264.5" r="1.2"/><circle cx="116.4" cy="261.6" r="1.2"/><circle cx="87.5" cy="241.5" r="1.2"/><circle cx="98.1" cy="316.3" r="1.2"/><circle cx="91.0" cy="249.7" r="1.2"/><circle cx="110.6" cy="266.5" r="1.2"/><circle cx="79.1" cy="263.2" r="1.2"/><circle cx="52.3" cy="248.9" r="1.2"/><circle cx="94.9" cy="318.0" r="1.2"/><circle cx="39.0" cy="240.8" r="1.2"/><circle cx="98.8" cy="250.7" r="1.2"/><circle cx="69.5" cy="248.3" r="1.2"/><circle cx="58.7" cy="231.1" r="1.2"/><circle cx="47.7" cy="229.1" r="1.2"/><circle cx="81.2" cy="245.1" r="1.2"/><circle cx="80.3" cy="259.3" r="1.2"/><circle cx="52.6" cy="229.4" r="1.2"/><circle cx="105.7" cy="306.8" r="1.2"/><circle cx="95.6" cy="258.5" r="1.2"/><circle cx="102.9" cy="258.5" r="1.2"/><circle cx="81.9" cy="268.8" r="1.2"/><circle cx="42.8" cy="243.9" r="1.2"/><circle cx="65.5" cy="252.9" r="1.2"/><circle cx="43.1" cy="246.3" r="1.2"/><circle cx="65.4" cy="262.9" r="1.2"/><circle cx="46.5" cy="230.7" r="1.2"/><circle cx="69.4" cy="242.0" r="1.2"/><circle cx="74.1" cy="240.9" r="1.2"/><circle cx="101.7" cy="322.5" r="1.2"/><circle cx="71.9" cy="244.7" r="1.2"/><circle cx="43.1" cy="232.4" r="1.2"/><circle cx="50.6" cy="238.0" r="1.2"/><circle cx="98.2" cy="268.0" r="1.2"/><circle cx="103.5" cy="320.1" r="1.2"/><circle cx="56.1" cy="230.6" r="1.2"/><circle cx="79.9" cy="265.1" r="1.2"/><circle cx="87.2" cy="269.2" r="1.2"/><circle cx="68.8" cy="236.8" r="1.2"/><circle cx="226.0" cy="200.0" r="1.2"/><circle cx="66.6" cy="231.3" r="1.2"/><circle cx="103.8" cy="264.4" r="1.2"/><circle cx="108.3" cy="268.0" r="1.2"/><circle cx="110.0" cy="268.7" r="1.2"/><circle cx="58.3" cy="260.2" r="1.2"/><circle cx="74.1" cy="264.1" r="1.2"/><circle cx="81.0" cy="261.8" r="1.2"/><circle cx="55.7" cy="243.5" r="1.2"/><circle cx="48.2" cy="256.5" r="1.2"/><circle cx="104.1" cy="256.2" r="1.2"/><circle cx="94.6" cy="264.5" r="1.2"/><circle cx="110.7" cy="251.2" r="1.2"/><circle cx="91.0" cy="261.8" r="1.2"/><circle cx="176.1" cy="27.6" r="1.2"/><circle cx="95.4" cy="253.5" r="1.2"/><circle cx="99.8" cy="302.4" r="1.2"/><circle cx="104.0" cy="268.1" r="1.2"/><circle cx="70.3" cy="237.5" r="1.2"/><circle cx="60.3" cy="232.4" r="1.2"/><circle cx="72.0" cy="254.0" r="1.2"/><circle cx="93.9" cy="309.9" r="1.2"/><circle cx="80.2" cy="252.3" r="1.2"/></g>
<g fill="#dabcec"><circle cx="296.0" cy="219.2" r="1.2"/><circle cx="327.7" cy="223.5" r="1.2"/><circle cx="320.0" cy="280.9" r="1.2"/><circle cx="299.6" cy="197.1" r="1.2"/><circle cx="229.1" cy="291.1" r="1.2"/><circle cx="311.3" cy="251.9" r="1.2"/><circle cx="236.6" cy="297.0" r="1.2"/><circle cx="264.7" cy="262.8" r="1.2"/><circle cx="297.1" cy="259.7" r="1.2"/><circle cx="333.0" cy="164.4" r="1.2"/><circle cx="276.6" cy="242.5" r="1.2"/><circle cx="297.9" cy="152.3" r="1.2"/><circle cx="271.8" cy="254.1" r="1.2"/><circle cx="294.7" cy="245.2" r="1.2"/><circle cx="254.2" cy="216.7" r="1.2"/><circle cx="310.0" cy="214.7" r="1.2"/><circle cx="320.8" cy="272.6" r="1.2"/><circle cx="218.0" cy="302.8" r="1.2"/><circle cx="326.8" cy="278.0" r="1.2"/><circle cx="329.5" cy="205.5" r="1.2"/><circle cx="315.8" cy="236.2" r="1.2"/><circle cx="282.1" cy="244.7" r="1.2"/><circle cx="325.7" cy="245.6" r="1.2"/><circle cx="301.9" cy="251.1" r="1.2"/><circle cx="328.9" cy="224.9" r="1.2"/><circle cx="321.0" cy="240.7" r="1.2"/><circle cx="283.3" cy="224.0" r="1.2"/><circle cx="298.7" cy="252.9" r="1.2"/><circle cx="275.4" cy="259.2" r="1.2"/><circle cx="304.4" cy="282.3" r="1.2"/><circle cx="233.6" cy="289.9" r="1.2"/><circle cx="310.8" cy="225.6" r="1.2"/><circle cx="335.6" cy="255.3" r="1.2"/><circle cx="281.9" cy="253.6" r="1.2"/><circle cx="258.8" cy="135.1" r="1.2"/><circle cx="273.2" cy="258.1" r="1.2"/><circle cx="250.1" cy="215.2" r="1.2"/><circle cx="262.1" cy="247.9" r="1.2"/><circle cx="275.9" cy="244.9" r="1.2"/><circle cx="288.3" cy="233.4" r="1.2"/><circle cx="319.1" cy="241.7" r="1.2"/><circle cx="319.3" cy="252.6" r="1.2"/><circle cx="331.3" cy="252.6" r="1.2"/><circle cx="326.1" cy="275.4" r="1.2"/><circle cx="226.8" cy="286.4" r="1.2"/><circle cx="307.7" cy="215.8" r="1.2"/><circle cx="304.2" cy="221.1" r="1.2"/><circle cx="334.3" cy="253.9" r="1.2"/><circle cx="317.9" cy="279.1" r="1.2"/><circle cx="294.7" cy="239.1" r="1.2"/><circle cx="252.0" cy="216.3" r="1.2"/><circle cx="327.7" cy="253.4" r="1.2"/><circle cx="309.1" cy="257.2" r="1.2"/><circle cx="320.7" cy="206.6" r="1.2"/><circle cx="331.4" cy="232.9" r="1.2"/><circle cx="309.7" cy="235.3" r="1.2"/><circle cx="290.0" cy="101.7" r="1.2"/><circle cx="310.2" cy="238.2" r="1.2"/><circle cx="316.8" cy="175.2" r="1.2"/><circle cx="332.5" cy="166.3" r="1.2"/><circle cx="229.4" cy="280.6" r="1.2"/><circle cx="235.0" cy="286.4" r="1.2"/><circle cx="279.8" cy="244.7" r="1.2"/><circle cx="236.6" cy="284.8" r="1.2"/><circle cx="316.8" cy="281.2" r="1.2"/><circle cx="265.3" cy="201.0" r="1.2"/><circle cx="318.3" cy="224.5" r="1.2"/><circle cx="324.3" cy="257.1" r="1.2"/><circle cx="269.7" cy="238.6" r="1.2"/><circle cx="287.6" cy="258.0" r="1.2"/><circle cx="312.8" cy="239.1" r="1.2"/><circle cx="321.1" cy="227.5" r="1.2"/><circle cx="297.2" cy="244.5" r="1.2"/><circle cx="307.4" cy="210.9" r="1.2"/><circle cx="323.4" cy="214.4" r="1.2"/><circle cx="325.1" cy="226.6" r="1.2"/><circle cx="319.9" cy="188.6" r="1.2"/><circle cx="290.4" cy="267.3" r="1.2"/><circle cx="288.8" cy="226.2" r="1.2"/><circle cx="271.6" cy="256.9" r="1.2"/><circle cx="293.8" cy="272.5" r="1.2"/><circle cx="289.6" cy="223.0" r="1.2"/><circle cx="251.3" cy="220.1" r="1.2"/><circle cx="253.7" cy="366.5" r="1.2"/><circle cx="266.5" cy="266.9" r="1.2"/><circle cx="310.1" cy="206.3" r="1.2"/><circle cx="264.0" cy="252.7" r="1.2"/><circle cx="285.9" cy="235.8" r="1.2"/><circle cx="271.8" cy="262.9" r="1.2"/><circle cx="234.2" cy="282.0" r="1.2"/><circle cx="291.2" cy="268.9" r="1.2"/><circle cx="334.7" cy="227.7" r="1.2"/><circle cx="299.9" cy="267.0" r="1.2"/><circle cx="253.9" cy="226.4" r="1.2"/><circle cx="254.9" cy="350.4" r="1.2"/><circle cx="297.9" cy="254.8" r="1.2"/><circle cx="287.2" cy="263.0" r="1.2"/><circle cx="269.9" cy="257.6" r="1.2"/><circle cx="327.6" cy="237.2" r="1.2"/><circle cx="294.0" cy="254.0" r="1.2"/><circle cx="339.9" cy="164.5" r="1.2"/><circle cx="304.6" cy="243.5" r="1.2"/><circle cx="333.6" cy="260.2" r="1.2"/><circle cx="302.5" cy="256.8" r="1.2"/><circle cx="306.3" cy="277.4" r="1.2"/><circle cx="312.5" cy="290.1" r="1.2"/><circle cx="310.3" cy="260.6" r="1.2"/><circle cx="323.4" cy="264.7" r="1.2"/><circle cx="284.5" cy="254.7" r="1.2"/><circle cx="316.4" cy="245.5" r="1.2"/><circle cx="293.8" cy="223.3" r="1.2"/><circle cx="326.1" cy="284.1" r="1.2"/><circle cx="281.9" cy="205.0" r="1.2"/><circle cx="312.3" cy="220.1" r="1.2"/><circle cx="225.4" cy="283.9" r="1.2"/><circle cx="300.5" cy="274.5" r="1.2"/><circle cx="296.3" cy="274.6" r="1.2"/><circle cx="255.5" cy="225.7" r="1.2"/><circle cx="332.9" cy="264.0" r="1.2"/><circle cx="254.5" cy="228.2" r="1.2"/><circle cx="309.7" cy="250.2" r="1.2"/><circle cx="314.7" cy="218.1" r="1.2"/><circle cx="278.2" cy="264.0" r="1.2"/><circle cx="327.9" cy="245.2" r="1.2"/><circle cx="281.7" cy="234.2" r="1.2"/><circle cx="307.3" cy="223.1" r="1.2"/><circle cx="313.1" cy="199.3" r="1.2"/><circle cx="291.0" cy="357.0" r="1.2"/><circle cx="262.0" cy="252.4" r="1.2"/><circle cx="304.4" cy="280.3" r="1.2"/><circle cx="338.1" cy="259.0" r="1.2"/><circle cx="300.9" cy="221.8" r="1.2"/><circle cx="268.9" cy="250.3" r="1.2"/><circle cx="227.5" cy="290.0" r="1.2"/><circle cx="329.7" cy="257.1" r="1.2"/><circle cx="293.2" cy="257.9" r="1.2"/><circle cx="185.0" cy="385.4" r="1.2"/><circle cx="321.9" cy="281.2" r="1.2"/><circle cx="310.1" cy="232.0" r="1.2"/><circle cx="322.5" cy="224.6" r="1.2"/><circle cx="294.2" cy="237.5" r="1.2"/><circle cx="255.6" cy="219.1" r="1.2"/><circle cx="330.0" cy="246.1" r="1.2"/><circle cx="318.2" cy="274.4" r="1.2"/><circle cx="307.2" cy="232.7" r="1.2"/><circle cx="333.6" cy="230.4" r="1.2"/><circle cx="284.1" cy="260.2" r="1.2"/><circle cx="253.0" cy="225.0" r="1.2"/><circle cx="239.2" cy="285.2" r="1.2"/><circle cx="321.9" cy="274.8" r="1.2"/><circle cx="329.9" cy="184.5" r="1.2"/><circle cx="251.1" cy="224.4" r="1.2"/><circle cx="290.7" cy="258.0" r="1.2"/><circle cx="291.6" cy="259.6" r="1.2"/><circle cx="283.6" cy="233.3" r="1.2"/><circle cx="319.5" cy="264.6" r="1.2"/><circle cx="228.4" cy="285.7" r="1.2"/><circle cx="297.6" cy="271.7" r="1.2"/><circle cx="308.7" cy="245.9" r="1.2"/><circle cx="306.7" cy="269.5" r="1.2"/><circle cx="286.4" cy="227.2" r="1.2"/><circle cx="288.4" cy="238.2" r="1.2"/><circle cx="267.8" cy="252.0" r="1.2"/><circle cx="298.4" cy="233.8" r="1.2"/><circle cx="309.1" cy="226.0" r="1.2"/><circle cx="308.2" cy="278.6" r="1.2"/><circle cx="338.9" cy="162.3" r="1.2"/><circle cx="339.2" cy="158.7" r="1.2"/><circle cx="314.5" cy="251.5" r="1.2"/><circle cx="247.6" cy="219.9" r="1.2"/><circle cx="283.5" cy="243.6" r="1.2"/><circle cx="273.4" cy="248.1" r="1.2"/><circle cx="338.7" cy="224.0" r="1.2"/><circle cx="302.4" cy="238.4" r="1.2"/><circle cx="290.9" cy="232.3" r="1.2"/><circle cx="331.4" cy="255.4" r="1.2"/><circle cx="305.6" cy="234.2" r="1.2"/><circle cx="321.1" cy="236.5" r="1.2"/><circle cx="322.7" cy="232.8" r="1.2"/><circle cx="319.2" cy="233.5" r="1.2"/><circle cx="263.4" cy="243.8" r="1.2"/><circle cx="246.0" cy="221.3" r="1.2"/><circle cx="303.2" cy="236.2" r="1.2"/><circle cx="285.6" cy="259.2" r="1.2"/><circle cx="267.4" cy="259.0" r="1.2"/><circle cx="294.0" cy="261.2" r="1.2"/><circle cx="317.3" cy="216.4" r="1.2"/><circle cx="302.7" cy="267.3" r="1.2"/><circle cx="296.1" cy="223.7" r="1.2"/><circle cx="239.9" cy="286.8" r="1.2"/><circle cx="262.0" cy="170.0" r="1.2"/><circle cx="338.7" cy="239.9" r="1.2"/><circle cx="307.2" cy="213.9" r="1.2"/><circle cx="300.7" cy="259.0" r="1.2"/><circle cx="291.2" cy="239.5" r="1.2"/><circle cx="303.0" cy="246.6" r="1.2"/><circle cx="296.0" cy="276.9" r="1.2"/><circle cx="303.5" cy="253.3" r="1.2"/><circle cx="313.1" cy="283.8" r="1.2"/><circle cx="292.6" cy="233.2" r="1.2"/><circle cx="337.9" cy="255.4" r="1.2"/><circle cx="321.1" cy="261.8" r="1.2"/><circle cx="332.4" cy="210.2" r="1.2"/><circle cx="318.8" cy="250.9" r="1.2"/><circle cx="320.0" cy="283.0" r="1.2"/><circle cx="325.1" cy="228.7" r="1.2"/><circle cx="288.9" cy="248.7" r="1.2"/><circle cx="299.6" cy="284.2" r="1.2"/><circle cx="285.7" cy="222.7" r="1.2"/><circle cx="328.0" cy="282.3" r="1.2"/><circle cx="225.4" cy="289.9" r="1.2"/><circle cx="303.4" cy="258.9" r="1.2"/><circle cx="268.9" cy="260.5" r="1.2"/><circle cx="293.3" cy="268.5" r="1.2"/><circle cx="273.3" cy="237.0" r="1.2"/><circle cx="232.7" cy="292.3" r="1.2"/><circle cx="302.9" cy="262.1" r="1.2"/><circle cx="297.3" cy="235.5" r="1.2"/><circle cx="251.0" cy="226.8" r="1.2"/><circle cx="324.6" cy="267.6" r="1.2"/><circle cx="285.4" cy="263.4" r="1.2"/><circle cx="301.6" cy="234.6" r="1.2"/><circle cx="336.6" cy="250.7" r="1.2"/><circle cx="313.2" cy="278.3" r="1.2"/><circle cx="314.6" cy="223.8" r="1.2"/><circle cx="273.6" cy="244.8" r="1.2"/><circle cx="290.1" cy="234.7" r="1.2"/><circle cx="246.9" cy="224.0" r="1.2"/><circle cx="271.4" cy="247.4" r="1.2"/><circle cx="294.7" cy="269.6" r="1.2"/><circle cx="267.5" cy="256.6" r="1.2"/><circle cx="335.8" cy="248.9" r="1.2"/><circle cx="300.7" cy="213.4" r="1.2"/><circle cx="313.9" cy="241.8" r="1.2"/><circle cx="301.6" cy="253.1" r="1.2"/><circle cx="287.3" cy="249.8" r="1.2"/><circle cx="333.2" cy="222.8" r="1.2"/><circle cx="300.9" cy="236.8" r="1.2"/><circle cx="323.3" cy="218.0" r="1.2"/><circle cx="321.4" cy="279.3" r="1.2"/><circle cx="278.5" cy="238.5" r="1.2"/><circle cx="312.1" cy="271.4" r="1.2"/><circle cx="260.4" cy="135.7" r="1.2"/><circle cx="291.3" cy="270.6" r="1.2"/><circle cx="314.8" cy="244.4" r="1.2"/><circle cx="331.1" cy="223.2" r="1.2"/><circle cx="232.5" cy="283.0" r="1.2"/><circle cx="316.1" cy="271.3" r="1.2"/><circle cx="334.2" cy="268.8" r="1.2"/><circle cx="326.7" cy="257.1" r="1.2"/><circle cx="281.1" cy="261.7" r="1.2"/><circle cx="328.2" cy="261.3" r="1.2"/><circle cx="319.3" cy="245.6" r="1.2"/><circle cx="312.0" cy="269.5" r="1.2"/><circle cx="298.8" cy="263.3" r="1.2"/><circle cx="286.6" cy="230.3" r="1.2"/><circle cx="338.5" cy="252.1" r="1.2"/><circle cx="338.4" cy="247.7" r="1.2"/><circle cx="316.1" cy="291.6" r="1.2"/><circle cx="295.7" cy="257.7" r="1.2"/><circle cx="317.3" cy="286.4" r="1.2"/><circle cx="308.0" cy="267.7" r="1.2"/><circle cx="310.3" cy="242.2" r="1.2"/><circle cx="311.5" cy="233.2" r="1.2"/><circle cx="278.2" cy="261.3" r="1.2"/><circle cx="322.8" cy="243.9" r="1.2"/><circle cx="332.8" cy="242.5" r="1.2"/><circle cx="313.5" cy="272.9" r="1.2"/><circle cx="323.2" cy="252.9" r="1.2"/><circle cx="305.4" cy="274.5" r="1.2"/><circle cx="304.7" cy="266.7" r="1.2"/><circle cx="315.0" cy="276.7" r="1.2"/><circle cx="286.7" cy="240.1" r="1.2"/><circle cx="292.7" cy="243.4" r="1.2"/><circle cx="295.8" cy="247.6" r="1.2"/><circle cx="268.0" cy="242.6" r="1.2"/><circle cx="321.1" cy="247.4" r="1.2"/><circle cx="308.5" cy="229.7" r="1.2"/><circle cx="277.9" cy="247.9" r="1.2"/><circle cx="328.4" cy="228.1" r="1.2"/><circle cx="305.9" cy="256.4" r="1.2"/><circle cx="311.6" cy="244.2" r="1.2"/><circle cx="323.7" cy="239.3" r="1.2"/><circle cx="277.4" cy="146.0" r="1.2"/><circle cx="329.5" cy="270.0" r="1.2"/><circle cx="233.7" cy="306.5" r="1.2"/><circle cx="313.2" cy="266.5" r="1.2"/><circle cx="316.4" cy="223.6" r="1.2"/><circle cx="248.0" cy="218.2" r="1.2"/><circle cx="271.2" cy="236.3" r="1.2"/><circle cx="323.1" cy="251.0" r="1.2"/><circle cx="281.9" cy="237.7" r="1.2"/><circle cx="306.9" cy="242.0" r="1.2"/><circle cx="265.1" cy="249.2" r="1.2"/><circle cx="315.1" cy="240.3" r="1.2"/><circle cx="319.5" cy="270.9" r="1.2"/><circle cx="335.9" cy="242.4" r="1.2"/><circle cx="290.8" cy="249.9" r="1.2"/><circle cx="307.0" cy="239.0" r="1.2"/><circle cx="276.8" cy="266.6" r="1.2"/><circle cx="277.7" cy="240.6" r="1.2"/><circle cx="284.8" cy="247.9" r="1.2"/><circle cx="249.0" cy="224.6" r="1.2"/><circle cx="306.5" cy="282.8" r="1.2"/><circle cx="264.7" cy="240.0" r="1.2"/><circle cx="312.9" cy="226.8" r="1.2"/><circle cx="310.7" cy="222.5" r="1.2"/><circle cx="297.1" cy="232.4" r="1.2"/><circle cx="288.9" cy="264.3" r="1.2"/><circle cx="269.6" cy="188.9" r="1.2"/><circle cx="286.7" cy="264.6" r="1.2"/><circle cx="268.2" cy="264.1" r="1.2"/><circle cx="293.1" cy="231.0" r="1.2"/><circle cx="273.9" cy="353.6" r="1.2"/><circle cx="320.4" cy="258.0" r="1.2"/><circle cx="338.3" cy="241.9" r="1.2"/><circle cx="327.3" cy="234.9" r="1.2"/><circle cx="326.0" cy="243.1" r="1.2"/><circle cx="320.1" cy="268.5" r="1.2"/><circle cx="289.0" cy="228.0" r="1.2"/><circle cx="293.1" cy="235.5" r="1.2"/><circle cx="278.9" cy="255.9" r="1.2"/><circle cx="331.6" cy="268.0" r="1.2"/><circle cx="229.3" cy="293.3" r="1.2"/><circle cx="299.2" cy="260.7" r="1.2"/><circle cx="269.6" cy="253.0" r="1.2"/><circle cx="296.3" cy="264.1" r="1.2"/><circle cx="296.8" cy="266.5" r="1.2"/><circle cx="326.0" cy="248.4" r="1.2"/><circle cx="314.0" cy="270.5" r="1.2"/><circle cx="316.3" cy="228.6" r="1.2"/><circle cx="287.8" cy="261.1" r="1.2"/><circle cx="329.0" cy="235.6" r="1.2"/><circle cx="294.4" cy="265.0" r="1.2"/><circle cx="311.1" cy="284.5" r="1.2"/><circle cx="314.8" cy="248.8" r="1.2"/><circle cx="325.7" cy="232.1" r="1.2"/><circle cx="320.4" cy="276.5" r="1.2"/><circle cx="323.4" cy="255.0" r="1.2"/><circle cx="306.1" cy="272.1" r="1.2"/><circle cx="305.5" cy="252.4" r="1.2"/><circle cx="285.1" cy="225.4" r="1.2"/><circle cx="319.0" cy="237.1" r="1.2"/><circle cx="328.6" cy="249.8" r="1.2"/><circle cx="332.6" cy="224.9" r="1.2"/><circle cx="267.0" cy="239.8" r="1.2"/><circle cx="334.5" cy="257.7" r="1.2"/><circle cx="252.8" cy="230.7" r="1.2"/><circle cx="319.3" cy="229.6" r="1.2"/><circle cx="307.4" cy="254.9" r="1.2"/><circle cx="279.5" cy="242.6" r="1.2"/><circle cx="265.9" cy="253.4" r="1.2"/><circle cx="300.3" cy="227.6" r="1.2"/><circle cx="306.4" cy="265.7" r="1.2"/><circle cx="298.2" cy="277.3" r="1.2"/><circle cx="292.9" cy="228.5" r="1.2"/><circle cx="334.4" cy="239.9" r="1.2"/><circle cx="290.3" cy="220.0" r="1.2"/><circle cx="306.6" cy="236.8" r="1.2"/><circle cx="296.9" cy="229.7" r="1.2"/><circle cx="307.3" cy="252.1" r="1.2"/><circle cx="318.8" cy="227.7" r="1.2"/><circle cx="275.1" cy="251.0" r="1.2"/><circle cx="240.0" cy="190.0" r="1.2"/><circle cx="322.4" cy="235.1" r="1.2"/><circle cx="291.7" cy="255.3" r="1.2"/><circle cx="310.7" cy="255.0" r="1.2"/><circle cx="335.0" cy="234.4" r="1.2"/><circle cx="325.3" cy="262.1" r="1.2"/><circle cx="321.4" cy="231.7" r="1.2"/><circle cx="308.7" cy="221.1" r="1.2"/><circle cx="335.9" cy="167.6" r="1.2"/><circle cx="256.2" cy="222.6" r="1.2"/><circle cx="333.8" cy="250.9" r="1.2"/><circle cx="339.1" cy="166.5" r="1.2"/><circle cx="306.1" cy="250.7" r="1.2"/><circle cx="281.6" cy="248.6" r="1.2"/><circle cx="279.1" cy="221.2" r="1.2"/><circle cx="327.3" cy="221.0" r="1.2"/><circle cx="271.9" cy="239.2" r="1.2"/><circle cx="308.7" cy="173.7" r="1.2"/><circle cx="269.5" cy="267.9" r="1.2"/><circle cx="278.4" cy="250.5" r="1.2"/><circle cx="296.4" cy="249.5" r="1.2"/><circle cx="275.0" cy="241.0" r="1.2"/><circle cx="305.1" cy="216.3" r="1.2"/><circle cx="298.3" cy="222.5" r="1.2"/><circle cx="304.1" cy="273.0" r="1.2"/><circle cx="219.6" cy="296.0" r="1.2"/><circle cx="296.3" cy="238.3" r="1.2"/><circle cx="316.0" cy="262.4" r="1.2"/><circle cx="331.1" cy="236.0" r="1.2"/><circle cx="299.2" cy="247.7" r="1.2"/><circle cx="311.7" cy="258.2" r="1.2"/><circle cx="277.5" cy="246.0" r="1.2"/><circle cx="340.4" cy="240.2" r="1.2"/><circle cx="265.3" cy="257.5" r="1.2"/><circle cx="333.9" cy="168.4" r="1.2"/><circle cx="309.1" cy="216.9" r="1.2"/><circle cx="319.8" cy="225.8" r="1.2"/><circle cx="295.8" cy="231.2" r="1.2"/><circle cx="315.5" cy="279.3" r="1.2"/><circle cx="248.7" cy="227.2" r="1.2"/><circle cx="337.5" cy="235.2" r="1.2"/><circle cx="339.5" cy="226.5" r="1.2"/><circle cx="300.2" cy="280.3" r="1.2"/><circle cx="225.9" cy="294.3" r="1.2"/><circle cx="283.7" cy="237.6" r="1.2"/><circle cx="262.9" cy="255.1" r="1.2"/><circle cx="303.4" cy="248.9" r="1.2"/><circle cx="323.5" cy="279.9" r="1.2"/><circle cx="323.4" cy="260.8" r="1.2"/><circle cx="302.7" cy="198.3" r="1.2"/><circle cx="325.0" cy="273.4" r="1.2"/><circle cx="328.2" cy="240.8" r="1.2"/><circle cx="306.6" cy="227.1" r="1.2"/><circle cx="246.0" cy="217.3" r="1.2"/><circle cx="301.5" cy="216.3" r="1.2"/><circle cx="320.0" cy="286.9" r="1.2"/><circle cx="328.2" cy="268.7" r="1.2"/><circle cx="334.1" cy="165.8" r="1.2"/><circle cx="312.6" cy="255.4" r="1.2"/><circle cx="312.3" cy="183.8" r="1.2"/><circle cx="299.3" cy="250.2" r="1.2"/><circle cx="310.4" cy="266.4" r="1.2"/><circle cx="274.0" cy="254.5" r="1.2"/><circle cx="301.7" cy="277.1" r="1.2"/><circle cx="326.4" cy="258.8" r="1.2"/><circle cx="273.8" cy="260.5" r="1.2"/><circle cx="317.4" cy="219.8" r="1.2"/><circle cx="299.0" cy="270.3" r="1.2"/><circle cx="267.3" cy="249.3" r="1.2"/><circle cx="169.2" cy="367.2" r="1.2"/><circle cx="298.9" cy="211.5" r="1.2"/><circle cx="317.3" cy="260.1" r="1.2"/><circle cx="333.2" cy="267.1" r="1.2"/><circle cx="311.4" cy="230.8" r="1.2"/><circle cx="317.4" cy="231.1" r="1.2"/><circle cx="308.1" cy="264.2" r="1.2"/><circle cx="330.5" cy="228.3" r="1.2"/><circle cx="268.1" cy="254.8" r="1.2"/><circle cx="298.0" cy="218.6" r="1.2"/><circle cx="312.9" cy="235.2" r="1.2"/><circle cx="287.3" cy="247.2" r="1.2"/><circle cx="322.8" cy="273.3" r="1.2"/><circle cx="271.8" cy="245.2" r="1.2"/><circle cx="280.3" cy="160.4" r="1.2"/><circle cx="281.1" cy="256.4" r="1.2"/><circle cx="316.4" cy="189.5" r="1.2"/><circle cx="335.8" cy="224.4" r="1.2"/><circle cx="301.5" cy="249.2" r="1.2"/><circle cx="316.7" cy="234.6" r="1.2"/><circle cx="279.9" cy="195.4" r="1.2"/><circle cx="178.6" cy="389.5" r="1.2"/><circle cx="327.3" cy="225.5" r="1.2"/><circle cx="304.4" cy="261.2" r="1.2"/><circle cx="276.6" cy="257.2" r="1.2"/><circle cx="252.0" cy="222.1" r="1.2"/><circle cx="223.2" cy="287.9" r="1.2"/><circle cx="308.6" cy="259.4" r="1.2"/><circle cx="307.0" cy="261.2" r="1.2"/><circle cx="325.3" cy="236.6" r="1.2"/><circle cx="330.9" cy="261.5" r="1.2"/><circle cx="286.0" cy="232.0" r="1.2"/><circle cx="322.1" cy="259.2" r="1.2"/><circle cx="327.6" cy="265.8" r="1.2"/><circle cx="295.7" cy="236.0" r="1.2"/><circle cx="316.7" cy="196.3" r="1.2"/><circle cx="315.3" cy="232.7" r="1.2"/><circle cx="285.2" cy="233.8" r="1.2"/><circle cx="238.2" cy="283.5" r="1.2"/><circle cx="304.8" cy="264.5" r="1.2"/><circle cx="267.1" cy="245.8" r="1.2"/><circle cx="324.3" cy="235.0" r="1.2"/><circle cx="336.5" cy="160.0" r="1.2"/><circle cx="315.6" cy="258.5" r="1.2"/><circle cx="283.0" cy="221.8" r="1.2"/><circle cx="318.4" cy="282.3" r="1.2"/><circle cx="287.7" cy="252.6" r="1.2"/><circle cx="328.2" cy="276.3" r="1.2"/><circle cx="338.4" cy="243.8" r="1.2"/><circle cx="323.6" cy="282.8" r="1.2"/><circle cx="288.3" cy="230.2" r="1.2"/><circle cx="323.6" cy="245.9" r="1.2"/><circle cx="306.5" cy="248.5" r="1.2"/><circle cx="290.8" cy="247.6" r="1.2"/><circle cx="318.4" cy="267.5" r="1.2"/><circle cx="304.7" cy="213.1" r="1.2"/><circle cx="293.9" cy="218.5" r="1.2"/><circle cx="318.7" cy="222.8" r="1.2"/><circle cx="301.6" cy="265.3" r="1.2"/><circle cx="313.0" cy="261.7" r="1.2"/><circle cx="234.3" cy="288.4" r="1.2"/><circle cx="279.9" cy="265.5" r="1.2"/><circle cx="222.4" cy="283.4" r="1.2"/><circle cx="299.3" cy="241.2" r="1.2"/><circle cx="311.0" cy="280.2" r="1.2"/><circle cx="331.3" cy="226.4" r="1.2"/><circle cx="286.5" cy="243.0" r="1.2"/><circle cx="307.4" cy="275.8" r="1.2"/><circle cx="258.0" cy="196.0" r="1.2"/><circle cx="271.2" cy="259.3" r="1.2"/><circle cx="322.0" cy="221.7" r="1.2"/><circle cx="337.3" cy="162.6" r="1.2"/><circle cx="312.8" cy="281.1" r="1.2"/><circle cx="337.3" cy="201.2" r="1.2"/><circle cx="290.6" cy="245.0" r="1.2"/><circle cx="319.2" cy="285.0" r="1.2"/><circle cx="330.2" cy="230.6" r="1.2"/><circle cx="230.9" cy="283.7" r="1.2"/><circle cx="264.1" cy="260.2" r="1.2"/><circle cx="336.9" cy="232.7" r="1.2"/><circle cx="327.9" cy="231.9" r="1.2"/><circle cx="227.2" cy="288.1" r="1.2"/><circle cx="288.2" cy="241.7" r="1.2"/><circle cx="258.1" cy="373.2" r="1.2"/><circle cx="279.4" cy="259.1" r="1.2"/><circle cx="285.8" cy="252.7" r="1.2"/><circle cx="296.8" cy="269.0" r="1.2"/><circle cx="318.9" cy="277.3" r="1.2"/><circle cx="288.0" cy="254.7" r="1.2"/><circle cx="300.1" cy="192.7" r="1.2"/><circle cx="300.0" cy="218.2" r="1.2"/><circle cx="281.8" cy="228.2" r="1.2"/><circle cx="312.0" cy="211.8" r="1.2"/><circle cx="333.8" cy="247.2" r="1.2"/><circle cx="253.5" cy="220.9" r="1.2"/><circle cx="270.4" cy="241.1" r="1.2"/><circle cx="292.8" cy="225.9" r="1.2"/><circle cx="300.7" cy="230.6" r="1.2"/><circle cx="283.0" cy="225.8" r="1.2"/></g>
<g fill="#fcefa4"><circle cx="340.6" cy="72.5" r="1.2"/><circle cx="295.2" cy="78.0" r="1.2"/><circle cx="323.0" cy="110.7" r="1.2"/><circle cx="323.7" cy="87.1" r="1.2"/><circle cx="311.8" cy="81.2" r="1.2"/><circle cx="316.0" cy="103.7" r="1.2"/><circle cx="332.6" cy="67.4" r="1.2"/><circle cx="321.7" cy="95.7" r="1.2"/><circle cx="343.8" cy="78.6" r="1.2"/><circle cx="298.5" cy="74.5" r="1.2"/><circle cx="336.4" cy="79.9" r="1.2"/><circle cx="292.8" cy="63.4" r="1.2"/><circle cx="313.8" cy="102.4" r="1.2"/><circle cx="301.0" cy="98.3" r="1.2"/><circle cx="344.1" cy="67.8" r="1.2"/><circle cx="329.7" cy="107.2" r="1.2"/><circle cx="317.6" cy="57.9" r="1.2"/><circle cx="323.5" cy="78.6" r="1.2"/><circle cx="331.8" cy="58.5" r="1.2"/><circle cx="328.0" cy="108.8" r="1.2"/><circle cx="304.7" cy="59.3" r="1.2"/><circle cx="322.9" cy="113.8" r="1.2"/><circle cx="316.8" cy="78.9" r="1.2"/><circle cx="339.8" cy="77.1" r="1.2"/><circle cx="326.1" cy="74.5" r="1.2"/><circle cx="324.9" cy="94.7" r="1.2"/><circle cx="320.6" cy="108.5" r="1.2"/><circle cx="338.8" cy="61.8" r="1.2"/><circle cx="320.0" cy="59.1" r="1.2"/><circle cx="315.3" cy="66.9" r="1.2"/><circle cx="328.0" cy="85.8" r="1.2"/><circle cx="319.5" cy="96.3" r="1.2"/><circle cx="315.1" cy="58.7" r="1.2"/><circle cx="330.4" cy="82.2" r="1.2"/><circle cx="335.6" cy="85.7" r="1.2"/><circle cx="301.8" cy="106.6" r="1.2"/><circle cx="302.7" cy="62.1" r="1.2"/><circle cx="333.2" cy="72.5" r="1.2"/><circle cx="299.1" cy="56.7" r="1.2"/><circle cx="329.2" cy="102.8" r="1.2"/><circle cx="312.9" cy="83.2" r="1.2"/><circle cx="346.3" cy="64.7" r="1.2"/><circle cx="328.9" cy="81.2" r="1.2"/><circle cx="318.3" cy="115.5" r="1.2"/><circle cx="326.0" cy="96.3" r="1.2"/><circle cx="297.8" cy="84.8" r="1.2"/><circle cx="313.9" cy="80.7" r="1.2"/><circle cx="332.8" cy="78.0" r="1.2"/><circle cx="319.2" cy="68.9" r="1.2"/><circle cx="310.5" cy="101.9" r="1.2"/><circle cx="295.9" cy="68.1" r="1.2"/><circle cx="339.3" cy="68.0" r="1.2"/><circle cx="328.3" cy="75.7" r="1.2"/><circle cx="301.8" cy="75.4" r="1.2"/><circle cx="306.7" cy="102.1" r="1.2"/><circle cx="311.8" cy="113.5" r="1.2"/><circle cx="328.0" cy="54.8" r="1.2"/><circle cx="300.3" cy="78.1" r="1.2"/><circle cx="314.3" cy="111.0" r="1.2"/><circle cx="322.2" cy="162.0" r="1.2"/><circle cx="314.3" cy="113.3" r="1.2"/><circle cx="341.6" cy="76.0" r="1.2"/><circle cx="326.7" cy="58.9" r="1.2"/><circle cx="311.1" cy="75.2" r="1.2"/><circle cx="326.3" cy="93.3" r="1.2"/><circle cx="291.8" cy="75.5" r="1.2"/><circle cx="343.8" cy="76.5" r="1.2"/><circle cx="326.0" cy="120.8" r="1.2"/><circle cx="318.9" cy="98.4" r="1.2"/><circle cx="341.1" cy="66.7" r="1.2"/><circle cx="326.9" cy="67.0" r="1.2"/><circle cx="301.2" cy="101.8" r="1.2"/><circle cx="312.0" cy="76.9" r="1.2"/><circle cx="300.0" cy="59.1" r="1.2"/><circle cx="302.9" cy="80.3" r="1.2"/><circle cx="314.2" cy="92.2" r="1.2"/><circle cx="299.7" cy="90.4" r="1.2"/><circle cx="322.7" cy="66.8" r="1.2"/><circle cx="316.0" cy="76.7" r="1.2"/><circle cx="303.6" cy="67.9" r="1.2"/><circle cx="304.7" cy="56.6" r="1.2"/><circle cx="325.4" cy="90.5" r="1.2"/><circle cx="302.2" cy="92.7" r="1.2"/><circle cx="336.0" cy="66.9" r="1.2"/><circle cx="334.5" cy="70.6" r="1.2"/><circle cx="330.5" cy="75.1" r="1.2"/><circle cx="313.4" cy="78.2" r="1.2"/><circle cx="294.7" cy="59.9" r="1.2"/><circle cx="344.6" cy="61.5" r="1.2"/><circle cx="302.6" cy="58.4" r="1.2"/><circle cx="326.4" cy="111.9" r="1.2"/><circle cx="311.6" cy="88.2" r="1.2"/><circle cx="297.7" cy="69.8" r="1.2"/><circle cx="334.3" cy="91.4" r="1.2"/><circle cx="312.1" cy="91.5" r="1.2"/><circle cx="303.2" cy="96.7" r="1.2"/><circle cx="331.9" cy="91.1" r="1.2"/><circle cx="322.7" cy="104.7" r="1.2"/><circle cx="303.8" cy="95.0" r="1.2"/><circle cx="331.7" cy="111.1" r="1.2"/><circle cx="317.4" cy="85.7" r="1.2"/><circle cx="312.3" cy="72.0" r="1.2"/><circle cx="326.4" cy="81.1" r="1.2"/><circle cx="307.7" cy="77.4" r="1.2"/><circle cx="322.2" cy="71.0" r="1.2"/><circle cx="310.1" cy="61.0" r="1.2"/><circle cx="317.0" cy="56.1" r="1.2"/><circle cx="298.1" cy="62.6" r="1.2"/><circle cx="310.8" cy="111.1" r="1.2"/><circle cx="317.2" cy="67.1" r="1.2"/><circle cx="330.9" cy="97.3" r="1.2"/><circle cx="324.7" cy="82.5" r="1.2"/><circle cx="303.6" cy="90.7" r="1.2"/><circle cx="328.3" cy="98.6" r="1.2"/><circle cx="321.8" cy="84.7" r="1.2"/><circle cx="308.4" cy="105.6" r="1.2"/><circle cx="308.7" cy="98.5" r="1.2"/><circle cx="337.1" cy="82.4" r="1.2"/><circle cx="310.2" cy="76.8" r="1.2"/><circle cx="320.0" cy="87.9" r="1.2"/><circle cx="337.6" cy="66.3" r="1.2"/><circle cx="320.1" cy="80.8" r="1.2"/><circle cx="304.0" cy="83.7" r="1.2"/><circle cx="326.4" cy="53.8" r="1.2"/><circle cx="304.5" cy="111.4" r="1.2"/><circle cx="315.3" cy="98.5" r="1.2"/><circle cx="320.6" cy="104.1" r="1.2"/><circle cx="326.2" cy="115.0" r="1.2"/><circle cx="314.4" cy="96.9" r="1.2"/><circle cx="308.9" cy="73.2" r="1.2"/><circle cx="326.0" cy="88.9" r="1.2"/><circle cx="340.2" cy="79.2" r="1.2"/><circle cx="308.6" cy="101.3" r="1.2"/><circle cx="302.3" cy="103.4" r="1.2"/><circle cx="339.8" cy="82.1" r="1.2"/><circle cx="298.8" cy="87.9" r="1.2"/><circle cx="340.0" cy="65.0" r="1.2"/><circle cx="305.3" cy="114.2" r="1.2"/><circle cx="324.7" cy="65.0" r="1.2"/><circle cx="321.6" cy="89.0" r="1.2"/><circle cx="292.8" cy="65.5" r="1.2"/><circle cx="299.8" cy="62.1" r="1.2"/><circle cx="290.2" cy="70.8" r="1.2"/><circle cx="317.4" cy="110.8" r="1.2"/><circle cx="298.4" cy="72.7" r="1.2"/><circle cx="306.4" cy="69.8" r="1.2"/><circle cx="311.4" cy="108.9" r="1.2"/><circle cx="329.6" cy="113.2" r="1.2"/><circle cx="290.7" cy="67.9" r="1.2"/><circle cx="305.1" cy="88.2" r="1.2"/><circle cx="302.8" cy="82.4" r="1.2"/><circle cx="336.2" cy="51.4" r="1.2"/><circle cx="320.3" cy="67.6" r="1.2"/><circle cx="311.1" cy="96.6" r="1.2"/><circle cx="313.7" cy="75.4" r="1.2"/><circle cx="291.0" cy="73.5" r="1.2"/><circle cx="306.2" cy="106.1" r="1.2"/><circle cx="311.1" cy="70.5" r="1.2"/><circle cx="315.4" cy="83.0" r="1.2"/><circle cx="327.3" cy="84.1" r="1.2"/><circle cx="329.5" cy="104.6" r="1.2"/><circle cx="326.3" cy="110.2" r="1.2"/><circle cx="310.4" cy="83.2" r="1.2"/><circle cx="323.0" cy="98.1" r="1.2"/><circle cx="325.5" cy="98.5" r="1.2"/><circle cx="337.5" cy="85.6" r="1.2"/><circle cx="335.2" cy="59.0" r="1.2"/><circle cx="346.2" cy="70.5" r="1.2"/><circle cx="336.7" cy="64.8" r="1.2"/><circle cx="307.0" cy="84.6" r="1.2"/><circle cx="334.6" cy="77.4" r="1.2"/><circle cx="310.3" cy="114.8" r="1.2"/><circle cx="304.9" cy="72.8" r="1.2"/><circle cx="294.2" cy="70.6" r="1.2"/><circle cx="301.3" cy="70.1" r="1.2"/><circle cx="324.1" cy="59.5" r="1.2"/><circle cx="331.1" cy="78.1" r="1.2"/><circle cx="307.2" cy="62.0" r="1.2"/><circle cx="323.1" cy="107.3" r="1.2"/><circle cx="345.1" cy="74.9" r="1.2"/><circle cx="319.6" cy="84.8" r="1.2"/><circle cx="334.9" cy="72.5" r="1.2"/><circle cx="332.3" cy="55.0" r="1.2"/><circle cx="312.9" cy="109.9" r="1.2"/><circle cx="297.6" cy="86.7" r="1.2"/><circle cx="296.2" cy="88.8" r="1.2"/><circle cx="341.2" cy="61.5" r="1.2"/><circle cx="306.3" cy="78.7" r="1.2"/><circle cx="307.5" cy="103.9" r="1.2"/><circle cx="319.2" cy="110.0" r="1.2"/><circle cx="329.8" cy="58.5" r="1.2"/><circle cx="306.8" cy="94.6" r="1.2"/><circle cx="327.1" cy="77.7" r="1.2"/><circle cx="320.7" cy="63.5" r="1.2"/><circle cx="322.6" cy="62.8" r="1.2"/><circle cx="332.5" cy="70.7" r="1.2"/><circle cx="295.1" cy="74.9" r="1.2"/><circle cx="309.7" cy="78.6" r="1.2"/><circle cx="303.6" cy="65.5" r="1.2"/><circle cx="317.1" cy="92.4" r="1.2"/><circle cx="328.0" cy="100.7" r="1.2"/><circle cx="290.9" cy="64.5" r="1.2"/><circle cx="318.9" cy="55.8" r="1.2"/><circle cx="324.4" cy="84.9" r="1.2"/><circle cx="313.1" cy="86.0" r="1.2"/><circle cx="309.3" cy="65.1" r="1.2"/><circle cx="322.7" cy="93.8" r="1.2"/><circle cx="297.0" cy="58.9" r="1.2"/><circle cx="292.1" cy="72.2" r="1.2"/><circle cx="344.6" cy="71.6" r="1.2"/><circle cx="319.2" cy="61.1" r="1.2"/><circle cx="294.5" cy="79.9" r="1.2"/><circle cx="329.4" cy="115.5" r="1.2"/><circle cx="312.6" cy="98.2" r="1.2"/><circle cx="308.2" cy="71.2" r="1.2"/><circle cx="316.2" cy="94.5" r="1.2"/><circle cx="322.8" cy="82.8" r="1.2"/><circle cx="301.1" cy="72.5" r="1.2"/><circle cx="326.0" cy="100.5" r="1.2"/><circle cx="296.7" cy="73.9" r="1.2"/><circle cx="300.4" cy="95.0" r="1.2"/><circle cx="313.0" cy="65.0" r="1.2"/><circle cx="315.0" cy="62.8" r="1.2"/><circle cx="332.8" cy="102.7" r="1.2"/><circle cx="317.7" cy="74.1" r="1.2"/><circle cx="315.4" cy="64.7" r="1.2"/><circle cx="337.1" cy="71.6" r="1.2"/><circle cx="339.7" cy="74.4" r="1.2"/><circle cx="323.0" cy="80.3" r="1.2"/><circle cx="332.7" cy="62.4" r="1.2"/><circle cx="308.6" cy="86.1" r="1.2"/><circle cx="300.2" cy="85.0" r="1.2"/><circle cx="305.7" cy="99.2" r="1.2"/><circle cx="317.0" cy="100.7" r="1.2"/><circle cx="304.3" cy="74.9" r="1.2"/><circle cx="330.1" cy="85.3" r="1.2"/><circle cx="316.7" cy="60.8" r="1.2"/><circle cx="301.3" cy="56.7" r="1.2"/><circle cx="323.8" cy="73.9" r="1.2"/><circle cx="312.5" cy="60.9" r="1.2"/><circle cx="333.2" cy="97.7" r="1.2"/><circle cx="307.6" cy="58.7" r="1.2"/><circle cx="333.9" cy="105.8" r="1.2"/><circle cx="343.0" cy="73.4" r="1.2"/><circle cx="323.6" cy="102.9" r="1.2"/><circle cx="340.3" cy="58.4" r="1.2"/><circle cx="323.2" cy="75.9" r="1.2"/><circle cx="304.6" cy="62.3" r="1.2"/><circle cx="295.0" cy="64.5" r="1.2"/><circle cx="329.5" cy="70.0" r="1.2"/><circle cx="310.8" cy="58.4" r="1.2"/><circle cx="325.6" cy="69.3" r="1.2"/><circle cx="319.7" cy="76.0" r="1.2"/><circle cx="334.4" cy="99.7" r="1.2"/><circle cx="326.1" cy="62.0" r="1.2"/><circle cx="307.0" cy="114.1" r="1.2"/><circle cx="329.4" cy="88.2" r="1.2"/><circle cx="330.6" cy="55.7" r="1.2"/><circle cx="298.9" cy="66.7" r="1.2"/><circle cx="320.8" cy="99.6" r="1.2"/><circle cx="337.8" cy="76.8" r="1.2"/><circle cx="320.5" cy="112.3" r="1.2"/><circle cx="304.1" cy="107.2" r="1.2"/><circle cx="310.5" cy="67.2" r="1.2"/><circle cx="296.7" cy="60.8" r="1.2"/><circle cx="318.0" cy="104.4" r="1.2"/><circle cx="333.0" cy="60.2" r="1.2"/><circle cx="324.0" cy="115.1" r="1.2"/><circle cx="299.3" cy="81.4" r="1.2"/><circle cx="314.0" cy="90.4" r="1.2"/><circle cx="325.1" cy="57.1" r="1.2"/><circle cx="310.2" cy="112.8" r="1.2"/><circle cx="317.5" cy="72.0" r="1.2"/><circle cx="333.9" cy="89.1" r="1.2"/><circle cx="306.7" cy="97.8" r="1.2"/><circle cx="323.2" cy="100.1" r="1.2"/><circle cx="309.2" cy="68.9" r="1.2"/><circle cx="316.7" cy="107.3" r="1.2"/><circle cx="306.3" cy="65.8" r="1.2"/><circle cx="331.3" cy="64.0" r="1.2"/><circle cx="327.7" cy="62.6" r="1.2"/><circle cx="292.4" cy="67.1" r="1.2"/><circle cx="329.1" cy="94.2" r="1.2"/><circle cx="322.6" cy="91.5" r="1.2"/><circle cx="310.4" cy="63.7" r="1.2"/><circle cx="334.2" cy="84.4" r="1.2"/><circle cx="313.5" cy="69.0" r="1.2"/><circle cx="309.9" cy="89.6" r="1.2"/><circle cx="302.9" cy="54.8" r="1.2"/><circle cx="319.7" cy="73.4" r="1.2"/><circle cx="310.8" cy="56.5" r="1.2"/><circle cx="324.9" cy="105.4" r="1.2"/><circle cx="308.8" cy="93.0" r="1.2"/><circle cx="310.8" cy="86.3" r="1.2"/><circle cx="338.3" cy="69.7" r="1.2"/><circle cx="293.7" cy="76.4" r="1.2"/><circle cx="320.6" cy="93.6" r="1.2"/><circle cx="296.8" cy="65.8" r="1.2"/><circle cx="319.0" cy="102.0" r="1.2"/><circle cx="307.1" cy="90.9" r="1.2"/><circle cx="303.9" cy="109.8" r="1.2"/><circle cx="338.3" cy="58.8" r="1.2"/><circle cx="327.0" cy="64.6" r="1.2"/><circle cx="310.0" cy="94.9" r="1.2"/><circle cx="344.1" cy="65.5" r="1.2"/><circle cx="328.6" cy="71.6" r="1.2"/><circle cx="317.6" cy="89.1" r="1.2"/><circle cx="308.4" cy="96.0" r="1.2"/><circle cx="309.1" cy="81.5" r="1.2"/></g>
<g fill="#6c2cac"><circle cx="327.3" cy="180.0" r="1.2"/><circle cx="322.4" cy="188.0" r="1.2"/><circle cx="313.9" cy="179.7" r="1.2"/><circle cx="315.0" cy="216.4" r="1.2"/><circle cx="324.3" cy="190.3" r="1.2"/><circle cx="327.0" cy="187.8" r="1.2"/><circle cx="324.0" cy="176.5" r="1.2"/><circle cx="301.2" cy="190.5" r="1.2"/><circle cx="313.9" cy="220.6" r="1.2"/><circle cx="303.5" cy="218.0" r="1.2"/><circle cx="328.0" cy="199.4" r="1.2"/><circle cx="326.4" cy="182.1" r="1.2"/><circle cx="338.1" cy="186.9" r="1.2"/><circle cx="331.5" cy="186.6" r="1.2"/><circle cx="339.7" cy="197.4" r="1.2"/><circle cx="335.7" cy="200.5" r="1.2"/><circle cx="340.0" cy="191.1" r="1.2"/><circle cx="301.0" cy="169.9" r="1.2"/><circle cx="320.3" cy="184.6" r="1.2"/><circle cx="339.6" cy="205.9" r="1.2"/><circle cx="323.8" cy="203.4" r="1.2"/><circle cx="326.7" cy="208.5" r="1.2"/><circle cx="329.7" cy="192.9" r="1.2"/><circle cx="245.4" cy="180.6" r="1.2"/><circle cx="336.9" cy="196.7" r="1.2"/><circle cx="264.7" cy="165.7" r="1.2"/><circle cx="306.3" cy="195.6" r="1.2"/><circle cx="322.4" cy="208.3" r="1.2"/><circle cx="329.4" cy="198.5" r="1.2"/><circle cx="294.7" cy="213.6" r="1.2"/><circle cx="332.9" cy="191.5" r="1.2"/><circle cx="309.7" cy="178.3" r="1.2"/><circle cx="321.4" cy="202.9" r="1.2"/><circle cx="329.6" cy="191.3" r="1.2"/><circle cx="326.7" cy="201.6" r="1.2"/><circle cx="319.8" cy="175.8" r="1.2"/><circle cx="322.3" cy="177.8" r="1.2"/><circle cx="325.2" cy="206.6" r="1.2"/><circle cx="326.7" cy="190.5" r="1.2"/><circle cx="313.2" cy="195.8" r="1.2"/><circle cx="316.2" cy="184.7" r="1.2"/><circle cx="338.5" cy="195.1" r="1.2"/><circle cx="301.6" cy="172.8" r="1.2"/><circle cx="303.0" cy="222.8" r="1.2"/><circle cx="309.7" cy="189.5" r="1.2"/><circle cx="262.3" cy="138.1" r="1.2"/><circle cx="300.7" cy="200.0" r="1.2"/><circle cx="309.6" cy="176.0" r="1.2"/><circle cx="318.5" cy="190.1" r="1.2"/><circle cx="318.0" cy="201.6" r="1.2"/><circle cx="325.4" cy="195.8" r="1.2"/><circle cx="322.5" cy="110.1" r="1.2"/><circle cx="318.8" cy="199.4" r="1.2"/><circle cx="307.6" cy="205.0" r="1.2"/><circle cx="297.1" cy="154.6" r="1.2"/><circle cx="332.5" cy="205.3" r="1.2"/><circle cx="326.7" cy="210.1" r="1.2"/><circle cx="306.1" cy="169.8" r="1.2"/><circle cx="319.6" cy="196.6" r="1.2"/><circle cx="338.3" cy="199.5" r="1.2"/><circle cx="314.3" cy="174.1" r="1.2"/><circle cx="335.4" cy="191.1" r="1.2"/><circle cx="325.5" cy="185.0" r="1.2"/><circle cx="340.4" cy="200.0" r="1.2"/><circle cx="290.2" cy="142.4" r="1.2"/><circle cx="300.3" cy="165.2" r="1.2"/><circle cx="311.5" cy="168.2" r="1.2"/><circle cx="325.3" cy="215.0" r="1.2"/><circle cx="314.2" cy="192.5" r="1.2"/><circle cx="334.9" cy="197.9" r="1.2"/><circle cx="337.6" cy="204.9" r="1.2"/><circle cx="333.4" cy="199.5" r="1.2"/><circle cx="333.8" cy="196.3" r="1.2"/><circle cx="323.0" cy="193.2" r="1.2"/><circle cx="331.7" cy="207.6" r="1.2"/><circle cx="327.9" cy="204.5" r="1.2"/><circle cx="324.1" cy="223.1" r="1.2"/><circle cx="328.0" cy="191.6" r="1.2"/><circle cx="297.1" cy="156.4" r="1.2"/><circle cx="326.5" cy="110.6" r="1.2"/><circle cx="329.9" cy="182.1" r="1.2"/><circle cx="338.6" cy="208.1" r="1.2"/><circle cx="336.6" cy="206.5" r="1.2"/><circle cx="313.7" cy="171.9" r="1.2"/><circle cx="303.3" cy="224.7" r="1.2"/><circle cx="304.4" cy="229.2" r="1.2"/><circle cx="329.2" cy="194.8" r="1.2"/><circle cx="293.4" cy="249.0" r="1.2"/><circle cx="337.7" cy="191.1" r="1.2"/><circle cx="323.1" cy="194.9" r="1.2"/><circle cx="313.9" cy="230.4" r="1.2"/><circle cx="334.7" cy="181.3" r="1.2"/><circle cx="298.6" cy="237.9" r="1.2"/><circle cx="320.3" cy="201.4" r="1.2"/><circle cx="313.8" cy="209.7" r="1.2"/><circle cx="300.3" cy="156.3" r="1.2"/><circle cx="319.4" cy="174.0" r="1.2"/><circle cx="305.4" cy="172.6" r="1.2"/><circle cx="309.9" cy="228.5" r="1.2"/><circle cx="296.6" cy="194.4" r="1.2"/><circle cx="318.7" cy="186.2" r="1.2"/><circle cx="242.2" cy="170.1" r="1.2"/><circle cx="322.0" cy="184.5" r="1.2"/><circle cx="306.5" cy="193.3" r="1.2"/><circle cx="335.9" cy="187.5" r="1.2"/><circle cx="325.8" cy="199.7" r="1.2"/><circle cx="319.7" cy="191.0" r="1.2"/><circle cx="321.6" cy="181.6" r="1.2"/><circle cx="330.3" cy="211.4" r="1.2"/><circle cx="304.5" cy="162.4" r="1.2"/><circle cx="335.3" cy="163.6" r="1.2"/><circle cx="332.2" cy="185.0" r="1.2"/><circle cx="320.6" cy="178.3" r="1.2"/><circle cx="325.0" cy="181.5" r="1.2"/><circle cx="339.6" cy="189.3" r="1.2"/><circle cx="318.6" cy="183.4" r="1.2"/><circle cx="329.1" cy="179.6" r="1.2"/><circle cx="326.4" cy="178.5" r="1.2"/><circle cx="320.0" cy="193.2" r="1.2"/><circle cx="324.5" cy="187.3" r="1.2"/><circle cx="327.8" cy="206.6" r="1.2"/><circle cx="302.3" cy="214.4" r="1.2"/><circle cx="331.4" cy="218.0" r="1.2"/><circle cx="327.1" cy="183.7" r="1.2"/><circle cx="324.4" cy="183.7" r="1.2"/><circle cx="324.1" cy="200.1" r="1.2"/><circle cx="302.4" cy="203.6" r="1.2"/><circle cx="323.4" cy="201.7" r="1.2"/><circle cx="311.1" cy="173.7" r="1.2"/><circle cx="308.4" cy="168.4" r="1.2"/><circle cx="250.3" cy="173.5" r="1.2"/><circle cx="329.6" cy="203.1" r="1.2"/><circle cx="316.2" cy="177.2" r="1.2"/><circle cx="329.2" cy="210.1" r="1.2"/><circle cx="318.5" cy="194.4" r="1.2"/><circle cx="333.3" cy="203.7" r="1.2"/><circle cx="329.4" cy="196.6" r="1.2"/><circle cx="315.6" cy="180.1" r="1.2"/><circle cx="324.9" cy="208.2" r="1.2"/><circle cx="334.8" cy="202.9" r="1.2"/><circle cx="317.8" cy="171.8" r="1.2"/><circle cx="333.3" cy="193.9" r="1.2"/><circle cx="314.6" cy="203.2" r="1.2"/><circle cx="326.0" cy="192.7" r="1.2"/><circle cx="335.6" cy="219.2" r="1.2"/><circle cx="329.4" cy="187.0" r="1.2"/><circle cx="294.0" cy="137.8" r="1.2"/><circle cx="336.3" cy="208.4" r="1.2"/><circle cx="328.0" cy="189.2" r="1.2"/></g>
<g fill="#c6e790"><circle cx="175.3" cy="213.6" r="1.2"/><circle cx="192.2" cy="204.0" r="1.2"/><circle cx="172.6" cy="204.0" r="1.2"/><circle cx="173.5" cy="219.0" r="1.2"/><circle cx="193.9" cy="235.8" r="1.2"/><circle cx="180.3" cy="204.7" r="1.2"/><circle cx="168.0" cy="223.5" r="1.2"/><circle cx="180.2" cy="215.1" r="1.2"/><circle cx="184.9" cy="203.0" r="1.2"/><circle cx="178.0" cy="149.5" r="1.2"/><circle cx="185.6" cy="207.6" r="1.2"/><circle cx="191.8" cy="201.8" r="1.2"/><circle cx="167.0" cy="218.1" r="1.2"/><circle cx="187.5" cy="203.0" r="1.2"/><circle cx="307.0" cy="147.1" r="1.2"/><circle cx="185.5" cy="182.4" r="1.2"/><circle cx="173.8" cy="223.7" r="1.2"/><circle cx="146.5" cy="165.1" r="1.2"/><circle cx="165.2" cy="216.9" r="1.2"/><circle cx="170.8" cy="212.0" r="1.2"/><circle cx="174.6" cy="198.7" r="1.2"/><circle cx="232.0" cy="188.0" r="1.2"/><circle cx="182.4" cy="197.7" r="1.2"/><circle cx="188.9" cy="197.4" r="1.2"/><circle cx="178.2" cy="217.8" r="1.2"/><circle cx="196.0" cy="246.9" r="1.2"/><circle cx="175.3" cy="211.7" r="1.2"/><circle cx="176.1" cy="219.1" r="1.2"/><circle cx="178.9" cy="207.0" r="1.2"/><circle cx="171.4" cy="213.9" r="1.2"/><circle cx="126.5" cy="168.0" r="1.2"/><circle cx="179.5" cy="191.5" r="1.2"/><circle cx="173.2" cy="200.9" r="1.2"/><circle cx="187.1" cy="194.1" r="1.2"/><circle cx="179.2" cy="193.8" r="1.2"/><circle cx="114.1" cy="147.2" r="1.2"/><circle cx="170.3" cy="224.0" r="1.2"/><circle cx="132.1" cy="188.8" r="1.2"/><circle cx="171.7" cy="222.3" r="1.2"/><circle cx="177.4" cy="215.0" r="1.2"/><circle cx="171.9" cy="239.1" r="1.2"/><circle cx="183.2" cy="205.1" r="1.2"/><circle cx="201.7" cy="214.7" r="1.2"/><circle cx="168.2" cy="207.3" r="1.2"/><circle cx="272.7" cy="209.0" r="1.2"/><circle cx="180.6" cy="200.3" r="1.2"/><circle cx="185.6" cy="210.0" r="1.2"/><circle cx="177.4" cy="202.7" r="1.2"/><circle cx="183.9" cy="211.5" r="1.2"/><circle cx="177.7" cy="192.8" r="1.2"/><circle cx="173.7" cy="208.4" r="1.2"/><circle cx="169.2" cy="209.6" r="1.2"/><circle cx="190.2" cy="205.6" r="1.2"/><circle cx="207.5" cy="222.3" r="1.2"/><circle cx="182.9" cy="215.1" r="1.2"/><circle cx="181.0" cy="190.3" r="1.2"/><circle cx="178.7" cy="220.5" r="1.2"/><circle cx="188.5" cy="232.3" r="1.2"/><circle cx="112.7" cy="180.6" r="1.2"/><circle cx="180.1" cy="230.8" r="1.2"/><circle cx="178.5" cy="199.6" r="1.2"/><circle cx="175.4" cy="202.0" r="1.2"/><circle cx="178.4" cy="196.4" r="1.2"/><circle cx="169.5" cy="204.5" r="1.2"/><circle cx="189.5" cy="242.6" r="1.2"/><circle cx="181.3" cy="192.5" r="1.2"/><circle cx="244.7" cy="199.1" r="1.2"/><circle cx="186.5" cy="196.8" r="1.2"/><circle cx="166.6" cy="211.1" r="1.2"/><circle cx="171.2" cy="216.2" r="1.2"/><circle cx="171.9" cy="208.1" r="1.2"/><circle cx="136.3" cy="106.5" r="1.2"/><circle cx="115.2" cy="156.3" r="1.2"/><circle cx="98.6" cy="191.6" r="1.2"/><circle cx="170.1" cy="219.6" r="1.2"/><circle cx="189.8" cy="201.5" r="1.2"/><circle cx="176.6" cy="199.2" r="1.2"/><circle cx="173.3" cy="221.3" r="1.2"/><circle cx="165.4" cy="212.5" r="1.2"/><circle cx="168.7" cy="212.3" r="1.2"/><circle cx="182.0" cy="201.8" r="1.2"/><circle cx="182.5" cy="209.1" r="1.2"/><circle cx="184.7" cy="194.8" r="1.2"/><circle cx="175.6" cy="205.9" r="1.2"/><circle cx="181.5" cy="216.9" r="1.2"/><circle cx="185.7" cy="193.2" r="1.2"/><circle cx="171.6" cy="202.4" r="1.2"/></g>
</g>
<g class="lab"><text transform="translate(112.6,71.6) scale(.93,1)">SNE</text><text transform="translate(280.2,52) scale(.93,1)">MO</text><text transform="translate(66,170.8) scale(.93,1)">BNE</text><text transform="translate(216.5,151.8) scale(.93,1)">BL</text><text transform="translate(138.2,205.6) scale(.93,1)">MMY</text><text transform="translate(219.6,215.2) scale(.93,1)">MEK</text><text transform="translate(332.8,181.8) scale(.93,1)">VLY</text><text transform="translate(382.6,179.7) scale(.93,1)">TAG</text><text transform="translate(147.4,237.1) scale(.93,1)">MY</text><text transform="translate(193.5,270.3) scale(.93,1)">PMY</text><text transform="translate(417.8,271.0) scale(.93,1)">LP</text><text transform="translate(81.8,287.7) scale(.93,1)">EO</text><text transform="translate(280.5,286.9) scale(.93,1)">LY</text><text transform="translate(134.8,315.9) scale(.93,1)">BA</text><text transform="translate(235.3,312.0) scale(.93,1)">SMU</text><text transform="translate(290,353.8) scale(.93,1)">ART</text><text transform="translate(125,372.8) scale(.93,1)">ERB</text></g>
<g><circle cx="467.6" cy="15.0" r="4.3" fill="#b0d1e8"/><circle cx="467.6" cy="33.2" r="4.3" fill="#2e78b8"/><circle cx="467.6" cy="51.4" r="4.3" fill="#cbe994"/><circle cx="467.6" cy="69.6" r="4.3" fill="#34a030"/><circle cx="467.6" cy="87.8" r="4.3" fill="#faa4aa"/><circle cx="467.6" cy="106.0" r="4.3" fill="#da261e"/><circle cx="467.6" cy="124.2" r="4.3" fill="#fcc070"/><circle cx="467.6" cy="142.4" r="4.3" fill="#f28208"/><circle cx="467.6" cy="160.6" r="4.3" fill="#d8b8ea"/><circle cx="467.6" cy="178.8" r="4.3" fill="#6c2cac"/><circle cx="467.6" cy="197.0" r="4.3" fill="#fdf09a"/><circle cx="467.6" cy="215.2" r="4.3" fill="#b65a26"/><circle cx="467.6" cy="233.4" r="4.3" fill="#b0d1e8"/><circle cx="467.6" cy="251.6" r="4.3" fill="#2e78b8"/><circle cx="467.6" cy="269.8" r="4.3" fill="#cbe994"/><circle cx="467.6" cy="288.0" r="4.3" fill="#34a030"/><circle cx="467.6" cy="306.2" r="4.3" fill="#faa4aa"/></g>
<g class="leg"><text transform="translate(483.2,20.4) scale(.95,1)">Segmented Neutrophil</text><text transform="translate(483.2,38.6) scale(.95,1)">Band Neutrophil</text><text transform="translate(483.2,56.8) scale(.95,1)">Metamyelocyte</text><text transform="translate(483.2,75.0) scale(.95,1)">Myelocyte</text><text transform="translate(483.2,93.2) scale(.95,1)">Promyelocyte</text><text transform="translate(483.2,111.4) scale(.95,1)">Blast</text><text transform="translate(483.2,129.6) scale(.95,1)">Eosinophil</text><text transform="translate(483.2,147.8) scale(.95,1)">Basophil</text><text transform="translate(483.2,166.0) scale(.95,1)">Lymphocyte</text><text transform="translate(483.2,184.2) scale(.95,1)">Variant Lymphocyte</text><text transform="translate(483.2,202.4) scale(.95,1)">Monocyte</text><text transform="translate(483.2,220.6) scale(.95,1)">Erythroblast</text><text transform="translate(483.2,238.8) scale(.95,1)">Platelet Aggregation</text><text transform="translate(483.2,257.0) scale(.95,1)">Large Platelet</text><text transform="translate(483.2,275.2) scale(.95,1)">Megakaryocyte</text><text transform="translate(483.2,293.4) scale(.95,1)">Smudge</text><text transform="translate(483.2,311.6) scale(.95,1)">Artifact</text></g>
</svg>
</body></html>
